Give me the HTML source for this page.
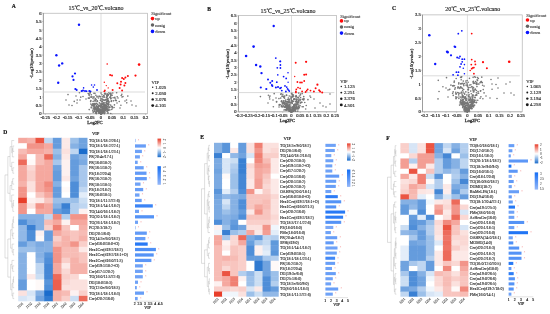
<!DOCTYPE html>
<html><head><meta charset="utf-8"><title>Volcano plots and VIP heatmaps</title>
<style>
html,body{margin:0;padding:0;background:#fff;}
body{width:550px;height:314px;overflow:hidden;}
svg{display:block;font-family:'Liberation Serif','WenQuanYi Zen Hei','Noto Serif CJK SC',serif;}
</style></head><body>
<svg width="550" height="314" viewBox="0 0 550 314">
<rect x="0" y="0" width="550" height="314" fill="#ffffff"/>
<rect x="43.30" y="13.20" width="104.00" height="100.60" fill="none" stroke="#a6a6a6" stroke-width="0.6"/>
<line x1="43.30" y1="13.20" x2="43.30" y2="113.80" stroke="#8a8a8a" stroke-width="0.7"/>
<line x1="43.30" y1="113.80" x2="147.30" y2="113.80" stroke="#b0b0b0" stroke-width="0.6"/>
<line x1="101.00" y1="13.20" x2="101.00" y2="113.80" stroke="#c8c8c8" stroke-width="0.6"/>
<line x1="43.30" y1="92.00" x2="145.00" y2="92.00" stroke="#d2d2d2" stroke-width="0.8"/>
<line x1="42.00" y1="113.80" x2="43.30" y2="113.80" stroke="#8a8a8a" stroke-width="0.4"/>
<text x="41.50" y="115.35" font-size="4.6" text-anchor="end" fill="#2b2b2b" stroke="#2b2b2b" stroke-width="0.18">0</text>
<line x1="42.00" y1="105.41" x2="43.30" y2="105.41" stroke="#8a8a8a" stroke-width="0.4"/>
<text x="41.50" y="106.96" font-size="4.6" text-anchor="end" fill="#2b2b2b" stroke="#2b2b2b" stroke-width="0.18">0.5</text>
<line x1="42.00" y1="97.03" x2="43.30" y2="97.03" stroke="#8a8a8a" stroke-width="0.4"/>
<text x="41.50" y="98.58" font-size="4.6" text-anchor="end" fill="#2b2b2b" stroke="#2b2b2b" stroke-width="0.18">1</text>
<line x1="42.00" y1="88.64" x2="43.30" y2="88.64" stroke="#8a8a8a" stroke-width="0.4"/>
<text x="41.50" y="90.19" font-size="4.6" text-anchor="end" fill="#2b2b2b" stroke="#2b2b2b" stroke-width="0.18">1.5</text>
<line x1="42.00" y1="80.26" x2="43.30" y2="80.26" stroke="#8a8a8a" stroke-width="0.4"/>
<text x="41.50" y="81.81" font-size="4.6" text-anchor="end" fill="#2b2b2b" stroke="#2b2b2b" stroke-width="0.18">2</text>
<line x1="42.00" y1="71.88" x2="43.30" y2="71.88" stroke="#8a8a8a" stroke-width="0.4"/>
<text x="41.50" y="73.42" font-size="4.6" text-anchor="end" fill="#2b2b2b" stroke="#2b2b2b" stroke-width="0.18">2.5</text>
<line x1="42.00" y1="63.49" x2="43.30" y2="63.49" stroke="#8a8a8a" stroke-width="0.4"/>
<text x="41.50" y="65.04" font-size="4.6" text-anchor="end" fill="#2b2b2b" stroke="#2b2b2b" stroke-width="0.18">3</text>
<line x1="42.00" y1="55.10" x2="43.30" y2="55.10" stroke="#8a8a8a" stroke-width="0.4"/>
<text x="41.50" y="56.65" font-size="4.6" text-anchor="end" fill="#2b2b2b" stroke="#2b2b2b" stroke-width="0.18">3.5</text>
<line x1="42.00" y1="46.72" x2="43.30" y2="46.72" stroke="#8a8a8a" stroke-width="0.4"/>
<text x="41.50" y="48.27" font-size="4.6" text-anchor="end" fill="#2b2b2b" stroke="#2b2b2b" stroke-width="0.18">4</text>
<line x1="42.00" y1="38.33" x2="43.30" y2="38.33" stroke="#8a8a8a" stroke-width="0.4"/>
<text x="41.50" y="39.88" font-size="4.6" text-anchor="end" fill="#2b2b2b" stroke="#2b2b2b" stroke-width="0.18">4.5</text>
<line x1="42.00" y1="29.95" x2="43.30" y2="29.95" stroke="#8a8a8a" stroke-width="0.4"/>
<text x="41.50" y="31.50" font-size="4.6" text-anchor="end" fill="#2b2b2b" stroke="#2b2b2b" stroke-width="0.18">5</text>
<line x1="42.00" y1="21.56" x2="43.30" y2="21.56" stroke="#8a8a8a" stroke-width="0.4"/>
<text x="41.50" y="23.11" font-size="4.6" text-anchor="end" fill="#2b2b2b" stroke="#2b2b2b" stroke-width="0.18">5.5</text>
<line x1="42.00" y1="13.18" x2="43.30" y2="13.18" stroke="#8a8a8a" stroke-width="0.4"/>
<text x="41.50" y="14.73" font-size="4.6" text-anchor="end" fill="#2b2b2b" stroke="#2b2b2b" stroke-width="0.18">6</text>
<line x1="45.33" y1="113.80" x2="45.33" y2="115.00" stroke="#8a8a8a" stroke-width="0.4"/>
<text x="45.33" y="119.20" font-size="4.6" text-anchor="middle" fill="#2b2b2b" stroke="#2b2b2b" stroke-width="0.18">-0.25</text>
<line x1="56.46" y1="113.80" x2="56.46" y2="115.00" stroke="#8a8a8a" stroke-width="0.4"/>
<text x="56.46" y="119.20" font-size="4.6" text-anchor="middle" fill="#2b2b2b" stroke="#2b2b2b" stroke-width="0.18">-0.2</text>
<line x1="67.59" y1="113.80" x2="67.59" y2="115.00" stroke="#8a8a8a" stroke-width="0.4"/>
<text x="67.59" y="119.20" font-size="4.6" text-anchor="middle" fill="#2b2b2b" stroke="#2b2b2b" stroke-width="0.18">-0.15</text>
<line x1="78.73" y1="113.80" x2="78.73" y2="115.00" stroke="#8a8a8a" stroke-width="0.4"/>
<text x="78.73" y="119.20" font-size="4.6" text-anchor="middle" fill="#2b2b2b" stroke="#2b2b2b" stroke-width="0.18">-0.1</text>
<line x1="89.86" y1="113.80" x2="89.86" y2="115.00" stroke="#8a8a8a" stroke-width="0.4"/>
<text x="89.86" y="119.20" font-size="4.6" text-anchor="middle" fill="#2b2b2b" stroke="#2b2b2b" stroke-width="0.18">-0.05</text>
<line x1="101.00" y1="113.80" x2="101.00" y2="115.00" stroke="#8a8a8a" stroke-width="0.4"/>
<text x="101.00" y="119.20" font-size="4.6" text-anchor="middle" fill="#2b2b2b" stroke="#2b2b2b" stroke-width="0.18">0</text>
<line x1="112.14" y1="113.80" x2="112.14" y2="115.00" stroke="#8a8a8a" stroke-width="0.4"/>
<text x="112.14" y="119.20" font-size="4.6" text-anchor="middle" fill="#2b2b2b" stroke="#2b2b2b" stroke-width="0.18">0.05</text>
<line x1="123.27" y1="113.80" x2="123.27" y2="115.00" stroke="#8a8a8a" stroke-width="0.4"/>
<text x="123.27" y="119.20" font-size="4.6" text-anchor="middle" fill="#2b2b2b" stroke="#2b2b2b" stroke-width="0.18">0.1</text>
<line x1="134.41" y1="113.80" x2="134.41" y2="115.00" stroke="#8a8a8a" stroke-width="0.4"/>
<text x="134.41" y="119.20" font-size="4.6" text-anchor="middle" fill="#2b2b2b" stroke="#2b2b2b" stroke-width="0.18">0.15</text>
<line x1="145.54" y1="113.80" x2="145.54" y2="115.00" stroke="#8a8a8a" stroke-width="0.4"/>
<text x="145.54" y="119.20" font-size="4.6" text-anchor="middle" fill="#2b2b2b" stroke="#2b2b2b" stroke-width="0.18">0.2</text>
<text x="95.00" y="123.90" font-size="4.6" text-anchor="middle" fill="#2b2b2b" stroke="#2b2b2b" stroke-width="0.28">Log2FC</text>
<text x="32.80" y="63.20" font-size="4.8" text-anchor="middle" fill="#2b2b2b" stroke="#2b2b2b" stroke-width="0.2" transform="rotate(-90 32.80 63.20)">-Log10(pvalue)</text>
<text x="96.00" y="9.60" font-size="6.2" text-anchor="middle" fill="#222" stroke="#222" stroke-width="0.15" textLength="55" lengthAdjust="spacingAndGlyphs">15℃_vs_20℃.volcano</text>
<text x="13.80" y="7.60" font-size="5.6" text-anchor="middle" fill="#111" stroke="#111" stroke-width="0.18" font-weight="bold">A</text>
<circle cx="109.49" cy="107.08" r="0.82" fill="#767676"/>
<circle cx="96.35" cy="106.20" r="0.82" fill="#767676"/>
<circle cx="99.47" cy="112.01" r="0.82" fill="#767676"/>
<circle cx="103.41" cy="111.13" r="0.82" fill="#767676"/>
<circle cx="102.06" cy="112.28" r="0.82" fill="#767676"/>
<circle cx="97.06" cy="96.32" r="0.82" fill="#767676"/>
<circle cx="102.79" cy="106.78" r="0.82" fill="#767676"/>
<circle cx="100.75" cy="108.99" r="0.82" fill="#767676"/>
<circle cx="105.72" cy="109.12" r="0.82" fill="#767676"/>
<circle cx="94.78" cy="111.07" r="0.82" fill="#767676"/>
<circle cx="97.72" cy="108.51" r="0.82" fill="#767676"/>
<circle cx="100.27" cy="113.16" r="0.82" fill="#767676"/>
<circle cx="107.24" cy="99.80" r="0.82" fill="#767676"/>
<circle cx="106.17" cy="102.84" r="0.82" fill="#767676"/>
<circle cx="109.86" cy="109.88" r="0.82" fill="#767676"/>
<circle cx="108.34" cy="103.97" r="0.82" fill="#767676"/>
<circle cx="92.84" cy="103.80" r="0.82" fill="#767676"/>
<circle cx="100.65" cy="113.43" r="0.82" fill="#767676"/>
<circle cx="94.44" cy="109.66" r="0.82" fill="#767676"/>
<circle cx="103.40" cy="102.88" r="0.82" fill="#767676"/>
<circle cx="98.51" cy="108.50" r="0.82" fill="#767676"/>
<circle cx="93.27" cy="105.50" r="0.82" fill="#767676"/>
<circle cx="88.73" cy="93.91" r="0.82" fill="#767676"/>
<circle cx="102.07" cy="112.27" r="0.82" fill="#767676"/>
<circle cx="90.25" cy="96.97" r="0.82" fill="#767676"/>
<circle cx="90.84" cy="104.07" r="0.82" fill="#767676"/>
<circle cx="97.47" cy="109.52" r="0.82" fill="#767676"/>
<circle cx="113.09" cy="97.79" r="0.82" fill="#767676"/>
<circle cx="101.14" cy="113.71" r="0.82" fill="#767676"/>
<circle cx="95.41" cy="112.76" r="0.82" fill="#767676"/>
<circle cx="104.09" cy="97.03" r="0.82" fill="#767676"/>
<circle cx="96.64" cy="109.21" r="0.82" fill="#767676"/>
<circle cx="105.06" cy="93.58" r="0.82" fill="#767676"/>
<circle cx="103.50" cy="111.66" r="0.82" fill="#767676"/>
<circle cx="93.13" cy="101.48" r="0.82" fill="#767676"/>
<circle cx="106.88" cy="104.97" r="0.82" fill="#767676"/>
<circle cx="94.62" cy="104.18" r="0.82" fill="#767676"/>
<circle cx="115.37" cy="100.48" r="0.82" fill="#767676"/>
<circle cx="106.75" cy="95.67" r="0.82" fill="#767676"/>
<circle cx="98.80" cy="106.87" r="0.82" fill="#767676"/>
<circle cx="102.28" cy="113.04" r="0.82" fill="#767676"/>
<circle cx="102.13" cy="112.86" r="0.82" fill="#767676"/>
<circle cx="101.11" cy="113.68" r="0.82" fill="#767676"/>
<circle cx="106.64" cy="107.90" r="0.82" fill="#767676"/>
<circle cx="104.31" cy="105.75" r="0.82" fill="#767676"/>
<circle cx="100.88" cy="113.72" r="0.82" fill="#767676"/>
<circle cx="116.28" cy="100.61" r="0.82" fill="#767676"/>
<circle cx="98.41" cy="105.28" r="0.82" fill="#767676"/>
<circle cx="101.19" cy="113.55" r="0.82" fill="#767676"/>
<circle cx="104.23" cy="111.41" r="0.82" fill="#767676"/>
<circle cx="106.40" cy="103.49" r="0.82" fill="#767676"/>
<circle cx="99.78" cy="112.37" r="0.82" fill="#767676"/>
<circle cx="99.58" cy="109.55" r="0.82" fill="#767676"/>
<circle cx="111.05" cy="106.98" r="0.82" fill="#767676"/>
<circle cx="101.58" cy="112.79" r="0.82" fill="#767676"/>
<circle cx="102.59" cy="104.40" r="0.82" fill="#767676"/>
<circle cx="106.28" cy="97.36" r="0.82" fill="#767676"/>
<circle cx="95.79" cy="99.25" r="0.82" fill="#767676"/>
<circle cx="100.14" cy="113.17" r="0.82" fill="#767676"/>
<circle cx="101.51" cy="112.93" r="0.82" fill="#767676"/>
<circle cx="108.90" cy="92.81" r="0.82" fill="#767676"/>
<circle cx="99.45" cy="112.09" r="0.82" fill="#767676"/>
<circle cx="102.70" cy="108.93" r="0.82" fill="#767676"/>
<circle cx="91.63" cy="104.98" r="0.82" fill="#767676"/>
<circle cx="110.75" cy="97.51" r="0.82" fill="#767676"/>
<circle cx="106.68" cy="97.94" r="0.82" fill="#767676"/>
<circle cx="105.75" cy="105.02" r="0.82" fill="#767676"/>
<circle cx="114.46" cy="97.85" r="0.82" fill="#767676"/>
<circle cx="107.49" cy="98.89" r="0.82" fill="#767676"/>
<circle cx="103.73" cy="111.09" r="0.82" fill="#767676"/>
<circle cx="109.78" cy="97.35" r="0.82" fill="#767676"/>
<circle cx="111.44" cy="100.93" r="0.82" fill="#767676"/>
<circle cx="98.40" cy="110.24" r="0.82" fill="#767676"/>
<circle cx="107.95" cy="100.19" r="0.82" fill="#767676"/>
<circle cx="105.37" cy="105.71" r="0.82" fill="#767676"/>
<circle cx="102.44" cy="96.86" r="0.82" fill="#767676"/>
<circle cx="105.28" cy="108.14" r="0.82" fill="#767676"/>
<circle cx="106.86" cy="101.50" r="0.82" fill="#767676"/>
<circle cx="102.47" cy="107.68" r="0.82" fill="#767676"/>
<circle cx="94.92" cy="93.39" r="0.82" fill="#767676"/>
<circle cx="105.27" cy="105.15" r="0.82" fill="#767676"/>
<circle cx="99.95" cy="112.60" r="0.82" fill="#767676"/>
<circle cx="101.21" cy="113.59" r="0.82" fill="#767676"/>
<circle cx="93.12" cy="111.22" r="0.82" fill="#767676"/>
<circle cx="102.48" cy="108.25" r="0.82" fill="#767676"/>
<circle cx="94.20" cy="97.01" r="0.82" fill="#767676"/>
<circle cx="97.60" cy="108.49" r="0.82" fill="#767676"/>
<circle cx="101.51" cy="112.77" r="0.82" fill="#767676"/>
<circle cx="107.93" cy="98.48" r="0.82" fill="#767676"/>
<circle cx="97.42" cy="104.41" r="0.82" fill="#767676"/>
<circle cx="99.71" cy="111.19" r="0.82" fill="#767676"/>
<circle cx="103.65" cy="95.62" r="0.82" fill="#767676"/>
<circle cx="89.19" cy="109.58" r="0.82" fill="#767676"/>
<circle cx="96.76" cy="111.84" r="0.82" fill="#767676"/>
<circle cx="98.84" cy="111.38" r="0.82" fill="#767676"/>
<circle cx="111.33" cy="101.40" r="0.82" fill="#767676"/>
<circle cx="108.33" cy="95.11" r="0.82" fill="#767676"/>
<circle cx="107.37" cy="111.74" r="0.82" fill="#767676"/>
<circle cx="105.00" cy="93.33" r="0.82" fill="#767676"/>
<circle cx="110.89" cy="93.22" r="0.82" fill="#767676"/>
<circle cx="93.17" cy="104.37" r="0.82" fill="#767676"/>
<circle cx="103.46" cy="111.89" r="0.82" fill="#767676"/>
<circle cx="96.44" cy="113.61" r="0.82" fill="#767676"/>
<circle cx="99.58" cy="111.40" r="0.82" fill="#767676"/>
<circle cx="126.75" cy="102.86" r="0.82" fill="#767676"/>
<circle cx="110.75" cy="93.22" r="0.82" fill="#767676"/>
<circle cx="100.82" cy="113.64" r="0.82" fill="#767676"/>
<circle cx="104.84" cy="109.37" r="0.82" fill="#767676"/>
<circle cx="106.93" cy="97.04" r="0.82" fill="#767676"/>
<circle cx="119.24" cy="101.51" r="0.82" fill="#767676"/>
<circle cx="103.10" cy="99.91" r="0.82" fill="#767676"/>
<circle cx="102.10" cy="106.17" r="0.82" fill="#767676"/>
<circle cx="106.59" cy="101.67" r="0.82" fill="#767676"/>
<circle cx="102.07" cy="112.71" r="0.82" fill="#767676"/>
<circle cx="99.22" cy="105.55" r="0.82" fill="#767676"/>
<circle cx="94.65" cy="108.06" r="0.82" fill="#767676"/>
<circle cx="107.22" cy="106.65" r="0.82" fill="#767676"/>
<circle cx="103.39" cy="111.27" r="0.82" fill="#767676"/>
<circle cx="105.71" cy="107.29" r="0.82" fill="#767676"/>
<circle cx="95.37" cy="107.28" r="0.82" fill="#767676"/>
<circle cx="105.62" cy="107.24" r="0.82" fill="#767676"/>
<circle cx="102.15" cy="103.38" r="0.82" fill="#767676"/>
<circle cx="103.57" cy="111.33" r="0.82" fill="#767676"/>
<circle cx="94.07" cy="105.82" r="0.82" fill="#767676"/>
<circle cx="98.21" cy="106.92" r="0.82" fill="#767676"/>
<circle cx="96.15" cy="99.76" r="0.82" fill="#767676"/>
<circle cx="95.52" cy="107.86" r="0.82" fill="#767676"/>
<circle cx="101.96" cy="112.70" r="0.82" fill="#767676"/>
<circle cx="91.23" cy="107.87" r="0.82" fill="#767676"/>
<circle cx="107.88" cy="100.62" r="0.82" fill="#767676"/>
<circle cx="101.34" cy="113.56" r="0.82" fill="#767676"/>
<circle cx="106.23" cy="109.46" r="0.82" fill="#767676"/>
<circle cx="97.28" cy="109.09" r="0.82" fill="#767676"/>
<circle cx="106.48" cy="105.66" r="0.82" fill="#767676"/>
<circle cx="97.29" cy="108.80" r="0.82" fill="#767676"/>
<circle cx="105.41" cy="107.72" r="0.82" fill="#767676"/>
<circle cx="99.57" cy="112.30" r="0.82" fill="#767676"/>
<circle cx="99.09" cy="112.24" r="0.82" fill="#767676"/>
<circle cx="101.03" cy="103.88" r="0.82" fill="#767676"/>
<circle cx="89.16" cy="95.55" r="0.82" fill="#767676"/>
<circle cx="74.24" cy="101.44" r="0.82" fill="#767676"/>
<circle cx="100.36" cy="112.32" r="0.82" fill="#767676"/>
<circle cx="103.42" cy="104.57" r="0.82" fill="#767676"/>
<circle cx="102.54" cy="99.11" r="0.82" fill="#767676"/>
<circle cx="99.91" cy="110.23" r="0.82" fill="#767676"/>
<circle cx="100.59" cy="96.86" r="0.82" fill="#767676"/>
<circle cx="95.87" cy="95.21" r="0.82" fill="#767676"/>
<circle cx="90.85" cy="100.48" r="0.82" fill="#767676"/>
<circle cx="102.23" cy="113.17" r="0.82" fill="#767676"/>
<circle cx="109.01" cy="101.62" r="0.82" fill="#767676"/>
<circle cx="100.42" cy="100.38" r="0.82" fill="#767676"/>
<circle cx="101.04" cy="98.76" r="0.82" fill="#767676"/>
<circle cx="94.21" cy="100.09" r="0.82" fill="#767676"/>
<circle cx="100.76" cy="113.42" r="0.82" fill="#767676"/>
<circle cx="99.04" cy="112.82" r="0.82" fill="#767676"/>
<circle cx="100.75" cy="112.72" r="0.82" fill="#767676"/>
<circle cx="94.09" cy="107.09" r="0.82" fill="#767676"/>
<circle cx="92.97" cy="98.31" r="0.82" fill="#767676"/>
<circle cx="94.26" cy="105.86" r="0.82" fill="#767676"/>
<circle cx="104.35" cy="108.69" r="0.82" fill="#767676"/>
<circle cx="104.29" cy="113.69" r="0.82" fill="#767676"/>
<circle cx="103.11" cy="100.10" r="0.82" fill="#767676"/>
<circle cx="94.98" cy="108.96" r="0.82" fill="#767676"/>
<circle cx="99.59" cy="113.09" r="0.82" fill="#767676"/>
<circle cx="126.54" cy="100.05" r="0.82" fill="#767676"/>
<circle cx="100.27" cy="111.68" r="0.82" fill="#767676"/>
<circle cx="103.87" cy="105.64" r="0.82" fill="#767676"/>
<circle cx="111.79" cy="109.40" r="0.82" fill="#767676"/>
<circle cx="98.66" cy="110.43" r="0.82" fill="#767676"/>
<circle cx="103.63" cy="110.20" r="0.82" fill="#767676"/>
<circle cx="108.49" cy="104.33" r="0.82" fill="#767676"/>
<circle cx="92.01" cy="105.25" r="0.82" fill="#767676"/>
<circle cx="94.11" cy="108.59" r="0.82" fill="#767676"/>
<circle cx="101.13" cy="113.65" r="0.82" fill="#767676"/>
<circle cx="102.97" cy="110.10" r="0.82" fill="#767676"/>
<circle cx="110.80" cy="95.38" r="0.82" fill="#767676"/>
<circle cx="79.42" cy="92.80" r="0.82" fill="#767676"/>
<circle cx="97.18" cy="108.98" r="0.82" fill="#767676"/>
<circle cx="114.03" cy="107.53" r="0.82" fill="#767676"/>
<circle cx="100.68" cy="113.51" r="0.82" fill="#767676"/>
<circle cx="102.63" cy="110.96" r="0.82" fill="#767676"/>
<circle cx="100.38" cy="109.78" r="0.82" fill="#767676"/>
<circle cx="103.76" cy="103.22" r="0.82" fill="#767676"/>
<circle cx="114.86" cy="97.21" r="0.82" fill="#767676"/>
<circle cx="110.71" cy="94.70" r="0.82" fill="#767676"/>
<circle cx="98.90" cy="113.22" r="0.82" fill="#767676"/>
<circle cx="101.15" cy="105.61" r="0.82" fill="#767676"/>
<circle cx="77.20" cy="100.00" r="0.82" fill="#767676"/>
<circle cx="103.45" cy="108.58" r="0.82" fill="#767676"/>
<circle cx="101.81" cy="112.81" r="0.82" fill="#767676"/>
<circle cx="95.88" cy="108.76" r="0.82" fill="#767676"/>
<circle cx="98.65" cy="111.45" r="0.82" fill="#767676"/>
<circle cx="104.65" cy="104.59" r="0.82" fill="#767676"/>
<circle cx="88.19" cy="93.54" r="0.82" fill="#767676"/>
<circle cx="103.48" cy="110.26" r="0.82" fill="#767676"/>
<circle cx="102.97" cy="111.35" r="0.82" fill="#767676"/>
<circle cx="110.67" cy="98.73" r="0.82" fill="#767676"/>
<circle cx="93.04" cy="104.94" r="0.82" fill="#767676"/>
<circle cx="99.78" cy="112.62" r="0.82" fill="#767676"/>
<circle cx="103.68" cy="110.22" r="0.82" fill="#767676"/>
<circle cx="97.31" cy="100.95" r="0.82" fill="#767676"/>
<circle cx="100.19" cy="113.20" r="0.82" fill="#767676"/>
<circle cx="107.67" cy="95.71" r="0.82" fill="#767676"/>
<circle cx="111.04" cy="98.57" r="0.82" fill="#767676"/>
<circle cx="100.90" cy="105.12" r="0.82" fill="#767676"/>
<circle cx="100.87" cy="113.74" r="0.82" fill="#767676"/>
<circle cx="93.91" cy="93.21" r="0.82" fill="#767676"/>
<circle cx="104.00" cy="110.71" r="0.82" fill="#767676"/>
<circle cx="99.14" cy="105.59" r="0.82" fill="#767676"/>
<circle cx="101.72" cy="101.16" r="0.82" fill="#767676"/>
<circle cx="96.00" cy="113.36" r="0.82" fill="#767676"/>
<circle cx="107.55" cy="110.10" r="0.82" fill="#767676"/>
<circle cx="95.96" cy="108.57" r="0.82" fill="#767676"/>
<circle cx="104.96" cy="99.95" r="0.82" fill="#767676"/>
<circle cx="108.96" cy="104.28" r="0.82" fill="#767676"/>
<circle cx="102.30" cy="106.96" r="0.82" fill="#767676"/>
<circle cx="107.24" cy="101.36" r="0.82" fill="#767676"/>
<circle cx="108.33" cy="101.23" r="0.82" fill="#767676"/>
<circle cx="101.45" cy="105.08" r="0.82" fill="#767676"/>
<circle cx="106.43" cy="99.81" r="0.82" fill="#767676"/>
<circle cx="108.02" cy="103.54" r="0.82" fill="#767676"/>
<circle cx="100.60" cy="106.28" r="0.82" fill="#767676"/>
<circle cx="108.66" cy="110.21" r="0.82" fill="#767676"/>
<circle cx="96.23" cy="109.87" r="0.82" fill="#767676"/>
<circle cx="103.42" cy="110.75" r="0.82" fill="#767676"/>
<circle cx="88.39" cy="98.16" r="0.82" fill="#767676"/>
<circle cx="102.56" cy="110.13" r="0.82" fill="#767676"/>
<circle cx="117.19" cy="96.75" r="0.82" fill="#767676"/>
<circle cx="98.89" cy="111.49" r="0.82" fill="#767676"/>
<circle cx="109.64" cy="93.80" r="0.82" fill="#767676"/>
<circle cx="97.25" cy="109.92" r="0.82" fill="#767676"/>
<circle cx="102.62" cy="111.75" r="0.82" fill="#767676"/>
<circle cx="102.44" cy="113.12" r="0.82" fill="#767676"/>
<circle cx="90.25" cy="92.57" r="0.82" fill="#767676"/>
<circle cx="106.15" cy="108.18" r="0.82" fill="#767676"/>
<circle cx="110.74" cy="113.46" r="0.82" fill="#767676"/>
<circle cx="97.36" cy="107.16" r="0.82" fill="#767676"/>
<circle cx="106.34" cy="109.07" r="0.82" fill="#767676"/>
<circle cx="101.10" cy="113.71" r="0.82" fill="#767676"/>
<circle cx="100.28" cy="110.58" r="0.82" fill="#767676"/>
<circle cx="102.95" cy="107.47" r="0.82" fill="#767676"/>
<circle cx="108.14" cy="104.55" r="0.82" fill="#767676"/>
<circle cx="103.72" cy="109.66" r="0.82" fill="#767676"/>
<circle cx="102.02" cy="112.56" r="0.82" fill="#767676"/>
<circle cx="102.63" cy="109.01" r="0.82" fill="#767676"/>
<circle cx="103.03" cy="111.46" r="0.82" fill="#767676"/>
<circle cx="100.81" cy="109.63" r="0.82" fill="#767676"/>
<circle cx="107.20" cy="101.36" r="0.82" fill="#767676"/>
<circle cx="100.34" cy="112.67" r="0.82" fill="#767676"/>
<circle cx="110.53" cy="96.52" r="0.82" fill="#767676"/>
<circle cx="102.43" cy="101.47" r="0.82" fill="#767676"/>
<circle cx="100.88" cy="113.34" r="0.82" fill="#767676"/>
<circle cx="103.26" cy="106.99" r="0.82" fill="#767676"/>
<circle cx="93.47" cy="104.82" r="0.82" fill="#767676"/>
<circle cx="103.66" cy="111.03" r="0.82" fill="#767676"/>
<circle cx="89.27" cy="98.17" r="0.82" fill="#767676"/>
<circle cx="98.77" cy="108.21" r="0.82" fill="#767676"/>
<circle cx="105.00" cy="112.79" r="0.82" fill="#767676"/>
<circle cx="101.05" cy="113.72" r="0.82" fill="#767676"/>
<circle cx="108.89" cy="102.61" r="0.82" fill="#767676"/>
<circle cx="99.64" cy="109.47" r="0.82" fill="#767676"/>
<circle cx="108.51" cy="105.82" r="0.82" fill="#767676"/>
<circle cx="101.62" cy="105.70" r="0.82" fill="#767676"/>
<circle cx="108.33" cy="100.53" r="0.82" fill="#767676"/>
<circle cx="98.94" cy="96.35" r="0.82" fill="#767676"/>
<circle cx="98.63" cy="108.90" r="0.82" fill="#767676"/>
<circle cx="100.71" cy="107.28" r="0.82" fill="#767676"/>
<circle cx="97.27" cy="108.84" r="0.82" fill="#767676"/>
<circle cx="104.84" cy="102.76" r="0.82" fill="#767676"/>
<circle cx="112.76" cy="93.00" r="0.82" fill="#767676"/>
<circle cx="116.62" cy="92.73" r="0.82" fill="#767676"/>
<circle cx="89.24" cy="94.20" r="0.82" fill="#767676"/>
<circle cx="107.67" cy="94.67" r="0.82" fill="#767676"/>
<circle cx="102.92" cy="112.48" r="0.82" fill="#767676"/>
<circle cx="121.82" cy="94.27" r="0.82" fill="#767676"/>
<circle cx="103.70" cy="108.25" r="0.82" fill="#767676"/>
<circle cx="101.71" cy="110.94" r="0.82" fill="#767676"/>
<circle cx="96.71" cy="103.77" r="0.82" fill="#767676"/>
<circle cx="98.45" cy="111.28" r="0.82" fill="#767676"/>
<circle cx="100.54" cy="113.55" r="0.82" fill="#767676"/>
<circle cx="105.51" cy="110.65" r="0.82" fill="#767676"/>
<circle cx="101.32" cy="110.99" r="0.82" fill="#767676"/>
<circle cx="107.71" cy="110.17" r="0.82" fill="#767676"/>
<circle cx="103.60" cy="110.88" r="0.82" fill="#767676"/>
<circle cx="94.94" cy="101.09" r="0.82" fill="#767676"/>
<circle cx="109.58" cy="107.59" r="0.82" fill="#767676"/>
<circle cx="99.49" cy="112.69" r="0.82" fill="#767676"/>
<circle cx="96.27" cy="108.53" r="0.82" fill="#767676"/>
<circle cx="94.56" cy="111.23" r="0.82" fill="#767676"/>
<circle cx="100.63" cy="113.24" r="0.82" fill="#767676"/>
<circle cx="104.51" cy="106.98" r="0.82" fill="#767676"/>
<circle cx="105.85" cy="106.57" r="0.82" fill="#767676"/>
<circle cx="93.19" cy="108.07" r="0.82" fill="#767676"/>
<circle cx="101.97" cy="94.79" r="0.82" fill="#767676"/>
<circle cx="98.24" cy="108.58" r="0.82" fill="#767676"/>
<circle cx="104.82" cy="110.31" r="0.82" fill="#767676"/>
<circle cx="103.14" cy="110.87" r="0.82" fill="#767676"/>
<circle cx="102.44" cy="106.72" r="0.82" fill="#767676"/>
<circle cx="122.94" cy="96.57" r="0.82" fill="#767676"/>
<circle cx="114.42" cy="104.91" r="0.82" fill="#767676"/>
<circle cx="108.42" cy="108.02" r="0.82" fill="#767676"/>
<circle cx="97.12" cy="111.43" r="0.82" fill="#767676"/>
<circle cx="92.77" cy="110.30" r="0.82" fill="#767676"/>
<circle cx="106.47" cy="111.03" r="0.82" fill="#767676"/>
<circle cx="93.24" cy="105.70" r="0.82" fill="#767676"/>
<circle cx="104.91" cy="109.95" r="0.82" fill="#767676"/>
<circle cx="111.17" cy="95.10" r="0.82" fill="#767676"/>
<circle cx="102.49" cy="113.38" r="0.82" fill="#767676"/>
<circle cx="96.10" cy="112.17" r="0.82" fill="#767676"/>
<circle cx="96.95" cy="108.65" r="0.82" fill="#767676"/>
<circle cx="97.08" cy="106.37" r="0.82" fill="#767676"/>
<circle cx="99.78" cy="105.70" r="0.82" fill="#767676"/>
<circle cx="101.51" cy="104.76" r="0.82" fill="#767676"/>
<circle cx="101.35" cy="112.89" r="0.82" fill="#767676"/>
<circle cx="105.50" cy="110.41" r="0.82" fill="#767676"/>
<circle cx="107.00" cy="108.19" r="0.82" fill="#767676"/>
<circle cx="93.31" cy="104.11" r="0.82" fill="#767676"/>
<circle cx="99.71" cy="112.05" r="0.82" fill="#767676"/>
<circle cx="98.47" cy="98.05" r="0.82" fill="#767676"/>
<circle cx="100.94" cy="113.66" r="0.82" fill="#767676"/>
<circle cx="127.80" cy="96.12" r="0.82" fill="#767676"/>
<circle cx="80.74" cy="97.14" r="0.82" fill="#767676"/>
<circle cx="107.02" cy="103.64" r="0.82" fill="#767676"/>
<circle cx="108.41" cy="94.63" r="0.82" fill="#767676"/>
<circle cx="108.00" cy="112.99" r="0.82" fill="#767676"/>
<circle cx="101.09" cy="113.67" r="0.82" fill="#767676"/>
<circle cx="102.19" cy="109.28" r="0.82" fill="#767676"/>
<circle cx="97.17" cy="110.20" r="0.82" fill="#767676"/>
<circle cx="99.82" cy="111.62" r="0.82" fill="#767676"/>
<circle cx="100.79" cy="113.61" r="0.82" fill="#767676"/>
<circle cx="104.85" cy="100.40" r="0.82" fill="#767676"/>
<circle cx="101.53" cy="111.28" r="0.82" fill="#767676"/>
<circle cx="99.03" cy="110.43" r="0.82" fill="#767676"/>
<circle cx="96.33" cy="103.29" r="0.82" fill="#767676"/>
<circle cx="121.20" cy="95.47" r="0.82" fill="#767676"/>
<circle cx="112.24" cy="106.83" r="0.82" fill="#767676"/>
<circle cx="107.96" cy="109.48" r="0.82" fill="#767676"/>
<circle cx="100.54" cy="113.33" r="0.82" fill="#767676"/>
<circle cx="95.05" cy="104.58" r="0.82" fill="#767676"/>
<circle cx="99.34" cy="109.69" r="0.82" fill="#767676"/>
<circle cx="90.09" cy="92.91" r="0.82" fill="#767676"/>
<circle cx="96.19" cy="107.95" r="0.82" fill="#767676"/>
<circle cx="101.01" cy="113.78" r="0.82" fill="#767676"/>
<circle cx="96.13" cy="108.43" r="0.82" fill="#767676"/>
<circle cx="99.30" cy="111.66" r="0.82" fill="#767676"/>
<circle cx="100.16" cy="112.72" r="0.82" fill="#767676"/>
<circle cx="103.32" cy="111.28" r="0.82" fill="#767676"/>
<circle cx="107.64" cy="110.64" r="0.82" fill="#767676"/>
<circle cx="110.63" cy="105.09" r="0.82" fill="#767676"/>
<circle cx="112.18" cy="95.27" r="0.82" fill="#767676"/>
<circle cx="103.91" cy="95.75" r="0.82" fill="#767676"/>
<circle cx="100.92" cy="106.67" r="0.82" fill="#767676"/>
<circle cx="102.00" cy="103.13" r="0.82" fill="#767676"/>
<circle cx="98.61" cy="108.88" r="0.82" fill="#767676"/>
<circle cx="101.15" cy="99.12" r="0.82" fill="#767676"/>
<circle cx="96.82" cy="109.32" r="0.82" fill="#767676"/>
<circle cx="101.15" cy="113.63" r="0.82" fill="#767676"/>
<circle cx="104.51" cy="94.00" r="0.82" fill="#767676"/>
<circle cx="104.29" cy="104.37" r="0.82" fill="#767676"/>
<circle cx="104.05" cy="97.18" r="0.82" fill="#767676"/>
<circle cx="112.60" cy="107.88" r="0.82" fill="#767676"/>
<circle cx="105.59" cy="99.55" r="0.82" fill="#767676"/>
<circle cx="103.59" cy="106.26" r="0.82" fill="#767676"/>
<circle cx="100.82" cy="113.46" r="0.82" fill="#767676"/>
<circle cx="104.99" cy="109.66" r="0.82" fill="#767676"/>
<circle cx="91.31" cy="107.02" r="0.82" fill="#767676"/>
<circle cx="99.51" cy="96.39" r="0.82" fill="#767676"/>
<circle cx="96.40" cy="105.93" r="0.82" fill="#767676"/>
<circle cx="100.12" cy="104.01" r="0.82" fill="#767676"/>
<circle cx="108.32" cy="110.40" r="0.82" fill="#767676"/>
<circle cx="100.79" cy="113.66" r="0.82" fill="#767676"/>
<circle cx="107.16" cy="93.91" r="0.82" fill="#767676"/>
<circle cx="104.62" cy="108.23" r="0.82" fill="#767676"/>
<circle cx="94.87" cy="109.33" r="0.82" fill="#767676"/>
<circle cx="95.54" cy="100.74" r="0.82" fill="#767676"/>
<circle cx="106.10" cy="105.20" r="0.82" fill="#767676"/>
<circle cx="93.12" cy="105.91" r="0.82" fill="#767676"/>
<circle cx="99.38" cy="102.94" r="0.82" fill="#767676"/>
<circle cx="104.00" cy="112.81" r="0.82" fill="#767676"/>
<circle cx="103.28" cy="111.71" r="0.82" fill="#767676"/>
<circle cx="101.45" cy="107.86" r="0.82" fill="#767676"/>
<circle cx="102.64" cy="111.94" r="0.82" fill="#767676"/>
<circle cx="97.31" cy="101.48" r="0.82" fill="#767676"/>
<circle cx="95.24" cy="98.51" r="0.82" fill="#767676"/>
<circle cx="97.01" cy="97.03" r="0.82" fill="#767676"/>
<circle cx="107.90" cy="112.98" r="0.82" fill="#767676"/>
<circle cx="93.23" cy="112.34" r="0.82" fill="#767676"/>
<circle cx="102.22" cy="112.53" r="0.82" fill="#767676"/>
<circle cx="91.36" cy="97.21" r="0.82" fill="#767676"/>
<circle cx="93.47" cy="109.03" r="0.82" fill="#767676"/>
<circle cx="113.44" cy="100.86" r="0.82" fill="#767676"/>
<circle cx="97.04" cy="110.76" r="0.82" fill="#767676"/>
<circle cx="100.71" cy="113.60" r="0.82" fill="#767676"/>
<circle cx="94.64" cy="107.38" r="0.82" fill="#767676"/>
<circle cx="107.92" cy="101.84" r="0.82" fill="#767676"/>
<circle cx="102.19" cy="112.55" r="0.82" fill="#767676"/>
<circle cx="95.09" cy="103.68" r="0.82" fill="#767676"/>
<circle cx="102.33" cy="111.96" r="0.82" fill="#767676"/>
<circle cx="104.33" cy="111.25" r="0.82" fill="#767676"/>
<circle cx="101.05" cy="93.07" r="0.82" fill="#767676"/>
<circle cx="94.32" cy="103.57" r="0.82" fill="#767676"/>
<circle cx="96.37" cy="111.00" r="0.82" fill="#767676"/>
<circle cx="101.17" cy="109.56" r="0.82" fill="#767676"/>
<circle cx="102.84" cy="109.10" r="0.82" fill="#767676"/>
<circle cx="115.57" cy="98.96" r="0.82" fill="#767676"/>
<circle cx="107.06" cy="106.45" r="0.82" fill="#767676"/>
<circle cx="90.66" cy="101.61" r="0.82" fill="#767676"/>
<circle cx="94.93" cy="107.39" r="0.82" fill="#767676"/>
<circle cx="101.81" cy="112.68" r="0.82" fill="#767676"/>
<circle cx="100.26" cy="112.90" r="0.82" fill="#767676"/>
<circle cx="103.38" cy="109.91" r="0.82" fill="#767676"/>
<circle cx="93.24" cy="97.06" r="0.82" fill="#767676"/>
<circle cx="97.41" cy="101.19" r="0.82" fill="#767676"/>
<circle cx="107.06" cy="108.28" r="0.82" fill="#767676"/>
<circle cx="94.91" cy="111.27" r="0.82" fill="#767676"/>
<circle cx="101.56" cy="112.59" r="0.82" fill="#767676"/>
<circle cx="104.19" cy="110.35" r="0.82" fill="#767676"/>
<circle cx="107.26" cy="96.43" r="0.82" fill="#767676"/>
<circle cx="104.20" cy="110.93" r="0.82" fill="#767676"/>
<circle cx="97.87" cy="109.54" r="0.82" fill="#767676"/>
<circle cx="120.90" cy="105.30" r="0.82" fill="#767676"/>
<circle cx="103.13" cy="112.43" r="0.82" fill="#767676"/>
<circle cx="99.54" cy="113.14" r="0.82" fill="#767676"/>
<circle cx="99.91" cy="105.96" r="0.82" fill="#767676"/>
<circle cx="99.57" cy="111.79" r="0.82" fill="#767676"/>
<circle cx="99.78" cy="112.54" r="0.82" fill="#767676"/>
<circle cx="102.04" cy="111.15" r="0.82" fill="#767676"/>
<circle cx="98.23" cy="108.02" r="0.82" fill="#767676"/>
<circle cx="97.69" cy="107.45" r="0.82" fill="#767676"/>
<circle cx="91.27" cy="94.83" r="0.82" fill="#767676"/>
<circle cx="104.31" cy="106.25" r="0.82" fill="#767676"/>
<circle cx="100.28" cy="111.41" r="0.82" fill="#767676"/>
<circle cx="107.54" cy="99.92" r="0.82" fill="#767676"/>
<circle cx="93.64" cy="105.55" r="0.82" fill="#767676"/>
<circle cx="99.51" cy="111.74" r="0.82" fill="#767676"/>
<circle cx="101.82" cy="111.70" r="0.82" fill="#767676"/>
<circle cx="95.86" cy="109.76" r="0.82" fill="#767676"/>
<circle cx="104.01" cy="106.51" r="0.82" fill="#767676"/>
<circle cx="105.97" cy="94.27" r="0.82" fill="#767676"/>
<circle cx="108.74" cy="106.95" r="0.82" fill="#767676"/>
<circle cx="102.50" cy="112.02" r="0.82" fill="#767676"/>
<circle cx="111.81" cy="106.23" r="0.82" fill="#767676"/>
<circle cx="107.72" cy="104.10" r="0.82" fill="#767676"/>
<circle cx="104.82" cy="107.79" r="0.82" fill="#767676"/>
<circle cx="91.80" cy="96.79" r="0.82" fill="#767676"/>
<circle cx="106.92" cy="101.86" r="0.82" fill="#767676"/>
<circle cx="96.61" cy="112.09" r="0.82" fill="#767676"/>
<circle cx="105.26" cy="107.64" r="0.82" fill="#767676"/>
<circle cx="103.61" cy="111.99" r="0.82" fill="#767676"/>
<circle cx="101.42" cy="113.28" r="0.82" fill="#767676"/>
<circle cx="68.00" cy="94.60" r="0.82" fill="#767676"/>
<circle cx="76.00" cy="96.00" r="0.82" fill="#767676"/>
<circle cx="66.00" cy="100.00" r="0.82" fill="#767676"/>
<circle cx="69.00" cy="105.00" r="0.82" fill="#767676"/>
<circle cx="72.00" cy="105.50" r="0.82" fill="#767676"/>
<circle cx="77.00" cy="103.00" r="0.82" fill="#767676"/>
<circle cx="83.00" cy="96.50" r="0.82" fill="#767676"/>
<circle cx="118.00" cy="98.00" r="0.82" fill="#767676"/>
<circle cx="122.00" cy="97.00" r="0.82" fill="#767676"/>
<circle cx="125.00" cy="101.00" r="0.82" fill="#767676"/>
<circle cx="131.00" cy="101.00" r="0.82" fill="#767676"/>
<circle cx="132.00" cy="105.00" r="0.82" fill="#767676"/>
<circle cx="136.00" cy="106.00" r="0.82" fill="#767676"/>
<circle cx="117.00" cy="103.00" r="0.82" fill="#767676"/>
<circle cx="120.00" cy="108.00" r="0.82" fill="#767676"/>
<circle cx="80.00" cy="100.00" r="0.82" fill="#767676"/>
<circle cx="86.00" cy="99.00" r="0.82" fill="#767676"/>
<circle cx="79.00" cy="24.80" r="1.20" fill="#0a14ff"/>
<circle cx="56.40" cy="55.20" r="1.20" fill="#0a14ff"/>
<circle cx="59.10" cy="65.50" r="1.20" fill="#0a14ff"/>
<circle cx="62.20" cy="63.40" r="1.20" fill="#0a14ff"/>
<circle cx="58.20" cy="82.70" r="1.20" fill="#0a14ff"/>
<circle cx="72.50" cy="76.40" r="1.10" fill="#0a14ff"/>
<circle cx="75.00" cy="73.50" r="1.10" fill="#0a14ff"/>
<circle cx="73.50" cy="79.90" r="1.10" fill="#0a14ff"/>
<circle cx="75.40" cy="89.00" r="1.10" fill="#0a14ff"/>
<circle cx="76.70" cy="90.00" r="1.00" fill="#0a14ff"/>
<circle cx="81.70" cy="91.00" r="1.10" fill="#0a14ff"/>
<circle cx="83.60" cy="87.90" r="0.80" fill="#0a14ff"/>
<circle cx="83.00" cy="90.40" r="1.00" fill="#0a14ff"/>
<circle cx="85.00" cy="91.00" r="1.00" fill="#0a14ff"/>
<circle cx="89.30" cy="91.00" r="1.00" fill="#0a14ff"/>
<circle cx="91.60" cy="85.00" r="0.80" fill="#0a14ff"/>
<circle cx="94.50" cy="85.00" r="0.80" fill="#0a14ff"/>
<circle cx="97.00" cy="90.00" r="0.90" fill="#0a14ff"/>
<circle cx="93.30" cy="87.10" r="0.80" fill="#0a14ff"/>
<circle cx="90.60" cy="91.30" r="0.90" fill="#0a14ff"/>
<circle cx="86.50" cy="91.20" r="0.90" fill="#0a14ff"/>
<circle cx="107.20" cy="64.00" r="0.80" fill="#ff0a0a"/>
<circle cx="139.10" cy="64.60" r="1.30" fill="#ff0a0a"/>
<circle cx="110.10" cy="75.10" r="1.00" fill="#ff0a0a"/>
<circle cx="112.00" cy="75.60" r="1.00" fill="#ff0a0a"/>
<circle cx="135.50" cy="75.60" r="1.10" fill="#ff0a0a"/>
<circle cx="127.90" cy="76.00" r="1.00" fill="#ff0a0a"/>
<circle cx="125.40" cy="77.40" r="1.00" fill="#ff0a0a"/>
<circle cx="122.10" cy="78.00" r="1.00" fill="#ff0a0a"/>
<circle cx="123.80" cy="78.90" r="1.00" fill="#ff0a0a"/>
<circle cx="117.30" cy="83.30" r="1.00" fill="#ff0a0a"/>
<circle cx="121.00" cy="81.80" r="1.00" fill="#ff0a0a"/>
<circle cx="125.40" cy="83.10" r="1.00" fill="#ff0a0a"/>
<circle cx="120.60" cy="84.60" r="1.00" fill="#ff0a0a"/>
<circle cx="124.40" cy="85.60" r="1.00" fill="#ff0a0a"/>
<circle cx="119.60" cy="87.90" r="1.00" fill="#ff0a0a"/>
<circle cx="122.10" cy="90.40" r="1.00" fill="#ff0a0a"/>
<circle cx="112.60" cy="90.00" r="1.00" fill="#ff0a0a"/>
<circle cx="104.30" cy="82.30" r="0.70" fill="#ff0a0a"/>
<circle cx="106.30" cy="85.60" r="0.70" fill="#ff0a0a"/>
<circle cx="108.20" cy="87.90" r="0.70" fill="#ff0a0a"/>
<circle cx="104.90" cy="90.40" r="0.90" fill="#ff0a0a"/>
<circle cx="104.30" cy="91.30" r="0.90" fill="#ff0a0a"/>
<text x="151.20" y="15.00" font-size="4.6" text-anchor="start" fill="#444" stroke="#444" stroke-width="0.1">Significant</text>
<circle cx="152.50" cy="18.60" r="1.80" fill="#ff0a0a"/>
<text x="155.20" y="20.10" font-size="4.5" text-anchor="start" fill="#333" stroke="#333" stroke-width="0.1">up</text>
<circle cx="152.50" cy="25.00" r="1.75" fill="#626262"/>
<text x="155.20" y="26.50" font-size="4.5" text-anchor="start" fill="#333" stroke="#333" stroke-width="0.1">nosig</text>
<circle cx="152.50" cy="31.40" r="1.80" fill="#0a14ff"/>
<text x="155.20" y="32.90" font-size="4.5" text-anchor="start" fill="#333" stroke="#333" stroke-width="0.1">down</text>
<text x="151.60" y="84.00" font-size="4.6" text-anchor="start" fill="#333" stroke="#333" stroke-width="0.12">VIP</text>
<circle cx="152.70" cy="87.20" r="0.70" fill="#1a1a1a"/>
<text x="155.30" y="88.85" font-size="4.9" text-anchor="start" fill="#333" stroke="#333" stroke-width="0.15">1.025</text>
<circle cx="152.70" cy="93.30" r="0.95" fill="#1a1a1a"/>
<text x="155.30" y="94.95" font-size="4.9" text-anchor="start" fill="#333" stroke="#333" stroke-width="0.15">2.050</text>
<circle cx="152.70" cy="99.40" r="1.20" fill="#1a1a1a"/>
<text x="155.30" y="101.05" font-size="4.9" text-anchor="start" fill="#333" stroke="#333" stroke-width="0.15">3.076</text>
<circle cx="152.70" cy="105.60" r="1.45" fill="#1a1a1a"/>
<text x="155.30" y="107.25" font-size="4.9" text-anchor="start" fill="#333" stroke="#333" stroke-width="0.15">4.101</text>
<rect x="238.40" y="15.70" width="98.30" height="96.10" fill="none" stroke="#a6a6a6" stroke-width="0.6"/>
<line x1="238.40" y1="15.70" x2="238.40" y2="111.80" stroke="#8a8a8a" stroke-width="0.7"/>
<line x1="238.40" y1="111.80" x2="336.70" y2="111.80" stroke="#b0b0b0" stroke-width="0.6"/>
<line x1="291.50" y1="15.70" x2="291.50" y2="111.80" stroke="#c8c8c8" stroke-width="0.6"/>
<line x1="238.40" y1="92.59" x2="334.40" y2="92.59" stroke="#d2d2d2" stroke-width="0.8"/>
<line x1="237.10" y1="111.80" x2="238.40" y2="111.80" stroke="#8a8a8a" stroke-width="0.4"/>
<text x="236.60" y="113.35" font-size="4.6" text-anchor="end" fill="#2b2b2b" stroke="#2b2b2b" stroke-width="0.18">0</text>
<line x1="237.10" y1="104.41" x2="238.40" y2="104.41" stroke="#8a8a8a" stroke-width="0.4"/>
<text x="236.60" y="105.96" font-size="4.6" text-anchor="end" fill="#2b2b2b" stroke="#2b2b2b" stroke-width="0.18">0.5</text>
<line x1="237.10" y1="97.02" x2="238.40" y2="97.02" stroke="#8a8a8a" stroke-width="0.4"/>
<text x="236.60" y="98.57" font-size="4.6" text-anchor="end" fill="#2b2b2b" stroke="#2b2b2b" stroke-width="0.18">1</text>
<line x1="237.10" y1="89.63" x2="238.40" y2="89.63" stroke="#8a8a8a" stroke-width="0.4"/>
<text x="236.60" y="91.18" font-size="4.6" text-anchor="end" fill="#2b2b2b" stroke="#2b2b2b" stroke-width="0.18">1.5</text>
<line x1="237.10" y1="82.24" x2="238.40" y2="82.24" stroke="#8a8a8a" stroke-width="0.4"/>
<text x="236.60" y="83.79" font-size="4.6" text-anchor="end" fill="#2b2b2b" stroke="#2b2b2b" stroke-width="0.18">2</text>
<line x1="237.10" y1="74.85" x2="238.40" y2="74.85" stroke="#8a8a8a" stroke-width="0.4"/>
<text x="236.60" y="76.40" font-size="4.6" text-anchor="end" fill="#2b2b2b" stroke="#2b2b2b" stroke-width="0.18">2.5</text>
<line x1="237.10" y1="67.46" x2="238.40" y2="67.46" stroke="#8a8a8a" stroke-width="0.4"/>
<text x="236.60" y="69.01" font-size="4.6" text-anchor="end" fill="#2b2b2b" stroke="#2b2b2b" stroke-width="0.18">3</text>
<line x1="237.10" y1="60.07" x2="238.40" y2="60.07" stroke="#8a8a8a" stroke-width="0.4"/>
<text x="236.60" y="61.62" font-size="4.6" text-anchor="end" fill="#2b2b2b" stroke="#2b2b2b" stroke-width="0.18">3.5</text>
<line x1="237.10" y1="52.68" x2="238.40" y2="52.68" stroke="#8a8a8a" stroke-width="0.4"/>
<text x="236.60" y="54.23" font-size="4.6" text-anchor="end" fill="#2b2b2b" stroke="#2b2b2b" stroke-width="0.18">4</text>
<line x1="237.10" y1="45.29" x2="238.40" y2="45.29" stroke="#8a8a8a" stroke-width="0.4"/>
<text x="236.60" y="46.84" font-size="4.6" text-anchor="end" fill="#2b2b2b" stroke="#2b2b2b" stroke-width="0.18">4.5</text>
<line x1="237.10" y1="37.90" x2="238.40" y2="37.90" stroke="#8a8a8a" stroke-width="0.4"/>
<text x="236.60" y="39.45" font-size="4.6" text-anchor="end" fill="#2b2b2b" stroke="#2b2b2b" stroke-width="0.18">5</text>
<line x1="237.10" y1="30.51" x2="238.40" y2="30.51" stroke="#8a8a8a" stroke-width="0.4"/>
<text x="236.60" y="32.06" font-size="4.6" text-anchor="end" fill="#2b2b2b" stroke="#2b2b2b" stroke-width="0.18">5.5</text>
<line x1="237.10" y1="23.12" x2="238.40" y2="23.12" stroke="#8a8a8a" stroke-width="0.4"/>
<text x="236.60" y="24.67" font-size="4.6" text-anchor="end" fill="#2b2b2b" stroke="#2b2b2b" stroke-width="0.18">6</text>
<line x1="237.10" y1="15.73" x2="238.40" y2="15.73" stroke="#8a8a8a" stroke-width="0.4"/>
<text x="236.60" y="17.28" font-size="4.6" text-anchor="end" fill="#2b2b2b" stroke="#2b2b2b" stroke-width="0.18">6.5</text>
<line x1="239.21" y1="111.80" x2="239.21" y2="113.00" stroke="#8a8a8a" stroke-width="0.4"/>
<text x="239.21" y="117.20" font-size="4.6" text-anchor="middle" fill="#2b2b2b" stroke="#2b2b2b" stroke-width="0.18">-0.3</text>
<line x1="247.93" y1="111.80" x2="247.93" y2="113.00" stroke="#8a8a8a" stroke-width="0.4"/>
<text x="247.93" y="117.20" font-size="4.6" text-anchor="middle" fill="#2b2b2b" stroke="#2b2b2b" stroke-width="0.18">-0.25</text>
<line x1="256.64" y1="111.80" x2="256.64" y2="113.00" stroke="#8a8a8a" stroke-width="0.4"/>
<text x="256.64" y="117.20" font-size="4.6" text-anchor="middle" fill="#2b2b2b" stroke="#2b2b2b" stroke-width="0.18">-0.2</text>
<line x1="265.36" y1="111.80" x2="265.36" y2="113.00" stroke="#8a8a8a" stroke-width="0.4"/>
<text x="265.36" y="117.20" font-size="4.6" text-anchor="middle" fill="#2b2b2b" stroke="#2b2b2b" stroke-width="0.18">-0.15</text>
<line x1="274.07" y1="111.80" x2="274.07" y2="113.00" stroke="#8a8a8a" stroke-width="0.4"/>
<text x="274.07" y="117.20" font-size="4.6" text-anchor="middle" fill="#2b2b2b" stroke="#2b2b2b" stroke-width="0.18">-0.1</text>
<line x1="282.79" y1="111.80" x2="282.79" y2="113.00" stroke="#8a8a8a" stroke-width="0.4"/>
<text x="282.79" y="117.20" font-size="4.6" text-anchor="middle" fill="#2b2b2b" stroke="#2b2b2b" stroke-width="0.18">-0.05</text>
<line x1="291.50" y1="111.80" x2="291.50" y2="113.00" stroke="#8a8a8a" stroke-width="0.4"/>
<text x="291.50" y="117.20" font-size="4.6" text-anchor="middle" fill="#2b2b2b" stroke="#2b2b2b" stroke-width="0.18">0</text>
<line x1="300.21" y1="111.80" x2="300.21" y2="113.00" stroke="#8a8a8a" stroke-width="0.4"/>
<text x="300.21" y="117.20" font-size="4.6" text-anchor="middle" fill="#2b2b2b" stroke="#2b2b2b" stroke-width="0.18">0.05</text>
<line x1="308.93" y1="111.80" x2="308.93" y2="113.00" stroke="#8a8a8a" stroke-width="0.4"/>
<text x="308.93" y="117.20" font-size="4.6" text-anchor="middle" fill="#2b2b2b" stroke="#2b2b2b" stroke-width="0.18">0.1</text>
<line x1="317.64" y1="111.80" x2="317.64" y2="113.00" stroke="#8a8a8a" stroke-width="0.4"/>
<text x="317.64" y="117.20" font-size="4.6" text-anchor="middle" fill="#2b2b2b" stroke="#2b2b2b" stroke-width="0.18">0.15</text>
<line x1="326.36" y1="111.80" x2="326.36" y2="113.00" stroke="#8a8a8a" stroke-width="0.4"/>
<text x="326.36" y="117.20" font-size="4.6" text-anchor="middle" fill="#2b2b2b" stroke="#2b2b2b" stroke-width="0.18">0.2</text>
<line x1="335.07" y1="111.80" x2="335.07" y2="113.00" stroke="#8a8a8a" stroke-width="0.4"/>
<text x="335.07" y="117.20" font-size="4.6" text-anchor="middle" fill="#2b2b2b" stroke="#2b2b2b" stroke-width="0.18">0.25</text>
<text x="287.30" y="121.50" font-size="4.6" text-anchor="middle" fill="#2b2b2b" stroke="#2b2b2b" stroke-width="0.28">Log2FC</text>
<text x="228.60" y="64.00" font-size="4.8" text-anchor="middle" fill="#2b2b2b" stroke="#2b2b2b" stroke-width="0.2" transform="rotate(-90 228.60 64.00)">-Log10(pvalue)</text>
<text x="288.00" y="12.80" font-size="6.2" text-anchor="middle" fill="#222" stroke="#222" stroke-width="0.15" textLength="55" lengthAdjust="spacingAndGlyphs">15℃_vs_25℃.volcano</text>
<text x="209.20" y="11.30" font-size="5.6" text-anchor="middle" fill="#111" stroke="#111" stroke-width="0.18" font-weight="bold">B</text>
<circle cx="285.81" cy="105.54" r="0.82" fill="#767676"/>
<circle cx="300.49" cy="103.10" r="0.82" fill="#767676"/>
<circle cx="292.55" cy="109.96" r="0.82" fill="#767676"/>
<circle cx="304.76" cy="102.47" r="0.82" fill="#767676"/>
<circle cx="283.87" cy="100.93" r="0.82" fill="#767676"/>
<circle cx="293.78" cy="110.40" r="0.82" fill="#767676"/>
<circle cx="289.71" cy="110.63" r="0.82" fill="#767676"/>
<circle cx="283.80" cy="96.66" r="0.82" fill="#767676"/>
<circle cx="300.26" cy="102.24" r="0.82" fill="#767676"/>
<circle cx="287.94" cy="107.94" r="0.82" fill="#767676"/>
<circle cx="291.27" cy="111.68" r="0.82" fill="#767676"/>
<circle cx="300.55" cy="97.62" r="0.82" fill="#767676"/>
<circle cx="291.74" cy="111.66" r="0.82" fill="#767676"/>
<circle cx="281.45" cy="101.45" r="0.82" fill="#767676"/>
<circle cx="269.73" cy="98.98" r="0.82" fill="#767676"/>
<circle cx="295.21" cy="111.20" r="0.82" fill="#767676"/>
<circle cx="284.01" cy="110.02" r="0.82" fill="#767676"/>
<circle cx="292.41" cy="100.95" r="0.82" fill="#767676"/>
<circle cx="291.59" cy="100.48" r="0.82" fill="#767676"/>
<circle cx="294.48" cy="109.09" r="0.82" fill="#767676"/>
<circle cx="292.01" cy="110.97" r="0.82" fill="#767676"/>
<circle cx="296.19" cy="99.38" r="0.82" fill="#767676"/>
<circle cx="295.18" cy="103.82" r="0.82" fill="#767676"/>
<circle cx="300.11" cy="100.22" r="0.82" fill="#767676"/>
<circle cx="287.02" cy="109.12" r="0.82" fill="#767676"/>
<circle cx="283.93" cy="97.41" r="0.82" fill="#767676"/>
<circle cx="294.78" cy="104.99" r="0.82" fill="#767676"/>
<circle cx="291.91" cy="111.52" r="0.82" fill="#767676"/>
<circle cx="298.79" cy="103.96" r="0.82" fill="#767676"/>
<circle cx="284.73" cy="102.67" r="0.82" fill="#767676"/>
<circle cx="291.90" cy="111.40" r="0.82" fill="#767676"/>
<circle cx="284.30" cy="104.25" r="0.82" fill="#767676"/>
<circle cx="288.75" cy="106.02" r="0.82" fill="#767676"/>
<circle cx="293.53" cy="109.52" r="0.82" fill="#767676"/>
<circle cx="290.70" cy="110.94" r="0.82" fill="#767676"/>
<circle cx="289.84" cy="104.90" r="0.82" fill="#767676"/>
<circle cx="297.64" cy="102.50" r="0.82" fill="#767676"/>
<circle cx="292.57" cy="110.63" r="0.82" fill="#767676"/>
<circle cx="288.99" cy="107.61" r="0.82" fill="#767676"/>
<circle cx="285.70" cy="106.18" r="0.82" fill="#767676"/>
<circle cx="292.31" cy="108.90" r="0.82" fill="#767676"/>
<circle cx="282.81" cy="103.19" r="0.82" fill="#767676"/>
<circle cx="293.65" cy="107.50" r="0.82" fill="#767676"/>
<circle cx="286.92" cy="105.40" r="0.82" fill="#767676"/>
<circle cx="298.74" cy="100.51" r="0.82" fill="#767676"/>
<circle cx="289.89" cy="106.82" r="0.82" fill="#767676"/>
<circle cx="293.77" cy="106.55" r="0.82" fill="#767676"/>
<circle cx="285.48" cy="101.12" r="0.82" fill="#767676"/>
<circle cx="291.29" cy="111.62" r="0.82" fill="#767676"/>
<circle cx="296.21" cy="102.30" r="0.82" fill="#767676"/>
<circle cx="292.42" cy="108.46" r="0.82" fill="#767676"/>
<circle cx="288.03" cy="104.00" r="0.82" fill="#767676"/>
<circle cx="287.18" cy="101.90" r="0.82" fill="#767676"/>
<circle cx="289.69" cy="108.32" r="0.82" fill="#767676"/>
<circle cx="291.93" cy="110.60" r="0.82" fill="#767676"/>
<circle cx="293.36" cy="94.95" r="0.82" fill="#767676"/>
<circle cx="276.57" cy="101.67" r="0.82" fill="#767676"/>
<circle cx="291.26" cy="102.40" r="0.82" fill="#767676"/>
<circle cx="295.20" cy="105.87" r="0.82" fill="#767676"/>
<circle cx="297.87" cy="104.77" r="0.82" fill="#767676"/>
<circle cx="290.51" cy="111.07" r="0.82" fill="#767676"/>
<circle cx="292.21" cy="102.13" r="0.82" fill="#767676"/>
<circle cx="296.59" cy="104.67" r="0.82" fill="#767676"/>
<circle cx="293.54" cy="111.33" r="0.82" fill="#767676"/>
<circle cx="286.69" cy="103.71" r="0.82" fill="#767676"/>
<circle cx="292.96" cy="110.43" r="0.82" fill="#767676"/>
<circle cx="298.66" cy="108.27" r="0.82" fill="#767676"/>
<circle cx="291.82" cy="111.56" r="0.82" fill="#767676"/>
<circle cx="291.15" cy="110.19" r="0.82" fill="#767676"/>
<circle cx="290.97" cy="111.03" r="0.82" fill="#767676"/>
<circle cx="292.31" cy="111.14" r="0.82" fill="#767676"/>
<circle cx="297.91" cy="99.28" r="0.82" fill="#767676"/>
<circle cx="287.59" cy="101.54" r="0.82" fill="#767676"/>
<circle cx="282.20" cy="103.05" r="0.82" fill="#767676"/>
<circle cx="289.46" cy="99.20" r="0.82" fill="#767676"/>
<circle cx="300.17" cy="99.57" r="0.82" fill="#767676"/>
<circle cx="289.26" cy="110.90" r="0.82" fill="#767676"/>
<circle cx="304.07" cy="98.89" r="0.82" fill="#767676"/>
<circle cx="288.46" cy="105.52" r="0.82" fill="#767676"/>
<circle cx="296.21" cy="104.75" r="0.82" fill="#767676"/>
<circle cx="289.09" cy="106.23" r="0.82" fill="#767676"/>
<circle cx="288.88" cy="107.03" r="0.82" fill="#767676"/>
<circle cx="292.33" cy="108.38" r="0.82" fill="#767676"/>
<circle cx="290.97" cy="102.30" r="0.82" fill="#767676"/>
<circle cx="293.68" cy="99.50" r="0.82" fill="#767676"/>
<circle cx="281.39" cy="106.80" r="0.82" fill="#767676"/>
<circle cx="281.49" cy="101.61" r="0.82" fill="#767676"/>
<circle cx="274.17" cy="93.67" r="0.82" fill="#767676"/>
<circle cx="289.98" cy="108.40" r="0.82" fill="#767676"/>
<circle cx="291.42" cy="97.28" r="0.82" fill="#767676"/>
<circle cx="291.67" cy="111.50" r="0.82" fill="#767676"/>
<circle cx="296.05" cy="95.54" r="0.82" fill="#767676"/>
<circle cx="293.63" cy="105.27" r="0.82" fill="#767676"/>
<circle cx="289.82" cy="102.20" r="0.82" fill="#767676"/>
<circle cx="303.65" cy="99.89" r="0.82" fill="#767676"/>
<circle cx="296.67" cy="106.53" r="0.82" fill="#767676"/>
<circle cx="294.17" cy="109.07" r="0.82" fill="#767676"/>
<circle cx="292.53" cy="94.56" r="0.82" fill="#767676"/>
<circle cx="296.76" cy="100.57" r="0.82" fill="#767676"/>
<circle cx="292.33" cy="111.00" r="0.82" fill="#767676"/>
<circle cx="268.40" cy="95.30" r="0.82" fill="#767676"/>
<circle cx="295.54" cy="108.53" r="0.82" fill="#767676"/>
<circle cx="296.14" cy="96.83" r="0.82" fill="#767676"/>
<circle cx="283.30" cy="101.04" r="0.82" fill="#767676"/>
<circle cx="293.23" cy="110.55" r="0.82" fill="#767676"/>
<circle cx="283.48" cy="105.94" r="0.82" fill="#767676"/>
<circle cx="288.45" cy="108.22" r="0.82" fill="#767676"/>
<circle cx="296.85" cy="104.74" r="0.82" fill="#767676"/>
<circle cx="288.28" cy="102.56" r="0.82" fill="#767676"/>
<circle cx="288.36" cy="106.69" r="0.82" fill="#767676"/>
<circle cx="292.97" cy="110.33" r="0.82" fill="#767676"/>
<circle cx="282.20" cy="96.00" r="0.82" fill="#767676"/>
<circle cx="292.19" cy="111.21" r="0.82" fill="#767676"/>
<circle cx="284.55" cy="98.14" r="0.82" fill="#767676"/>
<circle cx="291.45" cy="93.85" r="0.82" fill="#767676"/>
<circle cx="293.21" cy="110.21" r="0.82" fill="#767676"/>
<circle cx="292.25" cy="109.55" r="0.82" fill="#767676"/>
<circle cx="279.04" cy="107.03" r="0.82" fill="#767676"/>
<circle cx="288.96" cy="107.02" r="0.82" fill="#767676"/>
<circle cx="286.61" cy="108.09" r="0.82" fill="#767676"/>
<circle cx="291.05" cy="110.72" r="0.82" fill="#767676"/>
<circle cx="288.04" cy="108.26" r="0.82" fill="#767676"/>
<circle cx="291.89" cy="93.22" r="0.82" fill="#767676"/>
<circle cx="292.26" cy="110.22" r="0.82" fill="#767676"/>
<circle cx="303.72" cy="96.63" r="0.82" fill="#767676"/>
<circle cx="292.36" cy="109.71" r="0.82" fill="#767676"/>
<circle cx="293.35" cy="109.83" r="0.82" fill="#767676"/>
<circle cx="291.61" cy="111.41" r="0.82" fill="#767676"/>
<circle cx="286.96" cy="109.38" r="0.82" fill="#767676"/>
<circle cx="290.19" cy="110.54" r="0.82" fill="#767676"/>
<circle cx="294.26" cy="107.23" r="0.82" fill="#767676"/>
<circle cx="292.16" cy="111.43" r="0.82" fill="#767676"/>
<circle cx="297.60" cy="102.61" r="0.82" fill="#767676"/>
<circle cx="286.40" cy="107.59" r="0.82" fill="#767676"/>
<circle cx="289.26" cy="95.99" r="0.82" fill="#767676"/>
<circle cx="289.83" cy="110.03" r="0.82" fill="#767676"/>
<circle cx="292.54" cy="96.52" r="0.82" fill="#767676"/>
<circle cx="285.87" cy="105.66" r="0.82" fill="#767676"/>
<circle cx="289.46" cy="104.07" r="0.82" fill="#767676"/>
<circle cx="286.46" cy="109.41" r="0.82" fill="#767676"/>
<circle cx="297.60" cy="108.31" r="0.82" fill="#767676"/>
<circle cx="298.28" cy="97.66" r="0.82" fill="#767676"/>
<circle cx="293.73" cy="110.03" r="0.82" fill="#767676"/>
<circle cx="288.87" cy="106.61" r="0.82" fill="#767676"/>
<circle cx="291.69" cy="110.41" r="0.82" fill="#767676"/>
<circle cx="295.76" cy="111.20" r="0.82" fill="#767676"/>
<circle cx="288.25" cy="105.29" r="0.82" fill="#767676"/>
<circle cx="292.26" cy="111.18" r="0.82" fill="#767676"/>
<circle cx="298.68" cy="93.07" r="0.82" fill="#767676"/>
<circle cx="289.54" cy="110.65" r="0.82" fill="#767676"/>
<circle cx="273.35" cy="106.73" r="0.82" fill="#767676"/>
<circle cx="292.62" cy="109.94" r="0.82" fill="#767676"/>
<circle cx="302.17" cy="93.62" r="0.82" fill="#767676"/>
<circle cx="295.52" cy="109.28" r="0.82" fill="#767676"/>
<circle cx="289.44" cy="108.78" r="0.82" fill="#767676"/>
<circle cx="290.03" cy="110.47" r="0.82" fill="#767676"/>
<circle cx="280.77" cy="98.07" r="0.82" fill="#767676"/>
<circle cx="292.23" cy="110.67" r="0.82" fill="#767676"/>
<circle cx="291.57" cy="111.68" r="0.82" fill="#767676"/>
<circle cx="285.59" cy="101.98" r="0.82" fill="#767676"/>
<circle cx="303.38" cy="99.03" r="0.82" fill="#767676"/>
<circle cx="291.22" cy="111.49" r="0.82" fill="#767676"/>
<circle cx="296.61" cy="106.74" r="0.82" fill="#767676"/>
<circle cx="260.42" cy="96.62" r="0.82" fill="#767676"/>
<circle cx="293.10" cy="110.62" r="0.82" fill="#767676"/>
<circle cx="287.41" cy="108.20" r="0.82" fill="#767676"/>
<circle cx="288.71" cy="105.99" r="0.82" fill="#767676"/>
<circle cx="294.50" cy="104.69" r="0.82" fill="#767676"/>
<circle cx="290.08" cy="111.07" r="0.82" fill="#767676"/>
<circle cx="299.35" cy="96.02" r="0.82" fill="#767676"/>
<circle cx="290.72" cy="110.47" r="0.82" fill="#767676"/>
<circle cx="297.80" cy="111.14" r="0.82" fill="#767676"/>
<circle cx="286.44" cy="95.19" r="0.82" fill="#767676"/>
<circle cx="289.11" cy="111.25" r="0.82" fill="#767676"/>
<circle cx="293.60" cy="109.82" r="0.82" fill="#767676"/>
<circle cx="294.00" cy="109.24" r="0.82" fill="#767676"/>
<circle cx="290.38" cy="110.54" r="0.82" fill="#767676"/>
<circle cx="289.56" cy="107.75" r="0.82" fill="#767676"/>
<circle cx="287.53" cy="106.58" r="0.82" fill="#767676"/>
<circle cx="288.62" cy="99.21" r="0.82" fill="#767676"/>
<circle cx="298.79" cy="105.98" r="0.82" fill="#767676"/>
<circle cx="290.81" cy="111.30" r="0.82" fill="#767676"/>
<circle cx="300.01" cy="105.64" r="0.82" fill="#767676"/>
<circle cx="285.66" cy="109.92" r="0.82" fill="#767676"/>
<circle cx="284.09" cy="106.87" r="0.82" fill="#767676"/>
<circle cx="293.56" cy="107.53" r="0.82" fill="#767676"/>
<circle cx="297.89" cy="97.40" r="0.82" fill="#767676"/>
<circle cx="292.00" cy="111.51" r="0.82" fill="#767676"/>
<circle cx="300.40" cy="94.99" r="0.82" fill="#767676"/>
<circle cx="292.83" cy="97.11" r="0.82" fill="#767676"/>
<circle cx="286.28" cy="110.26" r="0.82" fill="#767676"/>
<circle cx="289.79" cy="107.86" r="0.82" fill="#767676"/>
<circle cx="294.52" cy="107.43" r="0.82" fill="#767676"/>
<circle cx="291.14" cy="111.42" r="0.82" fill="#767676"/>
<circle cx="291.41" cy="111.77" r="0.82" fill="#767676"/>
<circle cx="289.52" cy="100.95" r="0.82" fill="#767676"/>
<circle cx="292.95" cy="95.60" r="0.82" fill="#767676"/>
<circle cx="290.60" cy="110.84" r="0.82" fill="#767676"/>
<circle cx="294.00" cy="98.89" r="0.82" fill="#767676"/>
<circle cx="288.18" cy="107.97" r="0.82" fill="#767676"/>
<circle cx="301.91" cy="102.24" r="0.82" fill="#767676"/>
<circle cx="290.32" cy="110.39" r="0.82" fill="#767676"/>
<circle cx="287.23" cy="109.38" r="0.82" fill="#767676"/>
<circle cx="290.56" cy="109.90" r="0.82" fill="#767676"/>
<circle cx="293.28" cy="110.33" r="0.82" fill="#767676"/>
<circle cx="292.93" cy="109.60" r="0.82" fill="#767676"/>
<circle cx="296.09" cy="109.01" r="0.82" fill="#767676"/>
<circle cx="295.41" cy="101.43" r="0.82" fill="#767676"/>
<circle cx="289.88" cy="109.46" r="0.82" fill="#767676"/>
<circle cx="283.43" cy="102.13" r="0.82" fill="#767676"/>
<circle cx="286.33" cy="105.88" r="0.82" fill="#767676"/>
<circle cx="293.77" cy="110.61" r="0.82" fill="#767676"/>
<circle cx="290.79" cy="111.08" r="0.82" fill="#767676"/>
<circle cx="293.45" cy="108.87" r="0.82" fill="#767676"/>
<circle cx="286.83" cy="106.13" r="0.82" fill="#767676"/>
<circle cx="291.87" cy="107.45" r="0.82" fill="#767676"/>
<circle cx="286.61" cy="108.09" r="0.82" fill="#767676"/>
<circle cx="288.73" cy="106.47" r="0.82" fill="#767676"/>
<circle cx="296.77" cy="107.16" r="0.82" fill="#767676"/>
<circle cx="294.47" cy="98.75" r="0.82" fill="#767676"/>
<circle cx="287.31" cy="108.81" r="0.82" fill="#767676"/>
<circle cx="287.54" cy="99.49" r="0.82" fill="#767676"/>
<circle cx="290.86" cy="103.28" r="0.82" fill="#767676"/>
<circle cx="282.78" cy="104.11" r="0.82" fill="#767676"/>
<circle cx="294.38" cy="99.39" r="0.82" fill="#767676"/>
<circle cx="290.57" cy="111.77" r="0.82" fill="#767676"/>
<circle cx="276.58" cy="101.92" r="0.82" fill="#767676"/>
<circle cx="291.58" cy="111.62" r="0.82" fill="#767676"/>
<circle cx="296.61" cy="101.48" r="0.82" fill="#767676"/>
<circle cx="284.44" cy="103.86" r="0.82" fill="#767676"/>
<circle cx="288.99" cy="110.29" r="0.82" fill="#767676"/>
<circle cx="286.43" cy="107.47" r="0.82" fill="#767676"/>
<circle cx="283.78" cy="96.36" r="0.82" fill="#767676"/>
<circle cx="291.52" cy="111.78" r="0.82" fill="#767676"/>
<circle cx="293.90" cy="108.50" r="0.82" fill="#767676"/>
<circle cx="290.53" cy="106.95" r="0.82" fill="#767676"/>
<circle cx="296.12" cy="96.61" r="0.82" fill="#767676"/>
<circle cx="290.47" cy="110.85" r="0.82" fill="#767676"/>
<circle cx="291.26" cy="111.39" r="0.82" fill="#767676"/>
<circle cx="288.36" cy="98.01" r="0.82" fill="#767676"/>
<circle cx="298.19" cy="102.29" r="0.82" fill="#767676"/>
<circle cx="290.17" cy="109.46" r="0.82" fill="#767676"/>
<circle cx="288.28" cy="106.55" r="0.82" fill="#767676"/>
<circle cx="288.68" cy="100.06" r="0.82" fill="#767676"/>
<circle cx="291.27" cy="111.42" r="0.82" fill="#767676"/>
<circle cx="303.25" cy="106.73" r="0.82" fill="#767676"/>
<circle cx="286.67" cy="95.31" r="0.82" fill="#767676"/>
<circle cx="293.92" cy="106.60" r="0.82" fill="#767676"/>
<circle cx="292.51" cy="110.41" r="0.82" fill="#767676"/>
<circle cx="300.49" cy="94.14" r="0.82" fill="#767676"/>
<circle cx="310.68" cy="97.22" r="0.82" fill="#767676"/>
<circle cx="293.11" cy="101.20" r="0.82" fill="#767676"/>
<circle cx="293.82" cy="105.16" r="0.82" fill="#767676"/>
<circle cx="294.19" cy="107.24" r="0.82" fill="#767676"/>
<circle cx="291.43" cy="111.70" r="0.82" fill="#767676"/>
<circle cx="279.41" cy="104.51" r="0.82" fill="#767676"/>
<circle cx="291.36" cy="111.51" r="0.82" fill="#767676"/>
<circle cx="296.60" cy="105.10" r="0.82" fill="#767676"/>
<circle cx="290.81" cy="111.36" r="0.82" fill="#767676"/>
<circle cx="283.83" cy="103.30" r="0.82" fill="#767676"/>
<circle cx="297.21" cy="103.34" r="0.82" fill="#767676"/>
<circle cx="307.93" cy="99.67" r="0.82" fill="#767676"/>
<circle cx="291.33" cy="111.68" r="0.82" fill="#767676"/>
<circle cx="293.03" cy="110.52" r="0.82" fill="#767676"/>
<circle cx="297.34" cy="108.08" r="0.82" fill="#767676"/>
<circle cx="292.24" cy="101.37" r="0.82" fill="#767676"/>
<circle cx="289.51" cy="109.84" r="0.82" fill="#767676"/>
<circle cx="287.52" cy="105.61" r="0.82" fill="#767676"/>
<circle cx="298.59" cy="108.82" r="0.82" fill="#767676"/>
<circle cx="296.48" cy="101.64" r="0.82" fill="#767676"/>
<circle cx="306.24" cy="105.49" r="0.82" fill="#767676"/>
<circle cx="298.51" cy="107.07" r="0.82" fill="#767676"/>
<circle cx="289.99" cy="110.26" r="0.82" fill="#767676"/>
<circle cx="293.65" cy="96.25" r="0.82" fill="#767676"/>
<circle cx="296.03" cy="99.12" r="0.82" fill="#767676"/>
<circle cx="278.94" cy="98.58" r="0.82" fill="#767676"/>
<circle cx="290.30" cy="110.50" r="0.82" fill="#767676"/>
<circle cx="285.44" cy="107.19" r="0.82" fill="#767676"/>
<circle cx="288.01" cy="108.36" r="0.82" fill="#767676"/>
<circle cx="288.53" cy="109.38" r="0.82" fill="#767676"/>
<circle cx="289.44" cy="107.54" r="0.82" fill="#767676"/>
<circle cx="290.82" cy="110.77" r="0.82" fill="#767676"/>
<circle cx="299.28" cy="107.40" r="0.82" fill="#767676"/>
<circle cx="298.88" cy="101.17" r="0.82" fill="#767676"/>
<circle cx="295.17" cy="107.54" r="0.82" fill="#767676"/>
<circle cx="292.75" cy="110.29" r="0.82" fill="#767676"/>
<circle cx="295.42" cy="108.78" r="0.82" fill="#767676"/>
<circle cx="293.18" cy="110.21" r="0.82" fill="#767676"/>
<circle cx="293.72" cy="105.07" r="0.82" fill="#767676"/>
<circle cx="280.63" cy="104.77" r="0.82" fill="#767676"/>
<circle cx="294.84" cy="107.47" r="0.82" fill="#767676"/>
<circle cx="292.35" cy="103.53" r="0.82" fill="#767676"/>
<circle cx="296.90" cy="103.56" r="0.82" fill="#767676"/>
<circle cx="287.14" cy="101.88" r="0.82" fill="#767676"/>
<circle cx="291.88" cy="111.63" r="0.82" fill="#767676"/>
<circle cx="293.12" cy="109.71" r="0.82" fill="#767676"/>
<circle cx="287.69" cy="106.59" r="0.82" fill="#767676"/>
<circle cx="288.02" cy="105.83" r="0.82" fill="#767676"/>
<circle cx="286.46" cy="103.61" r="0.82" fill="#767676"/>
<circle cx="293.51" cy="110.26" r="0.82" fill="#767676"/>
<circle cx="284.67" cy="107.07" r="0.82" fill="#767676"/>
<circle cx="294.36" cy="106.18" r="0.82" fill="#767676"/>
<circle cx="291.49" cy="111.79" r="0.82" fill="#767676"/>
<circle cx="294.87" cy="107.44" r="0.82" fill="#767676"/>
<circle cx="281.62" cy="106.32" r="0.82" fill="#767676"/>
<circle cx="284.78" cy="96.11" r="0.82" fill="#767676"/>
<circle cx="291.24" cy="111.59" r="0.82" fill="#767676"/>
<circle cx="289.77" cy="108.84" r="0.82" fill="#767676"/>
<circle cx="289.22" cy="105.95" r="0.82" fill="#767676"/>
<circle cx="293.45" cy="108.46" r="0.82" fill="#767676"/>
<circle cx="292.97" cy="110.66" r="0.82" fill="#767676"/>
<circle cx="291.06" cy="98.85" r="0.82" fill="#767676"/>
<circle cx="289.61" cy="110.20" r="0.82" fill="#767676"/>
<circle cx="294.31" cy="108.21" r="0.82" fill="#767676"/>
<circle cx="292.36" cy="110.74" r="0.82" fill="#767676"/>
<circle cx="288.74" cy="102.24" r="0.82" fill="#767676"/>
<circle cx="291.18" cy="111.64" r="0.82" fill="#767676"/>
<circle cx="291.35" cy="111.67" r="0.82" fill="#767676"/>
<circle cx="291.05" cy="97.94" r="0.82" fill="#767676"/>
<circle cx="293.21" cy="101.48" r="0.82" fill="#767676"/>
<circle cx="291.62" cy="111.71" r="0.82" fill="#767676"/>
<circle cx="297.46" cy="108.91" r="0.82" fill="#767676"/>
<circle cx="287.56" cy="105.83" r="0.82" fill="#767676"/>
<circle cx="285.01" cy="105.01" r="0.82" fill="#767676"/>
<circle cx="284.62" cy="107.02" r="0.82" fill="#767676"/>
<circle cx="289.30" cy="99.74" r="0.82" fill="#767676"/>
<circle cx="293.42" cy="107.33" r="0.82" fill="#767676"/>
<circle cx="302.32" cy="99.39" r="0.82" fill="#767676"/>
<circle cx="290.53" cy="110.86" r="0.82" fill="#767676"/>
<circle cx="289.57" cy="110.09" r="0.82" fill="#767676"/>
<circle cx="282.70" cy="106.88" r="0.82" fill="#767676"/>
<circle cx="289.98" cy="110.25" r="0.82" fill="#767676"/>
<circle cx="292.93" cy="109.75" r="0.82" fill="#767676"/>
<circle cx="294.96" cy="109.72" r="0.82" fill="#767676"/>
<circle cx="298.32" cy="102.53" r="0.82" fill="#767676"/>
<circle cx="292.73" cy="106.79" r="0.82" fill="#767676"/>
<circle cx="294.62" cy="106.35" r="0.82" fill="#767676"/>
<circle cx="279.17" cy="105.18" r="0.82" fill="#767676"/>
<circle cx="291.66" cy="111.59" r="0.82" fill="#767676"/>
<circle cx="287.96" cy="105.34" r="0.82" fill="#767676"/>
<circle cx="295.87" cy="96.76" r="0.82" fill="#767676"/>
<circle cx="294.70" cy="108.37" r="0.82" fill="#767676"/>
<circle cx="294.00" cy="109.82" r="0.82" fill="#767676"/>
<circle cx="303.37" cy="99.25" r="0.82" fill="#767676"/>
<circle cx="294.09" cy="108.12" r="0.82" fill="#767676"/>
<circle cx="305.66" cy="108.99" r="0.82" fill="#767676"/>
<circle cx="292.28" cy="110.84" r="0.82" fill="#767676"/>
<circle cx="298.03" cy="101.51" r="0.82" fill="#767676"/>
<circle cx="285.31" cy="103.79" r="0.82" fill="#767676"/>
<circle cx="290.82" cy="111.13" r="0.82" fill="#767676"/>
<circle cx="281.58" cy="100.72" r="0.82" fill="#767676"/>
<circle cx="282.15" cy="96.51" r="0.82" fill="#767676"/>
<circle cx="302.17" cy="106.71" r="0.82" fill="#767676"/>
<circle cx="292.85" cy="107.44" r="0.82" fill="#767676"/>
<circle cx="288.40" cy="101.82" r="0.82" fill="#767676"/>
<circle cx="293.13" cy="109.59" r="0.82" fill="#767676"/>
<circle cx="282.78" cy="94.34" r="0.82" fill="#767676"/>
<circle cx="294.11" cy="107.01" r="0.82" fill="#767676"/>
<circle cx="287.20" cy="105.28" r="0.82" fill="#767676"/>
<circle cx="296.85" cy="108.42" r="0.82" fill="#767676"/>
<circle cx="294.16" cy="109.87" r="0.82" fill="#767676"/>
<circle cx="280.71" cy="94.26" r="0.82" fill="#767676"/>
<circle cx="288.23" cy="108.06" r="0.82" fill="#767676"/>
<circle cx="289.72" cy="109.70" r="0.82" fill="#767676"/>
<circle cx="296.69" cy="108.26" r="0.82" fill="#767676"/>
<circle cx="295.39" cy="110.76" r="0.82" fill="#767676"/>
<circle cx="292.98" cy="110.28" r="0.82" fill="#767676"/>
<circle cx="290.97" cy="96.24" r="0.82" fill="#767676"/>
<circle cx="289.95" cy="105.07" r="0.82" fill="#767676"/>
<circle cx="296.67" cy="99.62" r="0.82" fill="#767676"/>
<circle cx="292.94" cy="109.19" r="0.82" fill="#767676"/>
<circle cx="285.04" cy="109.65" r="0.82" fill="#767676"/>
<circle cx="282.88" cy="102.30" r="0.82" fill="#767676"/>
<circle cx="292.48" cy="111.03" r="0.82" fill="#767676"/>
<circle cx="296.22" cy="96.02" r="0.82" fill="#767676"/>
<circle cx="281.23" cy="93.89" r="0.82" fill="#767676"/>
<circle cx="286.52" cy="101.84" r="0.82" fill="#767676"/>
<circle cx="289.49" cy="102.08" r="0.82" fill="#767676"/>
<circle cx="286.99" cy="103.75" r="0.82" fill="#767676"/>
<circle cx="287.35" cy="107.35" r="0.82" fill="#767676"/>
<circle cx="290.82" cy="110.94" r="0.82" fill="#767676"/>
<circle cx="287.37" cy="104.61" r="0.82" fill="#767676"/>
<circle cx="288.96" cy="106.15" r="0.82" fill="#767676"/>
<circle cx="294.27" cy="107.82" r="0.82" fill="#767676"/>
<circle cx="294.34" cy="110.08" r="0.82" fill="#767676"/>
<circle cx="285.62" cy="106.26" r="0.82" fill="#767676"/>
<circle cx="289.35" cy="108.08" r="0.82" fill="#767676"/>
<circle cx="290.94" cy="111.01" r="0.82" fill="#767676"/>
<circle cx="289.30" cy="110.46" r="0.82" fill="#767676"/>
<circle cx="298.64" cy="106.44" r="0.82" fill="#767676"/>
<circle cx="292.50" cy="108.74" r="0.82" fill="#767676"/>
<circle cx="294.87" cy="106.80" r="0.82" fill="#767676"/>
<circle cx="269.48" cy="97.08" r="0.82" fill="#767676"/>
<circle cx="290.82" cy="111.30" r="0.82" fill="#767676"/>
<circle cx="281.83" cy="105.63" r="0.82" fill="#767676"/>
<circle cx="290.26" cy="110.07" r="0.82" fill="#767676"/>
<circle cx="291.79" cy="111.19" r="0.82" fill="#767676"/>
<circle cx="295.41" cy="104.80" r="0.82" fill="#767676"/>
<circle cx="289.65" cy="109.50" r="0.82" fill="#767676"/>
<circle cx="285.42" cy="101.20" r="0.82" fill="#767676"/>
<circle cx="301.53" cy="102.38" r="0.82" fill="#767676"/>
<circle cx="285.99" cy="104.41" r="0.82" fill="#767676"/>
<circle cx="285.77" cy="99.97" r="0.82" fill="#767676"/>
<circle cx="287.11" cy="110.29" r="0.82" fill="#767676"/>
<circle cx="299.08" cy="99.11" r="0.82" fill="#767676"/>
<circle cx="289.76" cy="109.65" r="0.82" fill="#767676"/>
<circle cx="292.19" cy="110.93" r="0.82" fill="#767676"/>
<circle cx="291.38" cy="100.08" r="0.82" fill="#767676"/>
<circle cx="296.85" cy="107.51" r="0.82" fill="#767676"/>
<circle cx="283.35" cy="103.20" r="0.82" fill="#767676"/>
<circle cx="270.00" cy="96.00" r="0.82" fill="#767676"/>
<circle cx="273.00" cy="100.00" r="0.82" fill="#767676"/>
<circle cx="310.00" cy="96.00" r="0.82" fill="#767676"/>
<circle cx="314.00" cy="99.00" r="0.82" fill="#767676"/>
<circle cx="320.00" cy="103.00" r="0.82" fill="#767676"/>
<circle cx="326.00" cy="107.00" r="0.82" fill="#767676"/>
<circle cx="330.00" cy="104.00" r="0.82" fill="#767676"/>
<circle cx="315.00" cy="108.00" r="0.82" fill="#767676"/>
<circle cx="330.00" cy="94.00" r="0.82" fill="#767676"/>
<circle cx="276.00" cy="98.00" r="0.82" fill="#767676"/>
<circle cx="268.00" cy="103.00" r="0.82" fill="#767676"/>
<circle cx="323.00" cy="106.00" r="0.82" fill="#767676"/>
<circle cx="273.70" cy="26.00" r="1.20" fill="#0a14ff"/>
<circle cx="253.60" cy="46.60" r="1.30" fill="#0a14ff"/>
<circle cx="246.10" cy="56.00" r="1.30" fill="#0a14ff"/>
<circle cx="275.80" cy="58.10" r="0.90" fill="#0a14ff"/>
<circle cx="280.40" cy="61.30" r="0.90" fill="#0a14ff"/>
<circle cx="280.40" cy="65.00" r="0.90" fill="#0a14ff"/>
<circle cx="256.10" cy="65.00" r="1.20" fill="#0a14ff"/>
<circle cx="260.30" cy="66.50" r="1.20" fill="#0a14ff"/>
<circle cx="277.30" cy="67.80" r="0.90" fill="#0a14ff"/>
<circle cx="280.40" cy="68.00" r="0.90" fill="#0a14ff"/>
<circle cx="261.50" cy="73.10" r="1.20" fill="#0a14ff"/>
<circle cx="288.00" cy="72.80" r="0.80" fill="#0a14ff"/>
<circle cx="277.80" cy="74.90" r="0.80" fill="#0a14ff"/>
<circle cx="283.60" cy="76.60" r="0.90" fill="#0a14ff"/>
<circle cx="286.20" cy="78.40" r="0.90" fill="#0a14ff"/>
<circle cx="268.00" cy="79.60" r="1.00" fill="#0a14ff"/>
<circle cx="272.20" cy="81.00" r="1.00" fill="#0a14ff"/>
<circle cx="270.30" cy="82.70" r="1.00" fill="#0a14ff"/>
<circle cx="276.80" cy="82.20" r="0.90" fill="#0a14ff"/>
<circle cx="271.90" cy="85.00" r="1.00" fill="#0a14ff"/>
<circle cx="272.40" cy="85.90" r="1.00" fill="#0a14ff"/>
<circle cx="260.80" cy="87.50" r="1.10" fill="#0a14ff"/>
<circle cx="266.30" cy="89.00" r="1.10" fill="#0a14ff"/>
<circle cx="275.90" cy="87.50" r="1.00" fill="#0a14ff"/>
<circle cx="278.00" cy="87.10" r="1.00" fill="#0a14ff"/>
<circle cx="280.10" cy="88.30" r="1.00" fill="#0a14ff"/>
<circle cx="281.10" cy="87.60" r="0.90" fill="#0a14ff"/>
<circle cx="281.80" cy="90.60" r="0.90" fill="#0a14ff"/>
<circle cx="285.00" cy="85.90" r="0.90" fill="#0a14ff"/>
<circle cx="286.70" cy="87.10" r="0.90" fill="#0a14ff"/>
<circle cx="287.60" cy="88.90" r="0.90" fill="#0a14ff"/>
<circle cx="288.50" cy="90.10" r="0.90" fill="#0a14ff"/>
<circle cx="285.90" cy="91.50" r="0.90" fill="#0a14ff"/>
<circle cx="289.30" cy="91.10" r="0.90" fill="#0a14ff"/>
<circle cx="288.10" cy="82.20" r="0.70" fill="#0a14ff"/>
<circle cx="280.10" cy="61.40" r="0.90" fill="#0a14ff"/>
<circle cx="295.70" cy="62.80" r="1.00" fill="#ff0a0a"/>
<circle cx="306.10" cy="61.80" r="1.10" fill="#ff0a0a"/>
<circle cx="304.20" cy="74.80" r="1.00" fill="#ff0a0a"/>
<circle cx="306.10" cy="74.40" r="1.00" fill="#ff0a0a"/>
<circle cx="294.70" cy="76.50" r="0.70" fill="#ff0a0a"/>
<circle cx="297.40" cy="82.00" r="0.90" fill="#ff0a0a"/>
<circle cx="300.10" cy="82.50" r="0.90" fill="#ff0a0a"/>
<circle cx="301.90" cy="82.50" r="0.90" fill="#ff0a0a"/>
<circle cx="304.20" cy="81.00" r="0.90" fill="#ff0a0a"/>
<circle cx="317.40" cy="84.70" r="1.10" fill="#ff0a0a"/>
<circle cx="315.60" cy="88.30" r="1.00" fill="#ff0a0a"/>
<circle cx="298.00" cy="87.60" r="0.90" fill="#ff0a0a"/>
<circle cx="300.10" cy="88.30" r="0.90" fill="#ff0a0a"/>
<circle cx="296.30" cy="89.30" r="0.90" fill="#ff0a0a"/>
<circle cx="307.70" cy="89.30" r="0.90" fill="#ff0a0a"/>
<circle cx="306.70" cy="90.70" r="0.90" fill="#ff0a0a"/>
<circle cx="295.90" cy="91.40" r="0.90" fill="#ff0a0a"/>
<circle cx="302.10" cy="91.40" r="0.90" fill="#ff0a0a"/>
<circle cx="305.60" cy="92.00" r="0.90" fill="#ff0a0a"/>
<circle cx="313.90" cy="91.40" r="1.00" fill="#ff0a0a"/>
<circle cx="319.10" cy="90.30" r="1.00" fill="#ff0a0a"/>
<circle cx="320.10" cy="91.40" r="1.00" fill="#ff0a0a"/>
<circle cx="322.20" cy="92.40" r="1.00" fill="#ff0a0a"/>
<circle cx="295.90" cy="92.40" r="0.90" fill="#ff0a0a"/>
<circle cx="310.50" cy="90.60" r="0.90" fill="#ff0a0a"/>
<text x="340.20" y="17.70" font-size="4.6" text-anchor="start" fill="#444" stroke="#444" stroke-width="0.1">Significant</text>
<circle cx="341.50" cy="20.90" r="1.80" fill="#ff0a0a"/>
<text x="344.20" y="22.40" font-size="4.5" text-anchor="start" fill="#333" stroke="#333" stroke-width="0.1">up</text>
<circle cx="341.50" cy="26.90" r="1.75" fill="#626262"/>
<text x="344.20" y="28.40" font-size="4.5" text-anchor="start" fill="#333" stroke="#333" stroke-width="0.1">nosig</text>
<circle cx="341.50" cy="33.10" r="1.80" fill="#0a14ff"/>
<text x="344.20" y="34.60" font-size="4.5" text-anchor="start" fill="#333" stroke="#333" stroke-width="0.1">down</text>
<text x="340.20" y="83.10" font-size="4.6" text-anchor="start" fill="#333" stroke="#333" stroke-width="0.12">VIP</text>
<circle cx="341.30" cy="86.50" r="0.70" fill="#1a1a1a"/>
<text x="343.90" y="88.15" font-size="4.9" text-anchor="start" fill="#333" stroke="#333" stroke-width="0.15">1.125</text>
<circle cx="341.30" cy="92.60" r="0.95" fill="#1a1a1a"/>
<text x="343.90" y="94.25" font-size="4.9" text-anchor="start" fill="#333" stroke="#333" stroke-width="0.15">2.251</text>
<circle cx="341.30" cy="98.70" r="1.20" fill="#1a1a1a"/>
<text x="343.90" y="100.35" font-size="4.9" text-anchor="start" fill="#333" stroke="#333" stroke-width="0.15">3.376</text>
<circle cx="341.30" cy="104.90" r="1.45" fill="#1a1a1a"/>
<text x="343.90" y="106.55" font-size="4.9" text-anchor="start" fill="#333" stroke="#333" stroke-width="0.15">4.501</text>
<rect x="422.50" y="14.90" width="99.70" height="96.90" fill="none" stroke="#a6a6a6" stroke-width="0.6"/>
<line x1="422.50" y1="14.90" x2="422.50" y2="111.80" stroke="#8a8a8a" stroke-width="0.7"/>
<line x1="422.50" y1="111.80" x2="522.20" y2="111.80" stroke="#b0b0b0" stroke-width="0.6"/>
<line x1="467.40" y1="14.90" x2="467.40" y2="111.80" stroke="#c8c8c8" stroke-width="0.6"/>
<line x1="422.50" y1="75.80" x2="519.90" y2="75.80" stroke="#d2d2d2" stroke-width="0.8"/>
<line x1="421.20" y1="111.80" x2="422.50" y2="111.80" stroke="#8a8a8a" stroke-width="0.4"/>
<text x="420.70" y="113.35" font-size="4.6" text-anchor="end" fill="#2b2b2b" stroke="#2b2b2b" stroke-width="0.18">0</text>
<line x1="421.20" y1="97.95" x2="422.50" y2="97.95" stroke="#8a8a8a" stroke-width="0.4"/>
<text x="420.70" y="99.50" font-size="4.6" text-anchor="end" fill="#2b2b2b" stroke="#2b2b2b" stroke-width="0.18">0.5</text>
<line x1="421.20" y1="84.11" x2="422.50" y2="84.11" stroke="#8a8a8a" stroke-width="0.4"/>
<text x="420.70" y="85.66" font-size="4.6" text-anchor="end" fill="#2b2b2b" stroke="#2b2b2b" stroke-width="0.18">1</text>
<line x1="421.20" y1="70.26" x2="422.50" y2="70.26" stroke="#8a8a8a" stroke-width="0.4"/>
<text x="420.70" y="71.81" font-size="4.6" text-anchor="end" fill="#2b2b2b" stroke="#2b2b2b" stroke-width="0.18">1.5</text>
<line x1="421.20" y1="56.42" x2="422.50" y2="56.42" stroke="#8a8a8a" stroke-width="0.4"/>
<text x="420.70" y="57.97" font-size="4.6" text-anchor="end" fill="#2b2b2b" stroke="#2b2b2b" stroke-width="0.18">2</text>
<line x1="421.20" y1="42.57" x2="422.50" y2="42.57" stroke="#8a8a8a" stroke-width="0.4"/>
<text x="420.70" y="44.12" font-size="4.6" text-anchor="end" fill="#2b2b2b" stroke="#2b2b2b" stroke-width="0.18">2.5</text>
<line x1="421.20" y1="28.73" x2="422.50" y2="28.73" stroke="#8a8a8a" stroke-width="0.4"/>
<text x="420.70" y="30.28" font-size="4.6" text-anchor="end" fill="#2b2b2b" stroke="#2b2b2b" stroke-width="0.18">3</text>
<line x1="421.20" y1="14.88" x2="422.50" y2="14.88" stroke="#8a8a8a" stroke-width="0.4"/>
<text x="420.70" y="16.43" font-size="4.6" text-anchor="end" fill="#2b2b2b" stroke="#2b2b2b" stroke-width="0.18">3.5</text>
<line x1="424.60" y1="111.80" x2="424.60" y2="113.00" stroke="#8a8a8a" stroke-width="0.4"/>
<text x="424.60" y="117.20" font-size="4.6" text-anchor="middle" fill="#2b2b2b" stroke="#2b2b2b" stroke-width="0.18">-0.2</text>
<line x1="435.30" y1="111.80" x2="435.30" y2="113.00" stroke="#8a8a8a" stroke-width="0.4"/>
<text x="435.30" y="117.20" font-size="4.6" text-anchor="middle" fill="#2b2b2b" stroke="#2b2b2b" stroke-width="0.18">-0.15</text>
<line x1="446.00" y1="111.80" x2="446.00" y2="113.00" stroke="#8a8a8a" stroke-width="0.4"/>
<text x="446.00" y="117.20" font-size="4.6" text-anchor="middle" fill="#2b2b2b" stroke="#2b2b2b" stroke-width="0.18">-0.1</text>
<line x1="456.70" y1="111.80" x2="456.70" y2="113.00" stroke="#8a8a8a" stroke-width="0.4"/>
<text x="456.70" y="117.20" font-size="4.6" text-anchor="middle" fill="#2b2b2b" stroke="#2b2b2b" stroke-width="0.18">-0.05</text>
<line x1="467.40" y1="111.80" x2="467.40" y2="113.00" stroke="#8a8a8a" stroke-width="0.4"/>
<text x="467.40" y="117.20" font-size="4.6" text-anchor="middle" fill="#2b2b2b" stroke="#2b2b2b" stroke-width="0.18">0</text>
<line x1="478.10" y1="111.80" x2="478.10" y2="113.00" stroke="#8a8a8a" stroke-width="0.4"/>
<text x="478.10" y="117.20" font-size="4.6" text-anchor="middle" fill="#2b2b2b" stroke="#2b2b2b" stroke-width="0.18">0.05</text>
<line x1="488.80" y1="111.80" x2="488.80" y2="113.00" stroke="#8a8a8a" stroke-width="0.4"/>
<text x="488.80" y="117.20" font-size="4.6" text-anchor="middle" fill="#2b2b2b" stroke="#2b2b2b" stroke-width="0.18">0.1</text>
<line x1="499.50" y1="111.80" x2="499.50" y2="113.00" stroke="#8a8a8a" stroke-width="0.4"/>
<text x="499.50" y="117.20" font-size="4.6" text-anchor="middle" fill="#2b2b2b" stroke="#2b2b2b" stroke-width="0.18">0.15</text>
<line x1="510.20" y1="111.80" x2="510.20" y2="113.00" stroke="#8a8a8a" stroke-width="0.4"/>
<text x="510.20" y="117.20" font-size="4.6" text-anchor="middle" fill="#2b2b2b" stroke="#2b2b2b" stroke-width="0.18">0.2</text>
<line x1="520.90" y1="111.80" x2="520.90" y2="113.00" stroke="#8a8a8a" stroke-width="0.4"/>
<text x="520.90" y="117.20" font-size="4.6" text-anchor="middle" fill="#2b2b2b" stroke="#2b2b2b" stroke-width="0.18">0.25</text>
<text x="472.30" y="121.50" font-size="4.6" text-anchor="middle" fill="#2b2b2b" stroke="#2b2b2b" stroke-width="0.28">Log2FC</text>
<text x="413.00" y="63.70" font-size="4.8" text-anchor="middle" fill="#2b2b2b" stroke="#2b2b2b" stroke-width="0.2" transform="rotate(-90 413.00 63.70)">-Log10(pvalue)</text>
<text x="472.80" y="11.40" font-size="6.2" text-anchor="middle" fill="#222" stroke="#222" stroke-width="0.15" textLength="55" lengthAdjust="spacingAndGlyphs">20℃_vs_25℃.volcano</text>
<text x="394.00" y="10.20" font-size="5.6" text-anchor="middle" fill="#111" stroke="#111" stroke-width="0.18" font-weight="bold">C</text>
<circle cx="467.61" cy="105.28" r="0.82" fill="#767676"/>
<circle cx="462.67" cy="107.59" r="0.82" fill="#767676"/>
<circle cx="484.05" cy="92.93" r="0.82" fill="#767676"/>
<circle cx="465.37" cy="103.47" r="0.82" fill="#767676"/>
<circle cx="466.70" cy="111.31" r="0.82" fill="#767676"/>
<circle cx="472.80" cy="106.29" r="0.82" fill="#767676"/>
<circle cx="455.78" cy="92.37" r="0.82" fill="#767676"/>
<circle cx="474.64" cy="83.18" r="0.82" fill="#767676"/>
<circle cx="473.27" cy="102.91" r="0.82" fill="#767676"/>
<circle cx="462.61" cy="90.32" r="0.82" fill="#767676"/>
<circle cx="464.58" cy="108.16" r="0.82" fill="#767676"/>
<circle cx="470.72" cy="91.08" r="0.82" fill="#767676"/>
<circle cx="467.99" cy="110.11" r="0.82" fill="#767676"/>
<circle cx="469.04" cy="108.99" r="0.82" fill="#767676"/>
<circle cx="467.93" cy="110.93" r="0.82" fill="#767676"/>
<circle cx="468.70" cy="109.99" r="0.82" fill="#767676"/>
<circle cx="467.26" cy="111.55" r="0.82" fill="#767676"/>
<circle cx="464.23" cy="103.05" r="0.82" fill="#767676"/>
<circle cx="467.40" cy="111.80" r="0.82" fill="#767676"/>
<circle cx="466.37" cy="110.60" r="0.82" fill="#767676"/>
<circle cx="468.09" cy="108.97" r="0.82" fill="#767676"/>
<circle cx="463.67" cy="89.54" r="0.82" fill="#767676"/>
<circle cx="461.50" cy="102.90" r="0.82" fill="#767676"/>
<circle cx="455.29" cy="87.84" r="0.82" fill="#767676"/>
<circle cx="467.82" cy="110.41" r="0.82" fill="#767676"/>
<circle cx="464.52" cy="104.38" r="0.82" fill="#767676"/>
<circle cx="465.34" cy="108.65" r="0.82" fill="#767676"/>
<circle cx="439.03" cy="91.51" r="0.82" fill="#767676"/>
<circle cx="463.27" cy="105.97" r="0.82" fill="#767676"/>
<circle cx="464.93" cy="108.38" r="0.82" fill="#767676"/>
<circle cx="470.80" cy="102.17" r="0.82" fill="#767676"/>
<circle cx="463.18" cy="101.95" r="0.82" fill="#767676"/>
<circle cx="473.20" cy="101.89" r="0.82" fill="#767676"/>
<circle cx="466.72" cy="109.89" r="0.82" fill="#767676"/>
<circle cx="472.26" cy="99.83" r="0.82" fill="#767676"/>
<circle cx="462.18" cy="104.16" r="0.82" fill="#767676"/>
<circle cx="472.48" cy="99.25" r="0.82" fill="#767676"/>
<circle cx="468.59" cy="96.74" r="0.82" fill="#767676"/>
<circle cx="465.03" cy="108.85" r="0.82" fill="#767676"/>
<circle cx="463.41" cy="106.32" r="0.82" fill="#767676"/>
<circle cx="467.91" cy="110.94" r="0.82" fill="#767676"/>
<circle cx="462.19" cy="103.48" r="0.82" fill="#767676"/>
<circle cx="475.18" cy="89.01" r="0.82" fill="#767676"/>
<circle cx="466.87" cy="109.04" r="0.82" fill="#767676"/>
<circle cx="482.59" cy="85.22" r="0.82" fill="#767676"/>
<circle cx="469.16" cy="99.80" r="0.82" fill="#767676"/>
<circle cx="472.35" cy="106.15" r="0.82" fill="#767676"/>
<circle cx="463.96" cy="104.34" r="0.82" fill="#767676"/>
<circle cx="467.38" cy="111.74" r="0.82" fill="#767676"/>
<circle cx="465.66" cy="107.43" r="0.82" fill="#767676"/>
<circle cx="465.60" cy="109.02" r="0.82" fill="#767676"/>
<circle cx="461.43" cy="104.70" r="0.82" fill="#767676"/>
<circle cx="466.88" cy="111.32" r="0.82" fill="#767676"/>
<circle cx="473.08" cy="95.15" r="0.82" fill="#767676"/>
<circle cx="464.40" cy="109.83" r="0.82" fill="#767676"/>
<circle cx="458.99" cy="97.00" r="0.82" fill="#767676"/>
<circle cx="469.52" cy="108.29" r="0.82" fill="#767676"/>
<circle cx="465.38" cy="96.92" r="0.82" fill="#767676"/>
<circle cx="462.27" cy="96.48" r="0.82" fill="#767676"/>
<circle cx="463.77" cy="102.76" r="0.82" fill="#767676"/>
<circle cx="465.90" cy="102.73" r="0.82" fill="#767676"/>
<circle cx="460.83" cy="100.92" r="0.82" fill="#767676"/>
<circle cx="461.23" cy="77.43" r="0.82" fill="#767676"/>
<circle cx="469.28" cy="109.34" r="0.82" fill="#767676"/>
<circle cx="466.75" cy="109.80" r="0.82" fill="#767676"/>
<circle cx="468.35" cy="99.05" r="0.82" fill="#767676"/>
<circle cx="467.46" cy="103.78" r="0.82" fill="#767676"/>
<circle cx="464.31" cy="106.88" r="0.82" fill="#767676"/>
<circle cx="468.69" cy="109.00" r="0.82" fill="#767676"/>
<circle cx="466.47" cy="98.94" r="0.82" fill="#767676"/>
<circle cx="476.36" cy="102.75" r="0.82" fill="#767676"/>
<circle cx="472.71" cy="106.10" r="0.82" fill="#767676"/>
<circle cx="470.82" cy="108.39" r="0.82" fill="#767676"/>
<circle cx="466.87" cy="110.48" r="0.82" fill="#767676"/>
<circle cx="473.59" cy="87.83" r="0.82" fill="#767676"/>
<circle cx="465.83" cy="109.50" r="0.82" fill="#767676"/>
<circle cx="465.39" cy="109.69" r="0.82" fill="#767676"/>
<circle cx="446.52" cy="77.63" r="0.82" fill="#767676"/>
<circle cx="468.13" cy="89.75" r="0.82" fill="#767676"/>
<circle cx="470.98" cy="102.25" r="0.82" fill="#767676"/>
<circle cx="469.35" cy="108.65" r="0.82" fill="#767676"/>
<circle cx="454.81" cy="89.15" r="0.82" fill="#767676"/>
<circle cx="467.14" cy="111.56" r="0.82" fill="#767676"/>
<circle cx="473.61" cy="102.40" r="0.82" fill="#767676"/>
<circle cx="466.11" cy="82.86" r="0.82" fill="#767676"/>
<circle cx="474.34" cy="100.15" r="0.82" fill="#767676"/>
<circle cx="465.79" cy="107.63" r="0.82" fill="#767676"/>
<circle cx="462.30" cy="104.10" r="0.82" fill="#767676"/>
<circle cx="465.42" cy="99.13" r="0.82" fill="#767676"/>
<circle cx="473.42" cy="81.44" r="0.82" fill="#767676"/>
<circle cx="474.53" cy="101.33" r="0.82" fill="#767676"/>
<circle cx="481.34" cy="81.56" r="0.82" fill="#767676"/>
<circle cx="466.58" cy="108.37" r="0.82" fill="#767676"/>
<circle cx="466.44" cy="109.97" r="0.82" fill="#767676"/>
<circle cx="473.66" cy="90.23" r="0.82" fill="#767676"/>
<circle cx="473.12" cy="77.35" r="0.82" fill="#767676"/>
<circle cx="468.34" cy="87.55" r="0.82" fill="#767676"/>
<circle cx="462.79" cy="102.67" r="0.82" fill="#767676"/>
<circle cx="468.48" cy="110.18" r="0.82" fill="#767676"/>
<circle cx="468.88" cy="100.67" r="0.82" fill="#767676"/>
<circle cx="464.33" cy="107.95" r="0.82" fill="#767676"/>
<circle cx="472.03" cy="101.52" r="0.82" fill="#767676"/>
<circle cx="464.73" cy="94.19" r="0.82" fill="#767676"/>
<circle cx="460.47" cy="102.92" r="0.82" fill="#767676"/>
<circle cx="469.81" cy="99.51" r="0.82" fill="#767676"/>
<circle cx="484.04" cy="86.08" r="0.82" fill="#767676"/>
<circle cx="470.45" cy="108.00" r="0.82" fill="#767676"/>
<circle cx="475.92" cy="95.16" r="0.82" fill="#767676"/>
<circle cx="462.48" cy="99.96" r="0.82" fill="#767676"/>
<circle cx="465.47" cy="105.28" r="0.82" fill="#767676"/>
<circle cx="459.79" cy="88.53" r="0.82" fill="#767676"/>
<circle cx="465.90" cy="81.06" r="0.82" fill="#767676"/>
<circle cx="465.19" cy="98.20" r="0.82" fill="#767676"/>
<circle cx="473.33" cy="91.91" r="0.82" fill="#767676"/>
<circle cx="471.95" cy="103.42" r="0.82" fill="#767676"/>
<circle cx="467.39" cy="111.79" r="0.82" fill="#767676"/>
<circle cx="465.67" cy="108.05" r="0.82" fill="#767676"/>
<circle cx="473.74" cy="105.74" r="0.82" fill="#767676"/>
<circle cx="477.12" cy="79.85" r="0.82" fill="#767676"/>
<circle cx="466.06" cy="108.51" r="0.82" fill="#767676"/>
<circle cx="462.67" cy="100.98" r="0.82" fill="#767676"/>
<circle cx="467.30" cy="111.77" r="0.82" fill="#767676"/>
<circle cx="472.04" cy="102.59" r="0.82" fill="#767676"/>
<circle cx="467.23" cy="111.40" r="0.82" fill="#767676"/>
<circle cx="461.29" cy="97.96" r="0.82" fill="#767676"/>
<circle cx="466.30" cy="109.43" r="0.82" fill="#767676"/>
<circle cx="476.41" cy="92.78" r="0.82" fill="#767676"/>
<circle cx="480.77" cy="90.81" r="0.82" fill="#767676"/>
<circle cx="464.17" cy="93.44" r="0.82" fill="#767676"/>
<circle cx="468.22" cy="110.81" r="0.82" fill="#767676"/>
<circle cx="460.98" cy="93.21" r="0.82" fill="#767676"/>
<circle cx="466.75" cy="103.41" r="0.82" fill="#767676"/>
<circle cx="469.39" cy="106.20" r="0.82" fill="#767676"/>
<circle cx="470.14" cy="98.17" r="0.82" fill="#767676"/>
<circle cx="464.07" cy="110.28" r="0.82" fill="#767676"/>
<circle cx="471.09" cy="107.47" r="0.82" fill="#767676"/>
<circle cx="467.37" cy="111.76" r="0.82" fill="#767676"/>
<circle cx="468.93" cy="107.34" r="0.82" fill="#767676"/>
<circle cx="474.35" cy="100.57" r="0.82" fill="#767676"/>
<circle cx="460.58" cy="87.36" r="0.82" fill="#767676"/>
<circle cx="469.79" cy="85.12" r="0.82" fill="#767676"/>
<circle cx="465.63" cy="107.24" r="0.82" fill="#767676"/>
<circle cx="468.14" cy="111.06" r="0.82" fill="#767676"/>
<circle cx="466.45" cy="110.39" r="0.82" fill="#767676"/>
<circle cx="465.53" cy="108.43" r="0.82" fill="#767676"/>
<circle cx="466.68" cy="110.17" r="0.82" fill="#767676"/>
<circle cx="468.86" cy="110.83" r="0.82" fill="#767676"/>
<circle cx="463.15" cy="92.10" r="0.82" fill="#767676"/>
<circle cx="452.80" cy="85.93" r="0.82" fill="#767676"/>
<circle cx="465.93" cy="109.64" r="0.82" fill="#767676"/>
<circle cx="455.88" cy="96.87" r="0.82" fill="#767676"/>
<circle cx="456.31" cy="93.93" r="0.82" fill="#767676"/>
<circle cx="463.20" cy="99.41" r="0.82" fill="#767676"/>
<circle cx="470.25" cy="105.06" r="0.82" fill="#767676"/>
<circle cx="460.82" cy="86.77" r="0.82" fill="#767676"/>
<circle cx="480.91" cy="96.81" r="0.82" fill="#767676"/>
<circle cx="470.16" cy="102.72" r="0.82" fill="#767676"/>
<circle cx="466.14" cy="85.18" r="0.82" fill="#767676"/>
<circle cx="462.87" cy="99.25" r="0.82" fill="#767676"/>
<circle cx="469.79" cy="105.26" r="0.82" fill="#767676"/>
<circle cx="471.32" cy="100.96" r="0.82" fill="#767676"/>
<circle cx="456.17" cy="78.51" r="0.82" fill="#767676"/>
<circle cx="467.15" cy="111.20" r="0.82" fill="#767676"/>
<circle cx="465.32" cy="105.41" r="0.82" fill="#767676"/>
<circle cx="470.91" cy="84.73" r="0.82" fill="#767676"/>
<circle cx="470.74" cy="106.30" r="0.82" fill="#767676"/>
<circle cx="464.66" cy="107.04" r="0.82" fill="#767676"/>
<circle cx="461.26" cy="92.29" r="0.82" fill="#767676"/>
<circle cx="449.83" cy="89.20" r="0.82" fill="#767676"/>
<circle cx="468.24" cy="105.76" r="0.82" fill="#767676"/>
<circle cx="454.30" cy="81.14" r="0.82" fill="#767676"/>
<circle cx="461.13" cy="104.42" r="0.82" fill="#767676"/>
<circle cx="472.40" cy="101.48" r="0.82" fill="#767676"/>
<circle cx="464.79" cy="108.61" r="0.82" fill="#767676"/>
<circle cx="461.71" cy="92.26" r="0.82" fill="#767676"/>
<circle cx="467.06" cy="111.09" r="0.82" fill="#767676"/>
<circle cx="481.13" cy="81.68" r="0.82" fill="#767676"/>
<circle cx="468.12" cy="110.83" r="0.82" fill="#767676"/>
<circle cx="460.20" cy="101.74" r="0.82" fill="#767676"/>
<circle cx="463.13" cy="101.06" r="0.82" fill="#767676"/>
<circle cx="471.12" cy="104.76" r="0.82" fill="#767676"/>
<circle cx="464.21" cy="104.31" r="0.82" fill="#767676"/>
<circle cx="472.46" cy="95.43" r="0.82" fill="#767676"/>
<circle cx="464.89" cy="107.94" r="0.82" fill="#767676"/>
<circle cx="461.88" cy="83.58" r="0.82" fill="#767676"/>
<circle cx="472.12" cy="103.72" r="0.82" fill="#767676"/>
<circle cx="466.00" cy="109.28" r="0.82" fill="#767676"/>
<circle cx="466.77" cy="109.27" r="0.82" fill="#767676"/>
<circle cx="482.89" cy="98.71" r="0.82" fill="#767676"/>
<circle cx="468.83" cy="107.73" r="0.82" fill="#767676"/>
<circle cx="465.66" cy="107.58" r="0.82" fill="#767676"/>
<circle cx="468.93" cy="108.62" r="0.82" fill="#767676"/>
<circle cx="468.62" cy="104.52" r="0.82" fill="#767676"/>
<circle cx="469.47" cy="78.36" r="0.82" fill="#767676"/>
<circle cx="465.40" cy="107.09" r="0.82" fill="#767676"/>
<circle cx="468.60" cy="87.68" r="0.82" fill="#767676"/>
<circle cx="471.54" cy="108.78" r="0.82" fill="#767676"/>
<circle cx="470.78" cy="106.09" r="0.82" fill="#767676"/>
<circle cx="474.02" cy="91.77" r="0.82" fill="#767676"/>
<circle cx="466.52" cy="100.39" r="0.82" fill="#767676"/>
<circle cx="470.00" cy="106.46" r="0.82" fill="#767676"/>
<circle cx="456.99" cy="97.20" r="0.82" fill="#767676"/>
<circle cx="464.82" cy="107.00" r="0.82" fill="#767676"/>
<circle cx="466.82" cy="110.33" r="0.82" fill="#767676"/>
<circle cx="483.23" cy="89.57" r="0.82" fill="#767676"/>
<circle cx="459.23" cy="93.29" r="0.82" fill="#767676"/>
<circle cx="456.01" cy="98.69" r="0.82" fill="#767676"/>
<circle cx="469.76" cy="107.33" r="0.82" fill="#767676"/>
<circle cx="471.00" cy="100.02" r="0.82" fill="#767676"/>
<circle cx="470.81" cy="106.45" r="0.82" fill="#767676"/>
<circle cx="473.05" cy="87.31" r="0.82" fill="#767676"/>
<circle cx="468.79" cy="109.40" r="0.82" fill="#767676"/>
<circle cx="472.71" cy="99.79" r="0.82" fill="#767676"/>
<circle cx="472.59" cy="88.71" r="0.82" fill="#767676"/>
<circle cx="469.21" cy="108.82" r="0.82" fill="#767676"/>
<circle cx="478.96" cy="84.06" r="0.82" fill="#767676"/>
<circle cx="463.05" cy="101.17" r="0.82" fill="#767676"/>
<circle cx="466.19" cy="110.13" r="0.82" fill="#767676"/>
<circle cx="453.17" cy="91.90" r="0.82" fill="#767676"/>
<circle cx="468.80" cy="109.13" r="0.82" fill="#767676"/>
<circle cx="465.31" cy="107.01" r="0.82" fill="#767676"/>
<circle cx="473.12" cy="101.90" r="0.82" fill="#767676"/>
<circle cx="469.56" cy="100.14" r="0.82" fill="#767676"/>
<circle cx="463.25" cy="81.08" r="0.82" fill="#767676"/>
<circle cx="467.93" cy="111.11" r="0.82" fill="#767676"/>
<circle cx="465.63" cy="108.03" r="0.82" fill="#767676"/>
<circle cx="466.44" cy="110.68" r="0.82" fill="#767676"/>
<circle cx="472.98" cy="96.84" r="0.82" fill="#767676"/>
<circle cx="470.78" cy="106.10" r="0.82" fill="#767676"/>
<circle cx="472.03" cy="106.00" r="0.82" fill="#767676"/>
<circle cx="465.50" cy="111.27" r="0.82" fill="#767676"/>
<circle cx="469.08" cy="94.62" r="0.82" fill="#767676"/>
<circle cx="458.51" cy="92.96" r="0.82" fill="#767676"/>
<circle cx="477.89" cy="83.96" r="0.82" fill="#767676"/>
<circle cx="468.51" cy="109.16" r="0.82" fill="#767676"/>
<circle cx="467.15" cy="108.83" r="0.82" fill="#767676"/>
<circle cx="468.99" cy="110.43" r="0.82" fill="#767676"/>
<circle cx="471.84" cy="86.80" r="0.82" fill="#767676"/>
<circle cx="469.49" cy="108.73" r="0.82" fill="#767676"/>
<circle cx="467.25" cy="111.50" r="0.82" fill="#767676"/>
<circle cx="454.14" cy="82.35" r="0.82" fill="#767676"/>
<circle cx="465.12" cy="111.42" r="0.82" fill="#767676"/>
<circle cx="465.75" cy="97.31" r="0.82" fill="#767676"/>
<circle cx="468.82" cy="109.31" r="0.82" fill="#767676"/>
<circle cx="459.02" cy="87.61" r="0.82" fill="#767676"/>
<circle cx="470.56" cy="106.59" r="0.82" fill="#767676"/>
<circle cx="474.53" cy="76.73" r="0.82" fill="#767676"/>
<circle cx="458.70" cy="94.93" r="0.82" fill="#767676"/>
<circle cx="467.59" cy="85.37" r="0.82" fill="#767676"/>
<circle cx="472.55" cy="106.79" r="0.82" fill="#767676"/>
<circle cx="476.50" cy="84.14" r="0.82" fill="#767676"/>
<circle cx="477.73" cy="100.27" r="0.82" fill="#767676"/>
<circle cx="470.68" cy="107.05" r="0.82" fill="#767676"/>
<circle cx="453.73" cy="85.60" r="0.82" fill="#767676"/>
<circle cx="461.15" cy="83.59" r="0.82" fill="#767676"/>
<circle cx="463.47" cy="84.21" r="0.82" fill="#767676"/>
<circle cx="472.09" cy="101.29" r="0.82" fill="#767676"/>
<circle cx="466.55" cy="107.73" r="0.82" fill="#767676"/>
<circle cx="467.24" cy="84.11" r="0.82" fill="#767676"/>
<circle cx="481.78" cy="77.19" r="0.82" fill="#767676"/>
<circle cx="469.92" cy="97.10" r="0.82" fill="#767676"/>
<circle cx="467.98" cy="110.79" r="0.82" fill="#767676"/>
<circle cx="460.74" cy="83.89" r="0.82" fill="#767676"/>
<circle cx="475.69" cy="81.56" r="0.82" fill="#767676"/>
<circle cx="478.60" cy="93.28" r="0.82" fill="#767676"/>
<circle cx="460.83" cy="99.86" r="0.82" fill="#767676"/>
<circle cx="465.09" cy="111.64" r="0.82" fill="#767676"/>
<circle cx="470.56" cy="106.25" r="0.82" fill="#767676"/>
<circle cx="463.34" cy="97.08" r="0.82" fill="#767676"/>
<circle cx="462.62" cy="103.43" r="0.82" fill="#767676"/>
<circle cx="472.72" cy="90.02" r="0.82" fill="#767676"/>
<circle cx="472.64" cy="103.43" r="0.82" fill="#767676"/>
<circle cx="462.80" cy="96.26" r="0.82" fill="#767676"/>
<circle cx="458.04" cy="86.70" r="0.82" fill="#767676"/>
<circle cx="466.54" cy="105.33" r="0.82" fill="#767676"/>
<circle cx="472.65" cy="99.51" r="0.82" fill="#767676"/>
<circle cx="471.97" cy="96.94" r="0.82" fill="#767676"/>
<circle cx="456.17" cy="97.93" r="0.82" fill="#767676"/>
<circle cx="467.44" cy="111.75" r="0.82" fill="#767676"/>
<circle cx="467.26" cy="106.10" r="0.82" fill="#767676"/>
<circle cx="471.39" cy="104.27" r="0.82" fill="#767676"/>
<circle cx="468.75" cy="95.81" r="0.82" fill="#767676"/>
<circle cx="460.20" cy="102.95" r="0.82" fill="#767676"/>
<circle cx="471.32" cy="93.73" r="0.82" fill="#767676"/>
<circle cx="475.50" cy="77.21" r="0.82" fill="#767676"/>
<circle cx="478.05" cy="93.26" r="0.82" fill="#767676"/>
<circle cx="472.65" cy="99.53" r="0.82" fill="#767676"/>
<circle cx="464.35" cy="103.74" r="0.82" fill="#767676"/>
<circle cx="464.81" cy="98.53" r="0.82" fill="#767676"/>
<circle cx="438.26" cy="80.36" r="0.82" fill="#767676"/>
<circle cx="470.15" cy="101.95" r="0.82" fill="#767676"/>
<circle cx="454.49" cy="85.73" r="0.82" fill="#767676"/>
<circle cx="467.40" cy="86.17" r="0.82" fill="#767676"/>
<circle cx="463.85" cy="108.95" r="0.82" fill="#767676"/>
<circle cx="473.03" cy="106.72" r="0.82" fill="#767676"/>
<circle cx="465.75" cy="108.88" r="0.82" fill="#767676"/>
<circle cx="467.32" cy="111.57" r="0.82" fill="#767676"/>
<circle cx="467.69" cy="111.16" r="0.82" fill="#767676"/>
<circle cx="478.06" cy="91.59" r="0.82" fill="#767676"/>
<circle cx="449.33" cy="89.57" r="0.82" fill="#767676"/>
<circle cx="465.18" cy="107.80" r="0.82" fill="#767676"/>
<circle cx="472.82" cy="104.79" r="0.82" fill="#767676"/>
<circle cx="453.08" cy="85.73" r="0.82" fill="#767676"/>
<circle cx="470.28" cy="106.10" r="0.82" fill="#767676"/>
<circle cx="467.00" cy="105.80" r="0.82" fill="#767676"/>
<circle cx="468.22" cy="108.48" r="0.82" fill="#767676"/>
<circle cx="473.11" cy="105.22" r="0.82" fill="#767676"/>
<circle cx="471.00" cy="104.25" r="0.82" fill="#767676"/>
<circle cx="464.31" cy="106.76" r="0.82" fill="#767676"/>
<circle cx="460.85" cy="101.87" r="0.82" fill="#767676"/>
<circle cx="469.73" cy="102.42" r="0.82" fill="#767676"/>
<circle cx="468.33" cy="89.40" r="0.82" fill="#767676"/>
<circle cx="461.78" cy="100.55" r="0.82" fill="#767676"/>
<circle cx="462.36" cy="95.61" r="0.82" fill="#767676"/>
<circle cx="462.50" cy="88.34" r="0.82" fill="#767676"/>
<circle cx="476.76" cy="82.82" r="0.82" fill="#767676"/>
<circle cx="476.35" cy="90.55" r="0.82" fill="#767676"/>
<circle cx="465.81" cy="91.88" r="0.82" fill="#767676"/>
<circle cx="471.52" cy="102.60" r="0.82" fill="#767676"/>
<circle cx="476.73" cy="95.30" r="0.82" fill="#767676"/>
<circle cx="457.80" cy="87.95" r="0.82" fill="#767676"/>
<circle cx="472.24" cy="98.96" r="0.82" fill="#767676"/>
<circle cx="475.39" cy="89.51" r="0.82" fill="#767676"/>
<circle cx="468.03" cy="110.23" r="0.82" fill="#767676"/>
<circle cx="463.82" cy="85.69" r="0.82" fill="#767676"/>
<circle cx="470.94" cy="99.50" r="0.82" fill="#767676"/>
<circle cx="471.07" cy="100.60" r="0.82" fill="#767676"/>
<circle cx="464.53" cy="97.18" r="0.82" fill="#767676"/>
<circle cx="465.96" cy="109.78" r="0.82" fill="#767676"/>
<circle cx="467.29" cy="111.55" r="0.82" fill="#767676"/>
<circle cx="464.71" cy="106.30" r="0.82" fill="#767676"/>
<circle cx="481.05" cy="82.32" r="0.82" fill="#767676"/>
<circle cx="464.78" cy="101.59" r="0.82" fill="#767676"/>
<circle cx="473.61" cy="82.26" r="0.82" fill="#767676"/>
<circle cx="458.81" cy="82.93" r="0.82" fill="#767676"/>
<circle cx="458.71" cy="83.91" r="0.82" fill="#767676"/>
<circle cx="458.05" cy="87.70" r="0.82" fill="#767676"/>
<circle cx="470.18" cy="107.72" r="0.82" fill="#767676"/>
<circle cx="462.67" cy="102.87" r="0.82" fill="#767676"/>
<circle cx="473.66" cy="106.83" r="0.82" fill="#767676"/>
<circle cx="465.68" cy="108.76" r="0.82" fill="#767676"/>
<circle cx="465.90" cy="100.37" r="0.82" fill="#767676"/>
<circle cx="465.38" cy="107.63" r="0.82" fill="#767676"/>
<circle cx="475.16" cy="97.77" r="0.82" fill="#767676"/>
<circle cx="467.97" cy="110.80" r="0.82" fill="#767676"/>
<circle cx="468.03" cy="107.91" r="0.82" fill="#767676"/>
<circle cx="474.12" cy="90.08" r="0.82" fill="#767676"/>
<circle cx="475.30" cy="95.49" r="0.82" fill="#767676"/>
<circle cx="462.80" cy="83.36" r="0.82" fill="#767676"/>
<circle cx="480.09" cy="82.64" r="0.82" fill="#767676"/>
<circle cx="460.75" cy="97.07" r="0.82" fill="#767676"/>
<circle cx="463.23" cy="96.13" r="0.82" fill="#767676"/>
<circle cx="458.86" cy="98.55" r="0.82" fill="#767676"/>
<circle cx="472.09" cy="108.58" r="0.82" fill="#767676"/>
<circle cx="473.43" cy="83.52" r="0.82" fill="#767676"/>
<circle cx="466.85" cy="109.29" r="0.82" fill="#767676"/>
<circle cx="474.21" cy="102.54" r="0.82" fill="#767676"/>
<circle cx="466.27" cy="108.75" r="0.82" fill="#767676"/>
<circle cx="471.08" cy="107.65" r="0.82" fill="#767676"/>
<circle cx="474.57" cy="105.15" r="0.82" fill="#767676"/>
<circle cx="462.98" cy="104.36" r="0.82" fill="#767676"/>
<circle cx="466.98" cy="104.88" r="0.82" fill="#767676"/>
<circle cx="477.55" cy="77.58" r="0.82" fill="#767676"/>
<circle cx="478.36" cy="78.45" r="0.82" fill="#767676"/>
<circle cx="465.46" cy="109.59" r="0.82" fill="#767676"/>
<circle cx="468.36" cy="89.64" r="0.82" fill="#767676"/>
<circle cx="464.48" cy="107.74" r="0.82" fill="#767676"/>
<circle cx="472.77" cy="100.59" r="0.82" fill="#767676"/>
<circle cx="471.37" cy="107.01" r="0.82" fill="#767676"/>
<circle cx="464.30" cy="83.51" r="0.82" fill="#767676"/>
<circle cx="468.69" cy="110.49" r="0.82" fill="#767676"/>
<circle cx="492.05" cy="89.27" r="0.82" fill="#767676"/>
<circle cx="466.75" cy="95.05" r="0.82" fill="#767676"/>
<circle cx="470.30" cy="107.29" r="0.82" fill="#767676"/>
<circle cx="473.10" cy="101.25" r="0.82" fill="#767676"/>
<circle cx="475.98" cy="102.49" r="0.82" fill="#767676"/>
<circle cx="460.58" cy="77.32" r="0.82" fill="#767676"/>
<circle cx="466.95" cy="110.71" r="0.82" fill="#767676"/>
<circle cx="468.17" cy="82.21" r="0.82" fill="#767676"/>
<circle cx="467.93" cy="110.59" r="0.82" fill="#767676"/>
<circle cx="462.71" cy="106.01" r="0.82" fill="#767676"/>
<circle cx="442.91" cy="86.72" r="0.82" fill="#767676"/>
<circle cx="472.57" cy="105.11" r="0.82" fill="#767676"/>
<circle cx="471.01" cy="107.56" r="0.82" fill="#767676"/>
<circle cx="462.05" cy="102.13" r="0.82" fill="#767676"/>
<circle cx="470.58" cy="98.34" r="0.82" fill="#767676"/>
<circle cx="464.93" cy="106.85" r="0.82" fill="#767676"/>
<circle cx="457.76" cy="92.53" r="0.82" fill="#767676"/>
<circle cx="466.24" cy="108.72" r="0.82" fill="#767676"/>
<circle cx="467.11" cy="111.28" r="0.82" fill="#767676"/>
<circle cx="455.87" cy="93.92" r="0.82" fill="#767676"/>
<circle cx="464.16" cy="103.37" r="0.82" fill="#767676"/>
<circle cx="452.62" cy="93.33" r="0.82" fill="#767676"/>
<circle cx="482.26" cy="82.66" r="0.82" fill="#767676"/>
<circle cx="468.39" cy="103.76" r="0.82" fill="#767676"/>
<circle cx="468.65" cy="106.78" r="0.82" fill="#767676"/>
<circle cx="467.32" cy="111.66" r="0.82" fill="#767676"/>
<circle cx="477.53" cy="80.62" r="0.82" fill="#767676"/>
<circle cx="472.42" cy="102.96" r="0.82" fill="#767676"/>
<circle cx="463.64" cy="104.08" r="0.82" fill="#767676"/>
<circle cx="467.81" cy="102.55" r="0.82" fill="#767676"/>
<circle cx="467.83" cy="108.15" r="0.82" fill="#767676"/>
<circle cx="471.87" cy="86.83" r="0.82" fill="#767676"/>
<circle cx="476.09" cy="83.40" r="0.82" fill="#767676"/>
<circle cx="467.13" cy="80.51" r="0.82" fill="#767676"/>
<circle cx="469.03" cy="111.72" r="0.82" fill="#767676"/>
<circle cx="462.13" cy="94.13" r="0.82" fill="#767676"/>
<circle cx="461.33" cy="87.93" r="0.82" fill="#767676"/>
<circle cx="476.58" cy="94.47" r="0.82" fill="#767676"/>
<circle cx="466.74" cy="110.81" r="0.82" fill="#767676"/>
<circle cx="469.40" cy="110.95" r="0.82" fill="#767676"/>
<circle cx="450.95" cy="85.14" r="0.82" fill="#767676"/>
<circle cx="472.71" cy="97.88" r="0.82" fill="#767676"/>
<circle cx="468.53" cy="92.60" r="0.82" fill="#767676"/>
<circle cx="480.35" cy="91.10" r="0.82" fill="#767676"/>
<circle cx="472.95" cy="81.97" r="0.82" fill="#767676"/>
<circle cx="471.13" cy="105.02" r="0.82" fill="#767676"/>
<circle cx="459.63" cy="105.10" r="0.82" fill="#767676"/>
<circle cx="465.60" cy="109.39" r="0.82" fill="#767676"/>
<circle cx="468.32" cy="109.47" r="0.82" fill="#767676"/>
<circle cx="464.70" cy="103.00" r="0.82" fill="#767676"/>
<circle cx="476.53" cy="102.20" r="0.82" fill="#767676"/>
<circle cx="461.21" cy="79.70" r="0.82" fill="#767676"/>
<circle cx="476.93" cy="86.60" r="0.82" fill="#767676"/>
<circle cx="468.76" cy="96.65" r="0.82" fill="#767676"/>
<circle cx="470.65" cy="105.48" r="0.82" fill="#767676"/>
<circle cx="466.01" cy="102.92" r="0.82" fill="#767676"/>
<circle cx="462.84" cy="105.81" r="0.82" fill="#767676"/>
<circle cx="480.11" cy="98.21" r="0.82" fill="#767676"/>
<circle cx="461.74" cy="76.84" r="0.82" fill="#767676"/>
<circle cx="467.41" cy="102.16" r="0.82" fill="#767676"/>
<circle cx="474.81" cy="97.42" r="0.82" fill="#767676"/>
<circle cx="475.90" cy="100.24" r="0.82" fill="#767676"/>
<circle cx="476.68" cy="84.55" r="0.82" fill="#767676"/>
<circle cx="453.23" cy="95.42" r="0.82" fill="#767676"/>
<circle cx="472.84" cy="95.26" r="0.82" fill="#767676"/>
<circle cx="461.70" cy="103.31" r="0.82" fill="#767676"/>
<circle cx="466.81" cy="110.52" r="0.82" fill="#767676"/>
<circle cx="462.80" cy="97.47" r="0.82" fill="#767676"/>
<circle cx="470.06" cy="87.54" r="0.82" fill="#767676"/>
<circle cx="446.00" cy="88.00" r="0.82" fill="#767676"/>
<circle cx="448.00" cy="90.00" r="0.82" fill="#767676"/>
<circle cx="448.00" cy="97.00" r="0.82" fill="#767676"/>
<circle cx="491.00" cy="79.50" r="0.82" fill="#767676"/>
<circle cx="498.00" cy="78.00" r="0.82" fill="#767676"/>
<circle cx="492.00" cy="84.00" r="0.82" fill="#767676"/>
<circle cx="496.00" cy="84.50" r="0.82" fill="#767676"/>
<circle cx="506.00" cy="84.00" r="0.82" fill="#767676"/>
<circle cx="504.00" cy="93.00" r="0.82" fill="#767676"/>
<circle cx="511.00" cy="93.00" r="0.82" fill="#767676"/>
<circle cx="498.00" cy="88.00" r="0.82" fill="#767676"/>
<circle cx="497.00" cy="98.50" r="0.82" fill="#767676"/>
<circle cx="486.00" cy="96.00" r="0.82" fill="#767676"/>
<circle cx="490.00" cy="98.00" r="0.82" fill="#767676"/>
<circle cx="438.00" cy="98.90" r="0.82" fill="#767676"/>
<circle cx="510.00" cy="82.00" r="0.82" fill="#767676"/>
<circle cx="514.00" cy="95.00" r="0.82" fill="#767676"/>
<circle cx="429.30" cy="35.20" r="1.30" fill="#0a14ff"/>
<circle cx="435.20" cy="64.00" r="1.20" fill="#0a14ff"/>
<circle cx="447.10" cy="51.60" r="1.20" fill="#0a14ff"/>
<circle cx="447.70" cy="52.30" r="1.20" fill="#0a14ff"/>
<circle cx="451.00" cy="55.30" r="1.10" fill="#0a14ff"/>
<circle cx="454.60" cy="46.60" r="1.10" fill="#0a14ff"/>
<circle cx="455.30" cy="47.10" r="1.00" fill="#0a14ff"/>
<circle cx="458.30" cy="33.70" r="0.90" fill="#0a14ff"/>
<circle cx="461.80" cy="30.80" r="0.90" fill="#0a14ff"/>
<circle cx="457.20" cy="57.50" r="1.00" fill="#0a14ff"/>
<circle cx="459.00" cy="58.10" r="0.90" fill="#0a14ff"/>
<circle cx="460.00" cy="56.40" r="0.90" fill="#0a14ff"/>
<circle cx="462.20" cy="59.20" r="0.90" fill="#0a14ff"/>
<circle cx="464.40" cy="59.20" r="0.90" fill="#0a14ff"/>
<circle cx="462.20" cy="61.80" r="0.90" fill="#0a14ff"/>
<circle cx="461.10" cy="64.00" r="0.90" fill="#0a14ff"/>
<circle cx="464.40" cy="64.60" r="0.80" fill="#0a14ff"/>
<circle cx="460.00" cy="66.80" r="0.90" fill="#0a14ff"/>
<circle cx="463.30" cy="68.30" r="0.80" fill="#0a14ff"/>
<circle cx="464.40" cy="73.70" r="0.80" fill="#0a14ff"/>
<circle cx="456.40" cy="72.20" r="0.90" fill="#0a14ff"/>
<circle cx="458.50" cy="72.20" r="0.90" fill="#0a14ff"/>
<circle cx="453.10" cy="74.80" r="0.90" fill="#0a14ff"/>
<circle cx="457.90" cy="75.20" r="0.90" fill="#0a14ff"/>
<circle cx="471.70" cy="33.60" r="0.90" fill="#ff0a0a"/>
<circle cx="471.70" cy="59.60" r="0.90" fill="#ff0a0a"/>
<circle cx="475.00" cy="61.40" r="0.90" fill="#ff0a0a"/>
<circle cx="483.00" cy="62.20" r="1.10" fill="#ff0a0a"/>
<circle cx="509.20" cy="61.80" r="1.30" fill="#ff0a0a"/>
<circle cx="471.30" cy="64.60" r="0.90" fill="#ff0a0a"/>
<circle cx="475.40" cy="64.40" r="0.90" fill="#ff0a0a"/>
<circle cx="472.80" cy="67.90" r="0.90" fill="#ff0a0a"/>
<circle cx="473.90" cy="67.60" r="0.90" fill="#ff0a0a"/>
<circle cx="471.70" cy="68.70" r="0.90" fill="#ff0a0a"/>
<circle cx="486.90" cy="68.30" r="1.00" fill="#ff0a0a"/>
<circle cx="470.20" cy="70.50" r="0.80" fill="#ff0a0a"/>
<circle cx="473.90" cy="73.70" r="0.90" fill="#ff0a0a"/>
<text x="526.20" y="16.50" font-size="4.6" text-anchor="start" fill="#444" stroke="#444" stroke-width="0.1">Significant</text>
<circle cx="527.50" cy="20.00" r="1.80" fill="#ff0a0a"/>
<text x="530.20" y="21.50" font-size="4.5" text-anchor="start" fill="#333" stroke="#333" stroke-width="0.1">up</text>
<circle cx="527.50" cy="26.30" r="1.75" fill="#626262"/>
<text x="530.20" y="27.80" font-size="4.5" text-anchor="start" fill="#333" stroke="#333" stroke-width="0.1">nosig</text>
<circle cx="527.50" cy="32.50" r="1.80" fill="#0a14ff"/>
<text x="530.20" y="34.00" font-size="4.5" text-anchor="start" fill="#333" stroke="#333" stroke-width="0.1">down</text>
<text x="526.20" y="82.60" font-size="4.6" text-anchor="start" fill="#333" stroke="#333" stroke-width="0.12">VIP</text>
<circle cx="527.30" cy="86.50" r="0.70" fill="#1a1a1a"/>
<text x="529.90" y="88.15" font-size="4.9" text-anchor="start" fill="#333" stroke="#333" stroke-width="0.15">1.065</text>
<circle cx="527.30" cy="92.50" r="0.95" fill="#1a1a1a"/>
<text x="529.90" y="94.15" font-size="4.9" text-anchor="start" fill="#333" stroke="#333" stroke-width="0.15">2.129</text>
<circle cx="527.30" cy="98.60" r="1.20" fill="#1a1a1a"/>
<text x="529.90" y="100.25" font-size="4.9" text-anchor="start" fill="#333" stroke="#333" stroke-width="0.15">3.194</text>
<circle cx="527.30" cy="104.80" r="1.45" fill="#1a1a1a"/>
<text x="529.90" y="106.45" font-size="4.9" text-anchor="start" fill="#333" stroke="#333" stroke-width="0.15">4.258</text>
<rect x="18.20" y="137.80" width="9.11" height="5.90" fill="#f5a89f"/>
<rect x="26.86" y="137.80" width="9.11" height="5.90" fill="#f6b2aa"/>
<rect x="35.52" y="137.80" width="9.11" height="5.90" fill="#eb5442"/>
<rect x="44.18" y="137.80" width="9.11" height="5.90" fill="#bfd6f1"/>
<rect x="52.84" y="137.80" width="9.11" height="5.90" fill="#659cdd"/>
<rect x="61.50" y="137.80" width="9.11" height="5.90" fill="#fce9e7"/>
<rect x="70.16" y="137.80" width="9.11" height="5.90" fill="#9cc0e9"/>
<rect x="78.82" y="137.80" width="8.66" height="5.90" fill="#70a3df"/>
<rect x="18.20" y="143.25" width="9.11" height="5.90" fill="#ffffff"/>
<rect x="26.86" y="143.25" width="9.11" height="5.90" fill="#f29489"/>
<rect x="35.52" y="143.25" width="9.11" height="5.90" fill="#f29489"/>
<rect x="44.18" y="143.25" width="9.11" height="5.90" fill="#f5a89f"/>
<rect x="52.84" y="143.25" width="9.11" height="5.90" fill="#659cdd"/>
<rect x="61.50" y="143.25" width="9.11" height="5.90" fill="#fce9e7"/>
<rect x="70.16" y="143.25" width="9.11" height="5.90" fill="#86b1e4"/>
<rect x="78.82" y="143.25" width="8.66" height="5.90" fill="#70a3df"/>
<rect x="18.20" y="148.70" width="9.11" height="5.90" fill="#f7bcb5"/>
<rect x="26.86" y="148.70" width="9.11" height="5.90" fill="#f5a89f"/>
<rect x="35.52" y="148.70" width="9.11" height="5.90" fill="#f5a89f"/>
<rect x="44.18" y="148.70" width="9.11" height="5.90" fill="#f6b2aa"/>
<rect x="52.84" y="148.70" width="9.11" height="5.90" fill="#9cc0e9"/>
<rect x="61.50" y="148.70" width="9.11" height="5.90" fill="#fbe1de"/>
<rect x="70.16" y="148.70" width="9.11" height="5.90" fill="#bfd6f1"/>
<rect x="78.82" y="148.70" width="8.66" height="5.90" fill="#1a6ccc"/>
<rect x="18.20" y="154.15" width="9.11" height="5.90" fill="#f5a89f"/>
<rect x="26.86" y="154.15" width="9.11" height="5.90" fill="#ffffff"/>
<rect x="35.52" y="154.15" width="9.11" height="5.90" fill="#f7bcb5"/>
<rect x="44.18" y="154.15" width="9.11" height="5.90" fill="#ed6a5a"/>
<rect x="52.84" y="154.15" width="9.11" height="5.90" fill="#86b1e4"/>
<rect x="61.50" y="154.15" width="9.11" height="5.90" fill="#fce9e7"/>
<rect x="70.16" y="154.15" width="9.11" height="5.90" fill="#70a3df"/>
<rect x="78.82" y="154.15" width="8.66" height="5.90" fill="#86b1e4"/>
<rect x="18.20" y="159.60" width="9.11" height="5.90" fill="#ed6a5a"/>
<rect x="26.86" y="159.60" width="9.11" height="5.90" fill="#fef9f8"/>
<rect x="35.52" y="159.60" width="9.11" height="5.90" fill="#f7bcb5"/>
<rect x="44.18" y="159.60" width="9.11" height="5.90" fill="#f5a89f"/>
<rect x="52.84" y="159.60" width="9.11" height="5.90" fill="#a8c7ec"/>
<rect x="61.50" y="159.60" width="9.11" height="5.90" fill="#fdf1f0"/>
<rect x="70.16" y="159.60" width="9.11" height="5.90" fill="#659cdd"/>
<rect x="78.82" y="159.60" width="8.66" height="5.90" fill="#7baae2"/>
<rect x="18.20" y="165.05" width="9.11" height="5.90" fill="#f5a89f"/>
<rect x="26.86" y="165.05" width="9.11" height="5.90" fill="#fad8d4"/>
<rect x="35.52" y="165.05" width="9.11" height="5.90" fill="#f5a89f"/>
<rect x="44.18" y="165.05" width="9.11" height="5.90" fill="#f5a89f"/>
<rect x="52.84" y="165.05" width="9.11" height="5.90" fill="#70a3df"/>
<rect x="61.50" y="165.05" width="9.11" height="5.90" fill="#fdf1f0"/>
<rect x="70.16" y="165.05" width="9.11" height="5.90" fill="#659cdd"/>
<rect x="78.82" y="165.05" width="8.66" height="5.90" fill="#a8c7ec"/>
<rect x="18.20" y="170.50" width="9.11" height="5.90" fill="#f5a89f"/>
<rect x="26.86" y="170.50" width="9.11" height="5.90" fill="#f9cfca"/>
<rect x="35.52" y="170.50" width="9.11" height="5.90" fill="#f5a89f"/>
<rect x="44.18" y="170.50" width="9.11" height="5.90" fill="#f5a89f"/>
<rect x="52.84" y="170.50" width="9.11" height="5.90" fill="#659cdd"/>
<rect x="61.50" y="170.50" width="9.11" height="5.90" fill="#fdf1f0"/>
<rect x="70.16" y="170.50" width="9.11" height="5.90" fill="#659cdd"/>
<rect x="78.82" y="170.50" width="8.66" height="5.90" fill="#a8c7ec"/>
<rect x="18.20" y="175.95" width="9.11" height="5.90" fill="#f5a89f"/>
<rect x="26.86" y="175.95" width="9.11" height="5.90" fill="#f9cfca"/>
<rect x="35.52" y="175.95" width="9.11" height="5.90" fill="#f5a89f"/>
<rect x="44.18" y="175.95" width="9.11" height="5.90" fill="#f5a89f"/>
<rect x="52.84" y="175.95" width="9.11" height="5.90" fill="#659cdd"/>
<rect x="61.50" y="175.95" width="9.11" height="5.90" fill="#fce9e7"/>
<rect x="70.16" y="175.95" width="9.11" height="5.90" fill="#70a3df"/>
<rect x="78.82" y="175.95" width="8.66" height="5.90" fill="#a8c7ec"/>
<rect x="18.20" y="181.40" width="9.11" height="5.90" fill="#f6b2aa"/>
<rect x="26.86" y="181.40" width="9.11" height="5.90" fill="#fbe1de"/>
<rect x="35.52" y="181.40" width="9.11" height="5.90" fill="#f5a89f"/>
<rect x="44.18" y="181.40" width="9.11" height="5.90" fill="#f1897d"/>
<rect x="52.84" y="181.40" width="9.11" height="5.90" fill="#86b1e4"/>
<rect x="61.50" y="181.40" width="9.11" height="5.90" fill="#ffffff"/>
<rect x="70.16" y="181.40" width="9.11" height="5.90" fill="#4f8ed8"/>
<rect x="78.82" y="181.40" width="8.66" height="5.90" fill="#a8c7ec"/>
<rect x="18.20" y="186.85" width="9.11" height="5.90" fill="#f29489"/>
<rect x="26.86" y="186.85" width="9.11" height="5.90" fill="#fbe1de"/>
<rect x="35.52" y="186.85" width="9.11" height="5.90" fill="#f5a89f"/>
<rect x="44.18" y="186.85" width="9.11" height="5.90" fill="#f29489"/>
<rect x="52.84" y="186.85" width="9.11" height="5.90" fill="#659cdd"/>
<rect x="61.50" y="186.85" width="9.11" height="5.90" fill="#fef9f8"/>
<rect x="70.16" y="186.85" width="9.11" height="5.90" fill="#4f8ed8"/>
<rect x="78.82" y="186.85" width="8.66" height="5.90" fill="#bfd6f1"/>
<rect x="18.20" y="192.30" width="9.11" height="5.90" fill="#f29489"/>
<rect x="26.86" y="192.30" width="9.11" height="5.90" fill="#ffffff"/>
<rect x="35.52" y="192.30" width="9.11" height="5.90" fill="#f8c5bf"/>
<rect x="44.18" y="192.30" width="9.11" height="5.90" fill="#f5a89f"/>
<rect x="52.84" y="192.30" width="9.11" height="5.90" fill="#659cdd"/>
<rect x="61.50" y="192.30" width="9.11" height="5.90" fill="#ffffff"/>
<rect x="70.16" y="192.30" width="9.11" height="5.90" fill="#4f8ed8"/>
<rect x="78.82" y="192.30" width="8.66" height="5.90" fill="#e3edf9"/>
<rect x="18.20" y="197.75" width="9.11" height="5.90" fill="#e83e2a"/>
<rect x="26.86" y="197.75" width="9.11" height="5.90" fill="#fdf1f0"/>
<rect x="35.52" y="197.75" width="9.11" height="5.90" fill="#fce9e7"/>
<rect x="44.18" y="197.75" width="9.11" height="5.90" fill="#f8c5bf"/>
<rect x="52.84" y="197.75" width="9.11" height="5.90" fill="#9cc0e9"/>
<rect x="61.50" y="197.75" width="9.11" height="5.90" fill="#9cc0e9"/>
<rect x="70.16" y="197.75" width="9.11" height="5.90" fill="#9cc0e9"/>
<rect x="78.82" y="197.75" width="8.66" height="5.90" fill="#cbdef3"/>
<rect x="18.20" y="203.20" width="9.11" height="5.90" fill="#f29489"/>
<rect x="26.86" y="203.20" width="9.11" height="5.90" fill="#fbe1de"/>
<rect x="35.52" y="203.20" width="9.11" height="5.90" fill="#f29489"/>
<rect x="44.18" y="203.20" width="9.11" height="5.90" fill="#f5a89f"/>
<rect x="52.84" y="203.20" width="9.11" height="5.90" fill="#86b1e4"/>
<rect x="61.50" y="203.20" width="9.11" height="5.90" fill="#3a80d3"/>
<rect x="70.16" y="203.20" width="9.11" height="5.90" fill="#b3ceee"/>
<rect x="78.82" y="203.20" width="8.66" height="5.90" fill="#bfd6f1"/>
<rect x="18.20" y="208.65" width="9.11" height="5.90" fill="#f29489"/>
<rect x="26.86" y="208.65" width="9.11" height="5.90" fill="#ffffff"/>
<rect x="35.52" y="208.65" width="9.11" height="5.90" fill="#f5a89f"/>
<rect x="44.18" y="208.65" width="9.11" height="5.90" fill="#f5a89f"/>
<rect x="52.84" y="208.65" width="9.11" height="5.90" fill="#659cdd"/>
<rect x="61.50" y="208.65" width="9.11" height="5.90" fill="#4f8ed8"/>
<rect x="70.16" y="208.65" width="9.11" height="5.90" fill="#b3ceee"/>
<rect x="78.82" y="208.65" width="8.66" height="5.90" fill="#fdf1f0"/>
<rect x="18.20" y="214.10" width="9.11" height="5.90" fill="#86b1e4"/>
<rect x="26.86" y="214.10" width="9.11" height="5.90" fill="#86b1e4"/>
<rect x="35.52" y="214.10" width="9.11" height="5.90" fill="#86b1e4"/>
<rect x="44.18" y="214.10" width="9.11" height="5.90" fill="#bfd6f1"/>
<rect x="52.84" y="214.10" width="9.11" height="5.90" fill="#f1897d"/>
<rect x="61.50" y="214.10" width="9.11" height="5.90" fill="#b3ceee"/>
<rect x="70.16" y="214.10" width="9.11" height="5.90" fill="#f29489"/>
<rect x="78.82" y="214.10" width="8.66" height="5.90" fill="#f29489"/>
<rect x="18.20" y="219.55" width="9.11" height="5.90" fill="#4f8ed8"/>
<rect x="26.86" y="219.55" width="9.11" height="5.90" fill="#7baae2"/>
<rect x="35.52" y="219.55" width="9.11" height="5.90" fill="#86b1e4"/>
<rect x="44.18" y="219.55" width="9.11" height="5.90" fill="#f7bcb5"/>
<rect x="52.84" y="219.55" width="9.11" height="5.90" fill="#f5a89f"/>
<rect x="61.50" y="219.55" width="9.11" height="5.90" fill="#fdf1f0"/>
<rect x="70.16" y="219.55" width="9.11" height="5.90" fill="#f5a89f"/>
<rect x="78.82" y="219.55" width="8.66" height="5.90" fill="#f5a89f"/>
<rect x="18.20" y="225.00" width="9.11" height="5.90" fill="#91b8e7"/>
<rect x="26.86" y="225.00" width="9.11" height="5.90" fill="#3a80d3"/>
<rect x="35.52" y="225.00" width="9.11" height="5.90" fill="#86b1e4"/>
<rect x="44.18" y="225.00" width="9.11" height="5.90" fill="#f9cfca"/>
<rect x="52.84" y="225.00" width="9.11" height="5.90" fill="#f07f72"/>
<rect x="61.50" y="225.00" width="9.11" height="5.90" fill="#f8c5bf"/>
<rect x="70.16" y="225.00" width="9.11" height="5.90" fill="#ffffff"/>
<rect x="78.82" y="225.00" width="8.66" height="5.90" fill="#f6b2aa"/>
<rect x="18.20" y="230.45" width="9.11" height="5.90" fill="#91b8e7"/>
<rect x="26.86" y="230.45" width="9.11" height="5.90" fill="#4f8ed8"/>
<rect x="35.52" y="230.45" width="9.11" height="5.90" fill="#fdf1f0"/>
<rect x="44.18" y="230.45" width="9.11" height="5.90" fill="#659cdd"/>
<rect x="52.84" y="230.45" width="9.11" height="5.90" fill="#f5a89f"/>
<rect x="61.50" y="230.45" width="9.11" height="5.90" fill="#f7bcb5"/>
<rect x="70.16" y="230.45" width="9.11" height="5.90" fill="#f8c5bf"/>
<rect x="78.82" y="230.45" width="8.66" height="5.90" fill="#f7bcb5"/>
<rect x="18.20" y="235.90" width="9.11" height="5.90" fill="#91b8e7"/>
<rect x="26.86" y="235.90" width="9.11" height="5.90" fill="#4f8ed8"/>
<rect x="35.52" y="235.90" width="9.11" height="5.90" fill="#fef9f8"/>
<rect x="44.18" y="235.90" width="9.11" height="5.90" fill="#659cdd"/>
<rect x="52.84" y="235.90" width="9.11" height="5.90" fill="#f9cfca"/>
<rect x="61.50" y="235.90" width="9.11" height="5.90" fill="#f6b2aa"/>
<rect x="70.16" y="235.90" width="9.11" height="5.90" fill="#f8c5bf"/>
<rect x="78.82" y="235.90" width="8.66" height="5.90" fill="#f6b2aa"/>
<rect x="18.20" y="241.35" width="9.11" height="5.90" fill="#659cdd"/>
<rect x="26.86" y="241.35" width="9.11" height="5.90" fill="#91b8e7"/>
<rect x="35.52" y="241.35" width="9.11" height="5.90" fill="#7baae2"/>
<rect x="44.18" y="241.35" width="9.11" height="5.90" fill="#86b1e4"/>
<rect x="52.84" y="241.35" width="9.11" height="5.90" fill="#f7bcb5"/>
<rect x="61.50" y="241.35" width="9.11" height="5.90" fill="#f6b2aa"/>
<rect x="70.16" y="241.35" width="9.11" height="5.90" fill="#f29489"/>
<rect x="78.82" y="241.35" width="8.66" height="5.90" fill="#f9cfca"/>
<rect x="18.20" y="246.80" width="9.11" height="5.90" fill="#9cc0e9"/>
<rect x="26.86" y="246.80" width="9.11" height="5.90" fill="#9cc0e9"/>
<rect x="35.52" y="246.80" width="9.11" height="5.90" fill="#86b1e4"/>
<rect x="44.18" y="246.80" width="9.11" height="5.90" fill="#86b1e4"/>
<rect x="52.84" y="246.80" width="9.11" height="5.90" fill="#f29489"/>
<rect x="61.50" y="246.80" width="9.11" height="5.90" fill="#f7bcb5"/>
<rect x="70.16" y="246.80" width="9.11" height="5.90" fill="#f7bcb5"/>
<rect x="78.82" y="246.80" width="8.66" height="5.90" fill="#fce9e7"/>
<rect x="18.20" y="252.25" width="9.11" height="5.90" fill="#86b1e4"/>
<rect x="26.86" y="252.25" width="9.11" height="5.90" fill="#ffffff"/>
<rect x="35.52" y="252.25" width="9.11" height="5.90" fill="#86b1e4"/>
<rect x="44.18" y="252.25" width="9.11" height="5.90" fill="#5a95da"/>
<rect x="52.84" y="252.25" width="9.11" height="5.90" fill="#f29489"/>
<rect x="61.50" y="252.25" width="9.11" height="5.90" fill="#f7bcb5"/>
<rect x="70.16" y="252.25" width="9.11" height="5.90" fill="#f7bcb5"/>
<rect x="78.82" y="252.25" width="8.66" height="5.90" fill="#f8c5bf"/>
<rect x="18.20" y="257.70" width="9.11" height="5.90" fill="#86b1e4"/>
<rect x="26.86" y="257.70" width="9.11" height="5.90" fill="#ffffff"/>
<rect x="35.52" y="257.70" width="9.11" height="5.90" fill="#91b8e7"/>
<rect x="44.18" y="257.70" width="9.11" height="5.90" fill="#4f8ed8"/>
<rect x="52.84" y="257.70" width="9.11" height="5.90" fill="#f29489"/>
<rect x="61.50" y="257.70" width="9.11" height="5.90" fill="#f9cfca"/>
<rect x="70.16" y="257.70" width="9.11" height="5.90" fill="#f6b2aa"/>
<rect x="78.82" y="257.70" width="8.66" height="5.90" fill="#f8c5bf"/>
<rect x="18.20" y="263.15" width="9.11" height="5.90" fill="#86b1e4"/>
<rect x="26.86" y="263.15" width="9.11" height="5.90" fill="#ffffff"/>
<rect x="35.52" y="263.15" width="9.11" height="5.90" fill="#bfd6f1"/>
<rect x="44.18" y="263.15" width="9.11" height="5.90" fill="#4587d5"/>
<rect x="52.84" y="263.15" width="9.11" height="5.90" fill="#f5a89f"/>
<rect x="61.50" y="263.15" width="9.11" height="5.90" fill="#fce9e7"/>
<rect x="70.16" y="263.15" width="9.11" height="5.90" fill="#f6b2aa"/>
<rect x="78.82" y="263.15" width="8.66" height="5.90" fill="#f6b2aa"/>
<rect x="18.20" y="268.60" width="9.11" height="5.90" fill="#86b1e4"/>
<rect x="26.86" y="268.60" width="9.11" height="5.90" fill="#ffffff"/>
<rect x="35.52" y="268.60" width="9.11" height="5.90" fill="#bfd6f1"/>
<rect x="44.18" y="268.60" width="9.11" height="5.90" fill="#4587d5"/>
<rect x="52.84" y="268.60" width="9.11" height="5.90" fill="#f5a89f"/>
<rect x="61.50" y="268.60" width="9.11" height="5.90" fill="#fad8d4"/>
<rect x="70.16" y="268.60" width="9.11" height="5.90" fill="#f6b2aa"/>
<rect x="78.82" y="268.60" width="8.66" height="5.90" fill="#f6b2aa"/>
<rect x="18.20" y="274.05" width="9.11" height="5.90" fill="#86b1e4"/>
<rect x="26.86" y="274.05" width="9.11" height="5.90" fill="#fce9e7"/>
<rect x="35.52" y="274.05" width="9.11" height="5.90" fill="#cbdef3"/>
<rect x="44.18" y="274.05" width="9.11" height="5.90" fill="#4587d5"/>
<rect x="52.84" y="274.05" width="9.11" height="5.90" fill="#ed6a5a"/>
<rect x="61.50" y="274.05" width="9.11" height="5.90" fill="#f9cfca"/>
<rect x="70.16" y="274.05" width="9.11" height="5.90" fill="#fad8d4"/>
<rect x="78.82" y="274.05" width="8.66" height="5.90" fill="#ffffff"/>
<rect x="18.20" y="279.50" width="9.11" height="5.90" fill="#659cdd"/>
<rect x="26.86" y="279.50" width="9.11" height="5.90" fill="#ffffff"/>
<rect x="35.52" y="279.50" width="9.11" height="5.90" fill="#fef9f8"/>
<rect x="44.18" y="279.50" width="9.11" height="5.90" fill="#5a95da"/>
<rect x="52.84" y="279.50" width="9.11" height="5.90" fill="#ec5f4e"/>
<rect x="61.50" y="279.50" width="9.11" height="5.90" fill="#fad8d4"/>
<rect x="70.16" y="279.50" width="9.11" height="5.90" fill="#fbe1de"/>
<rect x="78.82" y="279.50" width="8.66" height="5.90" fill="#fbe1de"/>
<rect x="18.20" y="284.95" width="9.11" height="5.90" fill="#659cdd"/>
<rect x="26.86" y="284.95" width="9.11" height="5.90" fill="#ffffff"/>
<rect x="35.52" y="284.95" width="9.11" height="5.90" fill="#fef9f8"/>
<rect x="44.18" y="284.95" width="9.11" height="5.90" fill="#4f8ed8"/>
<rect x="52.84" y="284.95" width="9.11" height="5.90" fill="#ec5f4e"/>
<rect x="61.50" y="284.95" width="9.11" height="5.90" fill="#fbe1de"/>
<rect x="70.16" y="284.95" width="9.11" height="5.90" fill="#fbe1de"/>
<rect x="78.82" y="284.95" width="8.66" height="5.90" fill="#fbe1de"/>
<rect x="18.20" y="290.40" width="9.11" height="5.90" fill="#fbe1de"/>
<rect x="26.86" y="290.40" width="9.11" height="5.90" fill="#d7e5f6"/>
<rect x="35.52" y="290.40" width="9.11" height="5.90" fill="#86b1e4"/>
<rect x="44.18" y="290.40" width="9.11" height="5.90" fill="#1a6ccc"/>
<rect x="52.84" y="290.40" width="9.11" height="5.90" fill="#f6b2aa"/>
<rect x="61.50" y="290.40" width="9.11" height="5.90" fill="#f7bcb5"/>
<rect x="70.16" y="290.40" width="9.11" height="5.90" fill="#fdf1f0"/>
<rect x="78.82" y="290.40" width="8.66" height="5.90" fill="#f9cfca"/>
<rect x="18.20" y="295.85" width="9.11" height="5.45" fill="#d7e5f6"/>
<rect x="26.86" y="295.85" width="9.11" height="5.45" fill="#e3edf9"/>
<rect x="35.52" y="295.85" width="9.11" height="5.45" fill="#70a3df"/>
<rect x="44.18" y="295.85" width="9.11" height="5.45" fill="#2f7ad1"/>
<rect x="52.84" y="295.85" width="9.11" height="5.45" fill="#f6b2aa"/>
<rect x="61.50" y="295.85" width="9.11" height="5.45" fill="#f9cfca"/>
<rect x="70.16" y="295.85" width="9.11" height="5.45" fill="#cbdef3"/>
<rect x="78.82" y="295.85" width="8.66" height="5.45" fill="#ed6a5a"/>
<text x="23.53" y="303.70" font-size="3.6" text-anchor="end" fill="#555" stroke="#555" stroke-width="0.12" transform="rotate(-45 23.53 303.70)">J151</text>
<text x="32.19" y="303.70" font-size="3.6" text-anchor="end" fill="#555" stroke="#555" stroke-width="0.12" transform="rotate(-45 32.19 303.70)">J152</text>
<text x="40.85" y="303.70" font-size="3.6" text-anchor="end" fill="#555" stroke="#555" stroke-width="0.12" transform="rotate(-45 40.85 303.70)">J153</text>
<text x="49.51" y="303.70" font-size="3.6" text-anchor="end" fill="#555" stroke="#555" stroke-width="0.12" transform="rotate(-45 49.51 303.70)">J154</text>
<text x="58.17" y="303.70" font-size="3.6" text-anchor="end" fill="#555" stroke="#555" stroke-width="0.12" transform="rotate(-45 58.17 303.70)">J201</text>
<text x="66.83" y="303.70" font-size="3.6" text-anchor="end" fill="#555" stroke="#555" stroke-width="0.12" transform="rotate(-45 66.83 303.70)">J202</text>
<text x="75.49" y="303.70" font-size="3.6" text-anchor="end" fill="#555" stroke="#555" stroke-width="0.12" transform="rotate(-45 75.49 303.70)">J203</text>
<text x="84.15" y="303.70" font-size="3.6" text-anchor="end" fill="#555" stroke="#555" stroke-width="0.12" transform="rotate(-45 84.15 303.70)">J204</text>
<path d="M14.20,145.98H12.93V151.43H14.20" fill="none" stroke="#9a9a9a" stroke-width="0.32"/>
<path d="M12.93,148.70H12.35V156.88H14.20" fill="none" stroke="#9a9a9a" stroke-width="0.32"/>
<path d="M14.20,140.53H11.72V152.79H12.35" fill="none" stroke="#9a9a9a" stroke-width="0.32"/>
<path d="M14.20,167.78H12.86V173.23H14.20" fill="none" stroke="#9a9a9a" stroke-width="0.32"/>
<path d="M14.20,162.33H11.72V170.50H12.86" fill="none" stroke="#9a9a9a" stroke-width="0.32"/>
<path d="M11.72,146.66H10.02V166.41H11.72" fill="none" stroke="#9a9a9a" stroke-width="0.32"/>
<path d="M14.20,178.68H12.67V184.12H14.20" fill="none" stroke="#9a9a9a" stroke-width="0.32"/>
<path d="M12.67,181.40H11.73V189.58H14.20" fill="none" stroke="#9a9a9a" stroke-width="0.32"/>
<path d="M14.20,200.48H13.27V205.93H14.20" fill="none" stroke="#9a9a9a" stroke-width="0.32"/>
<path d="M13.27,203.20H12.82V211.38H14.20" fill="none" stroke="#9a9a9a" stroke-width="0.32"/>
<path d="M14.20,195.03H11.73V207.29H12.82" fill="none" stroke="#9a9a9a" stroke-width="0.32"/>
<path d="M11.73,185.49H10.02V201.16H11.73" fill="none" stroke="#9a9a9a" stroke-width="0.32"/>
<path d="M10.02,156.53H7.85V193.32H10.02" fill="none" stroke="#9a9a9a" stroke-width="0.32"/>
<path d="M14.20,216.83H13.34V222.28H14.20" fill="none" stroke="#9a9a9a" stroke-width="0.32"/>
<path d="M13.34,219.55H12.85V227.73H14.20" fill="none" stroke="#9a9a9a" stroke-width="0.32"/>
<path d="M14.20,233.18H12.85V238.62H14.20" fill="none" stroke="#9a9a9a" stroke-width="0.32"/>
<path d="M12.85,223.64H12.13V235.90H12.85" fill="none" stroke="#9a9a9a" stroke-width="0.32"/>
<path d="M14.20,249.53H13.15V254.98H14.20" fill="none" stroke="#9a9a9a" stroke-width="0.32"/>
<path d="M14.20,244.08H12.13V252.25H13.15" fill="none" stroke="#9a9a9a" stroke-width="0.32"/>
<path d="M12.13,229.77H10.58V248.16H12.13" fill="none" stroke="#9a9a9a" stroke-width="0.32"/>
<path d="M14.20,265.88H12.70V271.33H14.20" fill="none" stroke="#9a9a9a" stroke-width="0.32"/>
<path d="M14.20,260.43H11.94V268.60H12.70" fill="none" stroke="#9a9a9a" stroke-width="0.32"/>
<path d="M14.20,276.77H13.50V282.23H14.20" fill="none" stroke="#9a9a9a" stroke-width="0.32"/>
<path d="M13.50,279.50H12.89V287.68H14.20" fill="none" stroke="#9a9a9a" stroke-width="0.32"/>
<path d="M14.20,293.12H12.89V298.58H14.20" fill="none" stroke="#9a9a9a" stroke-width="0.32"/>
<path d="M12.89,283.59H11.94V295.85H12.89" fill="none" stroke="#9a9a9a" stroke-width="0.32"/>
<path d="M11.94,264.51H10.58V289.72H11.94" fill="none" stroke="#9a9a9a" stroke-width="0.32"/>
<path d="M10.58,238.97H7.85V277.12H10.58" fill="none" stroke="#9a9a9a" stroke-width="0.32"/>
<path d="M7.85,174.93H5.00V258.04H7.85" fill="none" stroke="#9a9a9a" stroke-width="0.32"/>
<text x="5.20" y="134.30" font-size="5.6" text-anchor="middle" fill="#111" stroke="#111" stroke-width="0.18" font-weight="bold">D</text>
<text x="91.90" y="134.80" font-size="4.7" text-anchor="start" fill="#222" stroke="#222" stroke-width="0.15">VIP</text>
<text x="89.00" y="141.93" font-size="3.95" text-anchor="start" fill="#2a2a2a" stroke="#2a2a2a" stroke-width="0.12">TG(18:1/18:2/26:1)</text>
<rect x="135.00" y="138.89" width="0.50" height="3.27" fill="#6fa2f7"/>
<text x="137.70" y="141.83" font-size="3.0" text-anchor="start" fill="#f28a8a">*</text>
<text x="89.00" y="147.38" font-size="3.95" text-anchor="start" fill="#2a2a2a" stroke="#2a2a2a" stroke-width="0.12">TG(18:1/18:2/22:1)</text>
<rect x="135.00" y="144.34" width="10.90" height="3.27" fill="#689ef7"/>
<text x="148.10" y="147.28" font-size="3.0" text-anchor="start" fill="#f28a8a">*</text>
<text x="89.00" y="152.83" font-size="3.95" text-anchor="start" fill="#2a2a2a" stroke="#2a2a2a" stroke-width="0.12">TG(18:1/18:1/23:1)</text>
<rect x="135.00" y="149.79" width="6.90" height="3.27" fill="#6fa2f7"/>
<text x="144.10" y="152.73" font-size="3.0" text-anchor="start" fill="#f28a8a">*</text>
<text x="89.00" y="158.28" font-size="3.95" text-anchor="start" fill="#2a2a2a" stroke="#2a2a2a" stroke-width="0.12">PE(20:4e/17:1)</text>
<rect x="135.00" y="155.24" width="4.90" height="3.27" fill="#6fa2f7"/>
<text x="142.10" y="158.18" font-size="3.0" text-anchor="start" fill="#f28a8a">*</text>
<text x="89.00" y="163.73" font-size="3.95" text-anchor="start" fill="#2a2a2a" stroke="#2a2a2a" stroke-width="0.12">PE(16:0/18:2)</text>
<rect x="135.00" y="160.69" width="2.70" height="3.27" fill="#6fa2f7"/>
<text x="139.90" y="163.63" font-size="3.0" text-anchor="start" fill="#f28a8a">*</text>
<text x="89.00" y="169.18" font-size="3.95" text-anchor="start" fill="#2a2a2a" stroke="#2a2a2a" stroke-width="0.12">PE(16:1/18:2)</text>
<rect x="135.00" y="166.14" width="8.70" height="3.27" fill="#689ef7"/>
<text x="145.90" y="169.08" font-size="3.0" text-anchor="start" fill="#f28a8a">*</text>
<text x="89.00" y="174.63" font-size="3.95" text-anchor="start" fill="#2a2a2a" stroke="#2a2a2a" stroke-width="0.12">PS(18:2/20:4)</text>
<rect x="135.00" y="171.59" width="11.50" height="3.27" fill="#629af7"/>
<text x="148.70" y="174.53" font-size="3.0" text-anchor="start" fill="#f28a8a">*</text>
<text x="89.00" y="180.08" font-size="3.95" text-anchor="start" fill="#2a2a2a" stroke="#2a2a2a" stroke-width="0.12">PE(16:2/18:2)</text>
<rect x="135.00" y="177.04" width="11.80" height="3.27" fill="#629af7"/>
<text x="149.00" y="179.98" font-size="3.0" text-anchor="start" fill="#f28a8a">*</text>
<text x="89.00" y="185.53" font-size="3.95" text-anchor="start" fill="#2a2a2a" stroke="#2a2a2a" stroke-width="0.12">PE(18:1/18:1)</text>
<rect x="135.00" y="182.49" width="5.50" height="3.27" fill="#6fa2f7"/>
<text x="142.70" y="185.43" font-size="3.0" text-anchor="start" fill="#f28a8a">*</text>
<text x="89.00" y="190.98" font-size="3.95" text-anchor="start" fill="#2a2a2a" stroke="#2a2a2a" stroke-width="0.12">PS(18:2/18:2)</text>
<rect x="135.00" y="187.94" width="8.20" height="3.27" fill="#689ef7"/>
<text x="145.40" y="190.88" font-size="3.0" text-anchor="start" fill="#f28a8a">*</text>
<text x="89.00" y="196.43" font-size="3.95" text-anchor="start" fill="#2a2a2a" stroke="#2a2a2a" stroke-width="0.12">PE(16:0/18:1)</text>
<rect x="135.00" y="193.39" width="4.50" height="3.27" fill="#6fa2f7"/>
<text x="141.70" y="196.33" font-size="3.0" text-anchor="start" fill="#f28a8a">*</text>
<text x="89.00" y="201.88" font-size="3.95" text-anchor="start" fill="#2a2a2a" stroke="#2a2a2a" stroke-width="0.12">TG(18:1/11:2/22:6)</text>
<rect x="135.00" y="198.84" width="6.70" height="3.27" fill="#689ef7"/>
<text x="143.90" y="201.78" font-size="3.0" text-anchor="start" fill="#f28a8a">*</text>
<text x="89.00" y="207.33" font-size="3.95" text-anchor="start" fill="#2a2a2a" stroke="#2a2a2a" stroke-width="0.12">TG(18:1/14:1/18:2)</text>
<rect x="135.00" y="204.29" width="17.80" height="3.27" fill="#3b84f6"/>
<text x="155.00" y="207.23" font-size="3.0" text-anchor="start" fill="#f28a8a">*</text>
<text x="89.00" y="212.78" font-size="3.95" text-anchor="start" fill="#2a2a2a" stroke="#2a2a2a" stroke-width="0.12">TG(14:0/16:1/18:2)</text>
<rect x="135.00" y="209.74" width="4.00" height="3.27" fill="#6fa2f7"/>
<text x="141.20" y="212.68" font-size="3.0" text-anchor="start" fill="#f28a8a">*</text>
<text x="89.00" y="218.23" font-size="3.95" text-anchor="start" fill="#2a2a2a" stroke="#2a2a2a" stroke-width="0.12">TG(20:1/18:1/18:2)</text>
<rect x="135.00" y="215.19" width="19.00" height="3.27" fill="#5593f6"/>
<text x="156.20" y="218.13" font-size="3.0" text-anchor="start" fill="#f28a8a">*</text>
<text x="89.00" y="223.68" font-size="3.95" text-anchor="start" fill="#2a2a2a" stroke="#2a2a2a" stroke-width="0.12">TG(26:1/18:1/18:2)</text>
<rect x="135.00" y="220.64" width="3.00" height="3.27" fill="#6fa2f7"/>
<text x="140.20" y="223.58" font-size="3.0" text-anchor="start" fill="#f28a8a">*</text>
<text x="89.00" y="229.13" font-size="3.95" text-anchor="start" fill="#2a2a2a" stroke="#2a2a2a" stroke-width="0.12">PC(20:3/18:2)</text>
<rect x="135.00" y="226.09" width="0.50" height="3.27" fill="#6fa2f7"/>
<text x="137.70" y="229.03" font-size="3.0" text-anchor="start" fill="#f28a8a">*</text>
<text x="89.00" y="234.58" font-size="3.95" text-anchor="start" fill="#2a2a2a" stroke="#2a2a2a" stroke-width="0.12">DG(20:1/6:0)</text>
<rect x="135.00" y="231.54" width="11.80" height="3.27" fill="#629af7"/>
<text x="149.00" y="234.48" font-size="3.0" text-anchor="start" fill="#f28a8a">*</text>
<text x="89.00" y="240.03" font-size="3.95" text-anchor="start" fill="#2a2a2a" stroke="#2a2a2a" stroke-width="0.12">TG(14:2e/6:0/18:2)</text>
<rect x="135.00" y="236.99" width="10.40" height="3.27" fill="#689ef7"/>
<text x="147.60" y="239.93" font-size="3.0" text-anchor="start" fill="#f28a8a">*</text>
<text x="89.00" y="245.48" font-size="3.95" text-anchor="start" fill="#2a2a2a" stroke="#2a2a2a" stroke-width="0.12">Cer(d16:0/18:0+O)</text>
<rect x="135.00" y="242.44" width="12.70" height="3.27" fill="#2879f5"/>
<text x="149.90" y="245.38" font-size="3.0" text-anchor="start" fill="#f28a8a">*</text>
<text x="89.00" y="250.93" font-size="3.95" text-anchor="start" fill="#2a2a2a" stroke="#2a2a2a" stroke-width="0.12">Hex1Cer(d19:2/18:2)</text>
<rect x="135.00" y="247.89" width="20.90" height="3.27" fill="#4e8ff6"/>
<text x="158.10" y="250.83" font-size="3.0" text-anchor="start" fill="#f28a8a">*</text>
<text x="89.00" y="256.38" font-size="3.95" text-anchor="start" fill="#2a2a2a" stroke="#2a2a2a" stroke-width="0.12">Hex1Cer(d19:2/18:1+O)</text>
<rect x="135.00" y="253.34" width="18.70" height="3.27" fill="#5593f6"/>
<text x="155.90" y="256.28" font-size="3.0" text-anchor="start" fill="#f28a8a">*</text>
<text x="89.00" y="261.82" font-size="3.95" text-anchor="start" fill="#2a2a2a" stroke="#2a2a2a" stroke-width="0.12">Hex1Cer(d16:0/21:3)</text>
<rect x="135.00" y="258.79" width="16.40" height="3.27" fill="#5c97f7"/>
<text x="153.60" y="261.73" font-size="3.0" text-anchor="start" fill="#f28a8a">*</text>
<text x="89.00" y="267.27" font-size="3.95" text-anchor="start" fill="#2a2a2a" stroke="#2a2a2a" stroke-width="0.12">Cer(d19:1/18:2+O)</text>
<rect x="135.00" y="264.24" width="7.80" height="3.27" fill="#6fa2f7"/>
<text x="145.00" y="267.18" font-size="3.0" text-anchor="start" fill="#f28a8a">*</text>
<text x="89.00" y="272.73" font-size="3.95" text-anchor="start" fill="#2a2a2a" stroke="#2a2a2a" stroke-width="0.12">Cer(d17:1/20:2)</text>
<rect x="135.00" y="269.69" width="7.80" height="3.27" fill="#6fa2f7"/>
<text x="145.00" y="272.63" font-size="3.0" text-anchor="start" fill="#f28a8a">*</text>
<text x="89.00" y="278.17" font-size="3.95" text-anchor="start" fill="#2a2a2a" stroke="#2a2a2a" stroke-width="0.12">TG(16:0/11:3/22:6)</text>
<rect x="135.00" y="275.14" width="7.80" height="3.27" fill="#6fa2f7"/>
<text x="145.00" y="278.07" font-size="3.0" text-anchor="start" fill="#f28a8a">*</text>
<text x="89.00" y="283.62" font-size="3.95" text-anchor="start" fill="#2a2a2a" stroke="#2a2a2a" stroke-width="0.12">DG(18:0/18:3)</text>
<rect x="135.00" y="280.59" width="3.00" height="3.27" fill="#6fa2f7"/>
<text x="140.20" y="283.53" font-size="3.0" text-anchor="start" fill="#f28a8a">*</text>
<text x="89.00" y="289.07" font-size="3.95" text-anchor="start" fill="#2a2a2a" stroke="#2a2a2a" stroke-width="0.12">TG(12:0e/6:0/18:3)</text>
<rect x="135.00" y="286.04" width="1.80" height="3.27" fill="#6fa2f7"/>
<text x="139.00" y="288.98" font-size="3.0" text-anchor="start" fill="#f28a8a">*</text>
<text x="89.00" y="294.52" font-size="3.95" text-anchor="start" fill="#2a2a2a" stroke="#2a2a2a" stroke-width="0.12">TG(18:1/18:1/18:3)</text>
<rect x="135.00" y="291.49" width="9.00" height="3.27" fill="#689ef7"/>
<text x="146.20" y="294.43" font-size="3.0" text-anchor="start" fill="#f28a8a">*</text>
<text x="89.00" y="299.98" font-size="3.95" text-anchor="start" fill="#2a2a2a" stroke="#2a2a2a" stroke-width="0.12">Cer(d20:2/16:0)</text>
<rect x="135.00" y="296.94" width="2.70" height="3.27" fill="#6fa2f7"/>
<text x="139.90" y="299.88" font-size="3.0" text-anchor="start" fill="#f28a8a">*</text>
<line x1="134.80" y1="301.20" x2="160.20" y2="301.20" stroke="#b8b8b8" stroke-width="0.4"/>
<text x="134.80" y="305.20" font-size="3.8" text-anchor="middle" fill="#2b2b2b" stroke="#2b2b2b" stroke-width="0.18">2</text>
<text x="139.88" y="305.20" font-size="3.8" text-anchor="middle" fill="#2b2b2b" stroke="#2b2b2b" stroke-width="0.18">2.5</text>
<text x="144.96" y="305.20" font-size="3.8" text-anchor="middle" fill="#2b2b2b" stroke="#2b2b2b" stroke-width="0.18">3</text>
<text x="150.04" y="305.20" font-size="3.8" text-anchor="middle" fill="#2b2b2b" stroke="#2b2b2b" stroke-width="0.18">3.5</text>
<text x="155.12" y="305.20" font-size="3.8" text-anchor="middle" fill="#2b2b2b" stroke="#2b2b2b" stroke-width="0.18">4</text>
<text x="160.20" y="305.20" font-size="3.8" text-anchor="middle" fill="#2b2b2b" stroke="#2b2b2b" stroke-width="0.18">4.5</text>
<text x="147.50" y="309.20" font-size="4.0" text-anchor="middle" fill="#2b2b2b" stroke="#2b2b2b" stroke-width="0.18">VIP</text>
<linearGradient id="cD" x1="0" y1="0" x2="0" y2="1"><stop offset="0" stop-color="#e83e2a"/><stop offset="0.5" stop-color="#ffffff"/><stop offset="1" stop-color="#1a6ccc"/></linearGradient>
<rect x="157.50" y="138.60" width="3.60" height="18.60" fill="url(#cD)"/>
<text x="162.50" y="139.60" font-size="3.2" text-anchor="middle" fill="#444" stroke="#444" stroke-width="0.06" transform="rotate(90 162.50 139.60)">2</text>
<text x="162.50" y="143.75" font-size="3.2" text-anchor="middle" fill="#444" stroke="#444" stroke-width="0.06" transform="rotate(90 162.50 143.75)">1</text>
<text x="162.50" y="147.90" font-size="3.2" text-anchor="middle" fill="#444" stroke="#444" stroke-width="0.06" transform="rotate(90 162.50 147.90)">0</text>
<text x="162.50" y="152.05" font-size="3.2" text-anchor="middle" fill="#444" stroke="#444" stroke-width="0.06" transform="rotate(90 162.50 152.05)">-1</text>
<text x="162.50" y="156.20" font-size="3.2" text-anchor="middle" fill="#444" stroke="#444" stroke-width="0.06" transform="rotate(90 162.50 156.20)">-2</text>
<linearGradient id="vD" x1="0" y1="0" x2="0" y2="1"><stop offset="0" stop-color="#146ef5"/><stop offset="1" stop-color="#96b8f8"/></linearGradient>
<rect x="157.50" y="166.20" width="3.40" height="18.60" fill="url(#vD)"/>
<text x="162.50" y="167.20" font-size="3.2" text-anchor="middle" fill="#444" stroke="#444" stroke-width="0.06" transform="rotate(90 162.50 167.20)">5</text>
<text x="162.50" y="171.35" font-size="3.2" text-anchor="middle" fill="#444" stroke="#444" stroke-width="0.06" transform="rotate(90 162.50 171.35)">4</text>
<text x="162.50" y="175.50" font-size="3.2" text-anchor="middle" fill="#444" stroke="#444" stroke-width="0.06" transform="rotate(90 162.50 175.50)">3</text>
<text x="162.50" y="179.65" font-size="3.2" text-anchor="middle" fill="#444" stroke="#444" stroke-width="0.06" transform="rotate(90 162.50 179.65)">2</text>
<text x="162.50" y="183.80" font-size="3.2" text-anchor="middle" fill="#444" stroke="#444" stroke-width="0.06" transform="rotate(90 162.50 183.80)">1</text>
<rect x="214.00" y="142.80" width="8.54" height="5.58" fill="#86b1e4"/>
<rect x="222.09" y="142.80" width="8.54" height="5.58" fill="#5a95da"/>
<rect x="230.18" y="142.80" width="8.54" height="5.58" fill="#ffffff"/>
<rect x="238.27" y="142.80" width="8.54" height="5.58" fill="#659cdd"/>
<rect x="246.36" y="142.80" width="8.54" height="5.58" fill="#fbe1de"/>
<rect x="254.45" y="142.80" width="8.54" height="5.58" fill="#f07f72"/>
<rect x="262.54" y="142.80" width="8.54" height="5.58" fill="#fbe1de"/>
<rect x="270.63" y="142.80" width="8.09" height="5.58" fill="#fbe1de"/>
<rect x="214.00" y="147.93" width="8.54" height="5.58" fill="#86b1e4"/>
<rect x="222.09" y="147.93" width="8.54" height="5.58" fill="#5a95da"/>
<rect x="230.18" y="147.93" width="8.54" height="5.58" fill="#fce9e7"/>
<rect x="238.27" y="147.93" width="8.54" height="5.58" fill="#659cdd"/>
<rect x="246.36" y="147.93" width="8.54" height="5.58" fill="#fbe1de"/>
<rect x="254.45" y="147.93" width="8.54" height="5.58" fill="#f29489"/>
<rect x="262.54" y="147.93" width="8.54" height="5.58" fill="#fbe1de"/>
<rect x="270.63" y="147.93" width="8.09" height="5.58" fill="#fad8d4"/>
<rect x="214.00" y="153.06" width="8.54" height="5.58" fill="#3a80d3"/>
<rect x="222.09" y="153.06" width="8.54" height="5.58" fill="#ffffff"/>
<rect x="230.18" y="153.06" width="8.54" height="5.58" fill="#91b8e7"/>
<rect x="238.27" y="153.06" width="8.54" height="5.58" fill="#70a3df"/>
<rect x="246.36" y="153.06" width="8.54" height="5.58" fill="#d7e5f6"/>
<rect x="254.45" y="153.06" width="8.54" height="5.58" fill="#f07f72"/>
<rect x="262.54" y="153.06" width="8.54" height="5.58" fill="#f9cfca"/>
<rect x="270.63" y="153.06" width="8.09" height="5.58" fill="#f9cfca"/>
<rect x="214.00" y="158.19" width="8.54" height="5.58" fill="#7baae2"/>
<rect x="222.09" y="158.19" width="8.54" height="5.58" fill="#d7e5f6"/>
<rect x="230.18" y="158.19" width="8.54" height="5.58" fill="#cbdef3"/>
<rect x="238.27" y="158.19" width="8.54" height="5.58" fill="#3a80d3"/>
<rect x="246.36" y="158.19" width="8.54" height="5.58" fill="#ffffff"/>
<rect x="254.45" y="158.19" width="8.54" height="5.58" fill="#f1897d"/>
<rect x="262.54" y="158.19" width="8.54" height="5.58" fill="#f7bcb5"/>
<rect x="270.63" y="158.19" width="8.09" height="5.58" fill="#fce9e7"/>
<rect x="214.00" y="163.32" width="8.54" height="5.58" fill="#7baae2"/>
<rect x="222.09" y="163.32" width="8.54" height="5.58" fill="#d7e5f6"/>
<rect x="230.18" y="163.32" width="8.54" height="5.58" fill="#b3ceee"/>
<rect x="238.27" y="163.32" width="8.54" height="5.58" fill="#3a80d3"/>
<rect x="246.36" y="163.32" width="8.54" height="5.58" fill="#fad8d4"/>
<rect x="254.45" y="163.32" width="8.54" height="5.58" fill="#f39e94"/>
<rect x="262.54" y="163.32" width="8.54" height="5.58" fill="#f5a89f"/>
<rect x="270.63" y="163.32" width="8.09" height="5.58" fill="#fce9e7"/>
<rect x="214.00" y="168.45" width="8.54" height="5.58" fill="#70a3df"/>
<rect x="222.09" y="168.45" width="8.54" height="5.58" fill="#d7e5f6"/>
<rect x="230.18" y="168.45" width="8.54" height="5.58" fill="#a8c7ec"/>
<rect x="238.27" y="168.45" width="8.54" height="5.58" fill="#3a80d3"/>
<rect x="246.36" y="168.45" width="8.54" height="5.58" fill="#fbe1de"/>
<rect x="254.45" y="168.45" width="8.54" height="5.58" fill="#f5a89f"/>
<rect x="262.54" y="168.45" width="8.54" height="5.58" fill="#f6b2aa"/>
<rect x="270.63" y="168.45" width="8.09" height="5.58" fill="#fce9e7"/>
<rect x="214.00" y="173.58" width="8.54" height="5.58" fill="#7baae2"/>
<rect x="222.09" y="173.58" width="8.54" height="5.58" fill="#fef9f8"/>
<rect x="230.18" y="173.58" width="8.54" height="5.58" fill="#9cc0e9"/>
<rect x="238.27" y="173.58" width="8.54" height="5.58" fill="#4587d5"/>
<rect x="246.36" y="173.58" width="8.54" height="5.58" fill="#fbe1de"/>
<rect x="254.45" y="173.58" width="8.54" height="5.58" fill="#f5a89f"/>
<rect x="262.54" y="173.58" width="8.54" height="5.58" fill="#f8c5bf"/>
<rect x="270.63" y="173.58" width="8.09" height="5.58" fill="#ffffff"/>
<rect x="214.00" y="178.71" width="8.54" height="5.58" fill="#7baae2"/>
<rect x="222.09" y="178.71" width="8.54" height="5.58" fill="#ffffff"/>
<rect x="230.18" y="178.71" width="8.54" height="5.58" fill="#9cc0e9"/>
<rect x="238.27" y="178.71" width="8.54" height="5.58" fill="#4587d5"/>
<rect x="246.36" y="178.71" width="8.54" height="5.58" fill="#fce9e7"/>
<rect x="254.45" y="178.71" width="8.54" height="5.58" fill="#f39e94"/>
<rect x="262.54" y="178.71" width="8.54" height="5.58" fill="#f9cfca"/>
<rect x="270.63" y="178.71" width="8.09" height="5.58" fill="#fce9e7"/>
<rect x="214.00" y="183.84" width="8.54" height="5.58" fill="#7baae2"/>
<rect x="222.09" y="183.84" width="8.54" height="5.58" fill="#ffffff"/>
<rect x="230.18" y="183.84" width="8.54" height="5.58" fill="#9cc0e9"/>
<rect x="238.27" y="183.84" width="8.54" height="5.58" fill="#4587d5"/>
<rect x="246.36" y="183.84" width="8.54" height="5.58" fill="#fce9e7"/>
<rect x="254.45" y="183.84" width="8.54" height="5.58" fill="#f39e94"/>
<rect x="262.54" y="183.84" width="8.54" height="5.58" fill="#fad8d4"/>
<rect x="270.63" y="183.84" width="8.09" height="5.58" fill="#fce9e7"/>
<rect x="214.00" y="188.97" width="8.54" height="5.58" fill="#5a95da"/>
<rect x="222.09" y="188.97" width="8.54" height="5.58" fill="#e3edf9"/>
<rect x="230.18" y="188.97" width="8.54" height="5.58" fill="#b3ceee"/>
<rect x="238.27" y="188.97" width="8.54" height="5.58" fill="#4f8ed8"/>
<rect x="246.36" y="188.97" width="8.54" height="5.58" fill="#f29489"/>
<rect x="254.45" y="188.97" width="8.54" height="5.58" fill="#fef5f4"/>
<rect x="262.54" y="188.97" width="8.54" height="5.58" fill="#f9cfca"/>
<rect x="270.63" y="188.97" width="8.09" height="5.58" fill="#fce9e7"/>
<rect x="214.00" y="194.10" width="8.54" height="5.58" fill="#70a3df"/>
<rect x="222.09" y="194.10" width="8.54" height="5.58" fill="#91b8e7"/>
<rect x="230.18" y="194.10" width="8.54" height="5.58" fill="#86b1e4"/>
<rect x="238.27" y="194.10" width="8.54" height="5.58" fill="#7baae2"/>
<rect x="246.36" y="194.10" width="8.54" height="5.58" fill="#f8c5bf"/>
<rect x="254.45" y="194.10" width="8.54" height="5.58" fill="#f8c5bf"/>
<rect x="262.54" y="194.10" width="8.54" height="5.58" fill="#f8c5bf"/>
<rect x="270.63" y="194.10" width="8.09" height="5.58" fill="#fad8d4"/>
<rect x="214.00" y="199.23" width="8.54" height="5.58" fill="#7baae2"/>
<rect x="222.09" y="199.23" width="8.54" height="5.58" fill="#d7e5f6"/>
<rect x="230.18" y="199.23" width="8.54" height="5.58" fill="#86b1e4"/>
<rect x="238.27" y="199.23" width="8.54" height="5.58" fill="#4f8ed8"/>
<rect x="246.36" y="199.23" width="8.54" height="5.58" fill="#f8c5bf"/>
<rect x="254.45" y="199.23" width="8.54" height="5.58" fill="#f8c5bf"/>
<rect x="262.54" y="199.23" width="8.54" height="5.58" fill="#f7bcb5"/>
<rect x="270.63" y="199.23" width="8.09" height="5.58" fill="#fbe1de"/>
<rect x="214.00" y="204.36" width="8.54" height="5.58" fill="#7baae2"/>
<rect x="222.09" y="204.36" width="8.54" height="5.58" fill="#bfd6f1"/>
<rect x="230.18" y="204.36" width="8.54" height="5.58" fill="#86b1e4"/>
<rect x="238.27" y="204.36" width="8.54" height="5.58" fill="#4f8ed8"/>
<rect x="246.36" y="204.36" width="8.54" height="5.58" fill="#f8c5bf"/>
<rect x="254.45" y="204.36" width="8.54" height="5.58" fill="#f5a89f"/>
<rect x="262.54" y="204.36" width="8.54" height="5.58" fill="#f7bcb5"/>
<rect x="270.63" y="204.36" width="8.09" height="5.58" fill="#fbe1de"/>
<rect x="214.00" y="209.49" width="8.54" height="5.58" fill="#7baae2"/>
<rect x="222.09" y="209.49" width="8.54" height="5.58" fill="#9cc0e9"/>
<rect x="230.18" y="209.49" width="8.54" height="5.58" fill="#86b1e4"/>
<rect x="238.27" y="209.49" width="8.54" height="5.58" fill="#659cdd"/>
<rect x="246.36" y="209.49" width="8.54" height="5.58" fill="#fce9e7"/>
<rect x="254.45" y="209.49" width="8.54" height="5.58" fill="#f29489"/>
<rect x="262.54" y="209.49" width="8.54" height="5.58" fill="#f8c5bf"/>
<rect x="270.63" y="209.49" width="8.09" height="5.58" fill="#fbe1de"/>
<rect x="214.00" y="214.62" width="8.54" height="5.58" fill="#7baae2"/>
<rect x="222.09" y="214.62" width="8.54" height="5.58" fill="#86b1e4"/>
<rect x="230.18" y="214.62" width="8.54" height="5.58" fill="#7baae2"/>
<rect x="238.27" y="214.62" width="8.54" height="5.58" fill="#4f8ed8"/>
<rect x="246.36" y="214.62" width="8.54" height="5.58" fill="#f8c5bf"/>
<rect x="254.45" y="214.62" width="8.54" height="5.58" fill="#f8c5bf"/>
<rect x="262.54" y="214.62" width="8.54" height="5.58" fill="#f8c5bf"/>
<rect x="270.63" y="214.62" width="8.09" height="5.58" fill="#fad8d4"/>
<rect x="214.00" y="219.75" width="8.54" height="5.58" fill="#4f8ed8"/>
<rect x="222.09" y="219.75" width="8.54" height="5.58" fill="#86b1e4"/>
<rect x="230.18" y="219.75" width="8.54" height="5.58" fill="#659cdd"/>
<rect x="238.27" y="219.75" width="8.54" height="5.58" fill="#ffffff"/>
<rect x="246.36" y="219.75" width="8.54" height="5.58" fill="#f9cfca"/>
<rect x="254.45" y="219.75" width="8.54" height="5.58" fill="#f9cfca"/>
<rect x="262.54" y="219.75" width="8.54" height="5.58" fill="#f9cfca"/>
<rect x="270.63" y="219.75" width="8.09" height="5.58" fill="#fbe1de"/>
<rect x="214.00" y="224.88" width="8.54" height="5.58" fill="#fdf1f0"/>
<rect x="222.09" y="224.88" width="8.54" height="5.58" fill="#9cc0e9"/>
<rect x="230.18" y="224.88" width="8.54" height="5.58" fill="#5a95da"/>
<rect x="238.27" y="224.88" width="8.54" height="5.58" fill="#70a3df"/>
<rect x="246.36" y="224.88" width="8.54" height="5.58" fill="#fbe1de"/>
<rect x="254.45" y="224.88" width="8.54" height="5.58" fill="#fbe1de"/>
<rect x="262.54" y="224.88" width="8.54" height="5.58" fill="#f29489"/>
<rect x="270.63" y="224.88" width="8.09" height="5.58" fill="#f0f6fc"/>
<rect x="214.00" y="230.01" width="8.54" height="5.58" fill="#f0f6fc"/>
<rect x="222.09" y="230.01" width="8.54" height="5.58" fill="#3a80d3"/>
<rect x="230.18" y="230.01" width="8.54" height="5.58" fill="#9cc0e9"/>
<rect x="238.27" y="230.01" width="8.54" height="5.58" fill="#b3ceee"/>
<rect x="246.36" y="230.01" width="8.54" height="5.58" fill="#f5a89f"/>
<rect x="254.45" y="230.01" width="8.54" height="5.58" fill="#fce9e7"/>
<rect x="262.54" y="230.01" width="8.54" height="5.58" fill="#f39e94"/>
<rect x="270.63" y="230.01" width="8.09" height="5.58" fill="#e3edf9"/>
<rect x="214.00" y="235.14" width="8.54" height="5.58" fill="#f5a89f"/>
<rect x="222.09" y="235.14" width="8.54" height="5.58" fill="#a8c7ec"/>
<rect x="230.18" y="235.14" width="8.54" height="5.58" fill="#fad8d4"/>
<rect x="238.27" y="235.14" width="8.54" height="5.58" fill="#ed6a5a"/>
<rect x="246.36" y="235.14" width="8.54" height="5.58" fill="#7baae2"/>
<rect x="254.45" y="235.14" width="8.54" height="5.58" fill="#659cdd"/>
<rect x="262.54" y="235.14" width="8.54" height="5.58" fill="#bfd6f1"/>
<rect x="270.63" y="235.14" width="8.09" height="5.58" fill="#b3ceee"/>
<rect x="214.00" y="240.27" width="8.54" height="5.58" fill="#f5a89f"/>
<rect x="222.09" y="240.27" width="8.54" height="5.58" fill="#fdf1f0"/>
<rect x="230.18" y="240.27" width="8.54" height="5.58" fill="#fad8d4"/>
<rect x="238.27" y="240.27" width="8.54" height="5.58" fill="#f5a89f"/>
<rect x="246.36" y="240.27" width="8.54" height="5.58" fill="#6aa0de"/>
<rect x="254.45" y="240.27" width="8.54" height="5.58" fill="#aecbed"/>
<rect x="262.54" y="240.27" width="8.54" height="5.58" fill="#c5daf2"/>
<rect x="270.63" y="240.27" width="8.09" height="5.58" fill="#5f99db"/>
<rect x="214.00" y="245.40" width="8.54" height="5.58" fill="#f7bcb5"/>
<rect x="222.09" y="245.40" width="8.54" height="5.58" fill="#fce9e7"/>
<rect x="230.18" y="245.40" width="8.54" height="5.58" fill="#f8c5bf"/>
<rect x="238.27" y="245.40" width="8.54" height="5.58" fill="#f9cfca"/>
<rect x="246.36" y="245.40" width="8.54" height="5.58" fill="#4f8ed8"/>
<rect x="254.45" y="245.40" width="8.54" height="5.58" fill="#fdf1f0"/>
<rect x="262.54" y="245.40" width="8.54" height="5.58" fill="#d7e5f6"/>
<rect x="270.63" y="245.40" width="8.09" height="5.58" fill="#659cdd"/>
<rect x="214.00" y="250.53" width="8.54" height="5.58" fill="#f7bcb5"/>
<rect x="222.09" y="250.53" width="8.54" height="5.58" fill="#ffffff"/>
<rect x="230.18" y="250.53" width="8.54" height="5.58" fill="#f8c5bf"/>
<rect x="238.27" y="250.53" width="8.54" height="5.58" fill="#f9cfca"/>
<rect x="246.36" y="250.53" width="8.54" height="5.58" fill="#4f8ed8"/>
<rect x="254.45" y="250.53" width="8.54" height="5.58" fill="#fdf1f0"/>
<rect x="262.54" y="250.53" width="8.54" height="5.58" fill="#e3edf9"/>
<rect x="270.63" y="250.53" width="8.09" height="5.58" fill="#5a95da"/>
<rect x="214.00" y="255.66" width="8.54" height="5.58" fill="#f7bcb5"/>
<rect x="222.09" y="255.66" width="8.54" height="5.58" fill="#f6b2aa"/>
<rect x="230.18" y="255.66" width="8.54" height="5.58" fill="#f7bcb5"/>
<rect x="238.27" y="255.66" width="8.54" height="5.58" fill="#f9cfca"/>
<rect x="246.36" y="255.66" width="8.54" height="5.58" fill="#659cdd"/>
<rect x="254.45" y="255.66" width="8.54" height="5.58" fill="#659cdd"/>
<rect x="262.54" y="255.66" width="8.54" height="5.58" fill="#a8c7ec"/>
<rect x="270.63" y="255.66" width="8.09" height="5.58" fill="#b3ceee"/>
<rect x="214.00" y="260.79" width="8.54" height="5.58" fill="#f7bcb5"/>
<rect x="222.09" y="260.79" width="8.54" height="5.58" fill="#f8c5bf"/>
<rect x="230.18" y="260.79" width="8.54" height="5.58" fill="#f8c5bf"/>
<rect x="238.27" y="260.79" width="8.54" height="5.58" fill="#f9cfca"/>
<rect x="246.36" y="260.79" width="8.54" height="5.58" fill="#ffffff"/>
<rect x="254.45" y="260.79" width="8.54" height="5.58" fill="#2f7ad1"/>
<rect x="262.54" y="260.79" width="8.54" height="5.58" fill="#70a3df"/>
<rect x="270.63" y="260.79" width="8.09" height="5.58" fill="#fef9f8"/>
<rect x="214.00" y="265.92" width="8.54" height="5.58" fill="#f7bcb5"/>
<rect x="222.09" y="265.92" width="8.54" height="5.58" fill="#fad8d4"/>
<rect x="230.18" y="265.92" width="8.54" height="5.58" fill="#f8c5bf"/>
<rect x="238.27" y="265.92" width="8.54" height="5.58" fill="#f9cfca"/>
<rect x="246.36" y="265.92" width="8.54" height="5.58" fill="#ffffff"/>
<rect x="254.45" y="265.92" width="8.54" height="5.58" fill="#2f7ad1"/>
<rect x="262.54" y="265.92" width="8.54" height="5.58" fill="#70a3df"/>
<rect x="270.63" y="265.92" width="8.09" height="5.58" fill="#fef9f8"/>
<rect x="214.00" y="271.05" width="8.54" height="5.58" fill="#f7bcb5"/>
<rect x="222.09" y="271.05" width="8.54" height="5.58" fill="#eb5442"/>
<rect x="230.18" y="271.05" width="8.54" height="5.58" fill="#f8c5bf"/>
<rect x="238.27" y="271.05" width="8.54" height="5.58" fill="#b3ceee"/>
<rect x="246.36" y="271.05" width="8.54" height="5.58" fill="#91b8e7"/>
<rect x="254.45" y="271.05" width="8.54" height="5.58" fill="#cbdef3"/>
<rect x="262.54" y="271.05" width="8.54" height="5.58" fill="#70a3df"/>
<rect x="270.63" y="271.05" width="8.09" height="5.58" fill="#9cc0e9"/>
<rect x="214.00" y="276.18" width="8.54" height="5.58" fill="#f7bcb5"/>
<rect x="222.09" y="276.18" width="8.54" height="5.58" fill="#f5a89f"/>
<rect x="230.18" y="276.18" width="8.54" height="5.58" fill="#f07f72"/>
<rect x="238.27" y="276.18" width="8.54" height="5.58" fill="#fdf1f0"/>
<rect x="246.36" y="276.18" width="8.54" height="5.58" fill="#9cc0e9"/>
<rect x="254.45" y="276.18" width="8.54" height="5.58" fill="#cbdef3"/>
<rect x="262.54" y="276.18" width="8.54" height="5.58" fill="#4f8ed8"/>
<rect x="270.63" y="276.18" width="8.09" height="5.58" fill="#9cc0e9"/>
<rect x="214.00" y="281.31" width="8.54" height="5.58" fill="#fdf1f0"/>
<rect x="222.09" y="281.31" width="8.54" height="5.58" fill="#f5a89f"/>
<rect x="230.18" y="281.31" width="8.54" height="5.58" fill="#f07f72"/>
<rect x="238.27" y="281.31" width="8.54" height="5.58" fill="#ffffff"/>
<rect x="246.36" y="281.31" width="8.54" height="5.58" fill="#9cc0e9"/>
<rect x="254.45" y="281.31" width="8.54" height="5.58" fill="#cbdef3"/>
<rect x="262.54" y="281.31" width="8.54" height="5.58" fill="#4f8ed8"/>
<rect x="270.63" y="281.31" width="8.09" height="5.58" fill="#b3ceee"/>
<rect x="214.00" y="286.44" width="8.54" height="5.58" fill="#f9cfca"/>
<rect x="222.09" y="286.44" width="8.54" height="5.58" fill="#f9cfca"/>
<rect x="230.18" y="286.44" width="8.54" height="5.58" fill="#fad8d4"/>
<rect x="238.27" y="286.44" width="8.54" height="5.58" fill="#f9cfca"/>
<rect x="246.36" y="286.44" width="8.54" height="5.58" fill="#d7e5f6"/>
<rect x="254.45" y="286.44" width="8.54" height="5.58" fill="#fce9e7"/>
<rect x="262.54" y="286.44" width="8.54" height="5.58" fill="#4f8ed8"/>
<rect x="270.63" y="286.44" width="8.09" height="5.58" fill="#659cdd"/>
<rect x="214.00" y="291.57" width="8.54" height="5.13" fill="#e83e2a"/>
<rect x="222.09" y="291.57" width="8.54" height="5.13" fill="#f0f6fc"/>
<rect x="230.18" y="291.57" width="8.54" height="5.13" fill="#f0f6fc"/>
<rect x="238.27" y="291.57" width="8.54" height="5.13" fill="#fbe1de"/>
<rect x="246.36" y="291.57" width="8.54" height="5.13" fill="#9cc0e9"/>
<rect x="254.45" y="291.57" width="8.54" height="5.13" fill="#cbdef3"/>
<rect x="262.54" y="291.57" width="8.54" height="5.13" fill="#91b8e7"/>
<rect x="270.63" y="291.57" width="8.09" height="5.13" fill="#91b8e7"/>
<text x="219.04" y="299.10" font-size="3.6" text-anchor="end" fill="#555" stroke="#555" stroke-width="0.12" transform="rotate(-45 219.04 299.10)">J151</text>
<text x="227.13" y="299.10" font-size="3.6" text-anchor="end" fill="#555" stroke="#555" stroke-width="0.12" transform="rotate(-45 227.13 299.10)">J152</text>
<text x="235.22" y="299.10" font-size="3.6" text-anchor="end" fill="#555" stroke="#555" stroke-width="0.12" transform="rotate(-45 235.22 299.10)">J153</text>
<text x="243.31" y="299.10" font-size="3.6" text-anchor="end" fill="#555" stroke="#555" stroke-width="0.12" transform="rotate(-45 243.31 299.10)">J154</text>
<text x="251.41" y="299.10" font-size="3.6" text-anchor="end" fill="#555" stroke="#555" stroke-width="0.12" transform="rotate(-45 251.41 299.10)">J251</text>
<text x="259.50" y="299.10" font-size="3.6" text-anchor="end" fill="#555" stroke="#555" stroke-width="0.12" transform="rotate(-45 259.50 299.10)">J252</text>
<text x="267.58" y="299.10" font-size="3.6" text-anchor="end" fill="#555" stroke="#555" stroke-width="0.12" transform="rotate(-45 267.58 299.10)">J253</text>
<text x="275.68" y="299.10" font-size="3.6" text-anchor="end" fill="#555" stroke="#555" stroke-width="0.12" transform="rotate(-45 275.68 299.10)">J254</text>
<path d="M210.00,145.37H208.77V150.50H210.00" fill="none" stroke="#9a9a9a" stroke-width="0.32"/>
<path d="M210.00,155.62H208.77V160.75H210.00" fill="none" stroke="#9a9a9a" stroke-width="0.32"/>
<path d="M208.77,147.93H208.25V158.19H208.77" fill="none" stroke="#9a9a9a" stroke-width="0.32"/>
<path d="M210.00,165.89H208.73V171.02H210.00" fill="none" stroke="#9a9a9a" stroke-width="0.32"/>
<path d="M210.00,181.28H209.36V186.41H210.00" fill="none" stroke="#9a9a9a" stroke-width="0.32"/>
<path d="M210.00,176.15H208.73V183.84H209.36" fill="none" stroke="#9a9a9a" stroke-width="0.32"/>
<path d="M208.73,168.45H208.25V179.99H208.73" fill="none" stroke="#9a9a9a" stroke-width="0.32"/>
<path d="M208.25,153.06H207.19V174.22H208.25" fill="none" stroke="#9a9a9a" stroke-width="0.32"/>
<path d="M210.00,191.54H208.77V196.67H210.00" fill="none" stroke="#9a9a9a" stroke-width="0.32"/>
<path d="M210.00,206.93H209.08V212.06H210.00" fill="none" stroke="#9a9a9a" stroke-width="0.32"/>
<path d="M210.00,201.80H208.77V209.49H209.08" fill="none" stroke="#9a9a9a" stroke-width="0.32"/>
<path d="M208.77,194.10H208.00V205.64H208.77" fill="none" stroke="#9a9a9a" stroke-width="0.32"/>
<path d="M210.00,217.19H209.23V222.31H210.00" fill="none" stroke="#9a9a9a" stroke-width="0.32"/>
<path d="M209.23,219.75H208.76V227.44H210.00" fill="none" stroke="#9a9a9a" stroke-width="0.32"/>
<path d="M208.76,223.60H208.00V232.57H210.00" fill="none" stroke="#9a9a9a" stroke-width="0.32"/>
<path d="M208.00,199.87H207.19V228.09H208.00" fill="none" stroke="#9a9a9a" stroke-width="0.32"/>
<path d="M207.19,163.64H204.59V213.98H207.19" fill="none" stroke="#9a9a9a" stroke-width="0.32"/>
<path d="M210.00,237.71H209.02V242.84H210.00" fill="none" stroke="#9a9a9a" stroke-width="0.32"/>
<path d="M209.02,240.27H208.54V247.97H210.00" fill="none" stroke="#9a9a9a" stroke-width="0.32"/>
<path d="M210.00,253.10H208.54V258.23H210.00" fill="none" stroke="#9a9a9a" stroke-width="0.32"/>
<path d="M208.54,244.12H207.29V255.66H208.54" fill="none" stroke="#9a9a9a" stroke-width="0.32"/>
<path d="M210.00,268.49H209.26V273.62H210.00" fill="none" stroke="#9a9a9a" stroke-width="0.32"/>
<path d="M210.00,263.36H208.54V271.05H209.26" fill="none" stroke="#9a9a9a" stroke-width="0.32"/>
<path d="M210.00,278.75H209.24V283.88H210.00" fill="none" stroke="#9a9a9a" stroke-width="0.32"/>
<path d="M210.00,289.00H209.24V294.13H210.00" fill="none" stroke="#9a9a9a" stroke-width="0.32"/>
<path d="M209.24,281.31H208.54V291.57H209.24" fill="none" stroke="#9a9a9a" stroke-width="0.32"/>
<path d="M208.54,267.20H207.29V286.44H208.54" fill="none" stroke="#9a9a9a" stroke-width="0.32"/>
<path d="M207.29,249.89H204.59V276.82H207.29" fill="none" stroke="#9a9a9a" stroke-width="0.32"/>
<path d="M204.59,188.81H201.50V263.36H204.59" fill="none" stroke="#9a9a9a" stroke-width="0.32"/>
<text x="202.00" y="138.80" font-size="5.6" text-anchor="middle" fill="#111" stroke="#111" stroke-width="0.18" font-weight="bold">E</text>
<text x="283.60" y="140.30" font-size="4.7" text-anchor="start" fill="#222" stroke="#222" stroke-width="0.15">VIP</text>
<text x="280.00" y="146.77" font-size="3.95" text-anchor="start" fill="#2a2a2a" stroke="#2a2a2a" stroke-width="0.12">TG(18:2e/9:0/18:2)</text>
<rect x="325.40" y="143.83" width="10.40" height="3.08" fill="#6fa2f7"/>
<text x="338.00" y="146.67" font-size="3.0" text-anchor="start" fill="#f28a8a">*</text>
<text x="280.00" y="151.90" font-size="3.95" text-anchor="start" fill="#2a2a2a" stroke="#2a2a2a" stroke-width="0.12">DG(28:1/6:0)</text>
<rect x="325.40" y="148.96" width="9.40" height="3.08" fill="#6fa2f7"/>
<text x="337.00" y="151.80" font-size="3.0" text-anchor="start" fill="#f28a8a">*</text>
<text x="280.00" y="157.03" font-size="3.95" text-anchor="start" fill="#2a2a2a" stroke="#2a2a2a" stroke-width="0.12">TG(14:0/18:2/18:3)</text>
<rect x="325.40" y="154.09" width="5.90" height="3.08" fill="#76a6f7"/>
<text x="333.50" y="156.93" font-size="3.0" text-anchor="start" fill="#f28a8a">*</text>
<text x="280.00" y="162.16" font-size="3.95" text-anchor="start" fill="#2a2a2a" stroke="#2a2a2a" stroke-width="0.12">Cer(d20:2/18:3)</text>
<rect x="325.40" y="159.22" width="7.90" height="3.08" fill="#6fa2f7"/>
<text x="335.50" y="162.06" font-size="3.0" text-anchor="start" fill="#f28a8a">*</text>
<text x="280.00" y="167.29" font-size="3.95" text-anchor="start" fill="#2a2a2a" stroke="#2a2a2a" stroke-width="0.12">Cer(d19:1/18:2+O)</text>
<rect x="325.40" y="164.35" width="6.90" height="3.08" fill="#6fa2f7"/>
<text x="334.50" y="167.19" font-size="3.0" text-anchor="start" fill="#f28a8a">*</text>
<text x="280.00" y="172.42" font-size="3.95" text-anchor="start" fill="#2a2a2a" stroke="#2a2a2a" stroke-width="0.12">Cer(d17:1/20:2)</text>
<rect x="325.40" y="169.48" width="6.90" height="3.08" fill="#6fa2f7"/>
<text x="334.50" y="172.32" font-size="3.0" text-anchor="start" fill="#f28a8a">*</text>
<text x="280.00" y="177.55" font-size="3.95" text-anchor="start" fill="#2a2a2a" stroke="#2a2a2a" stroke-width="0.12">Cer(d20:1/16:0)</text>
<rect x="325.40" y="174.61" width="13.80" height="3.08" fill="#629af7"/>
<text x="341.40" y="177.45" font-size="3.0" text-anchor="start" fill="#f28a8a">*</text>
<text x="280.00" y="182.68" font-size="3.95" text-anchor="start" fill="#2a2a2a" stroke="#2a2a2a" stroke-width="0.12">Cer(d20:1/18:2)</text>
<rect x="325.40" y="179.74" width="10.80" height="3.08" fill="#689ef7"/>
<text x="338.40" y="182.58" font-size="3.0" text-anchor="start" fill="#f28a8a">*</text>
<text x="280.00" y="187.81" font-size="3.95" text-anchor="start" fill="#2a2a2a" stroke="#2a2a2a" stroke-width="0.12">Cer(d20:2/18:2)</text>
<rect x="325.40" y="184.87" width="10.40" height="3.08" fill="#689ef7"/>
<text x="338.00" y="187.71" font-size="3.0" text-anchor="start" fill="#f28a8a">*</text>
<text x="280.00" y="192.94" font-size="3.95" text-anchor="start" fill="#2a2a2a" stroke="#2a2a2a" stroke-width="0.12">OAHFA(20:0/18:1)</text>
<rect x="325.40" y="190.00" width="5.90" height="3.08" fill="#6fa2f7"/>
<text x="333.50" y="192.84" font-size="3.0" text-anchor="start" fill="#f28a8a">*</text>
<text x="280.00" y="198.07" font-size="3.95" text-anchor="start" fill="#2a2a2a" stroke="#2a2a2a" stroke-width="0.12">Cer(d16:0/18:0+O)</text>
<rect x="325.40" y="195.13" width="12.40" height="3.08" fill="#2e7df6"/>
<text x="340.00" y="197.97" font-size="3.0" text-anchor="start" fill="#f28a8a">*</text>
<text x="280.00" y="203.20" font-size="3.95" text-anchor="start" fill="#2a2a2a" stroke="#2a2a2a" stroke-width="0.12">Hex1Cer(d19:2/18:1+O)</text>
<rect x="325.40" y="200.26" width="15.80" height="3.08" fill="#5593f6"/>
<text x="343.40" y="203.10" font-size="3.0" text-anchor="start" fill="#f28a8a">*</text>
<text x="280.00" y="208.33" font-size="3.95" text-anchor="start" fill="#2a2a2a" stroke="#2a2a2a" stroke-width="0.12">Hex1Cer(d16:0/21:3)</text>
<rect x="325.40" y="205.39" width="10.80" height="3.08" fill="#5593f6"/>
<text x="338.40" y="208.23" font-size="3.0" text-anchor="start" fill="#f28a8a">*</text>
<text x="280.00" y="213.46" font-size="3.95" text-anchor="start" fill="#2a2a2a" stroke="#2a2a2a" stroke-width="0.12">Cer(d20:2/16:0)</text>
<rect x="325.40" y="210.52" width="19.70" height="3.08" fill="#2879f5"/>
<text x="347.30" y="213.36" font-size="3.0" text-anchor="start" fill="#f28a8a">*</text>
<text x="280.00" y="218.59" font-size="3.95" text-anchor="start" fill="#2a2a2a" stroke="#2a2a2a" stroke-width="0.12">Hex1Cer(d19:2/18:2)</text>
<rect x="325.40" y="215.65" width="17.70" height="3.08" fill="#2e7df6"/>
<text x="345.30" y="218.49" font-size="3.0" text-anchor="start" fill="#f28a8a">*</text>
<text x="280.00" y="223.72" font-size="3.95" text-anchor="start" fill="#2a2a2a" stroke="#2a2a2a" stroke-width="0.12">TG(18:3/17:1/22:6)</text>
<rect x="325.40" y="220.78" width="15.80" height="3.08" fill="#5593f6"/>
<text x="343.40" y="223.62" font-size="3.0" text-anchor="start" fill="#f28a8a">*</text>
<text x="280.00" y="228.84" font-size="3.95" text-anchor="start" fill="#2a2a2a" stroke="#2a2a2a" stroke-width="0.12">PS(18:0/16:0)</text>
<rect x="325.40" y="225.91" width="7.90" height="3.08" fill="#7ca9f7"/>
<text x="335.50" y="228.75" font-size="3.0" text-anchor="start" fill="#f28a8a">*</text>
<text x="280.00" y="233.97" font-size="3.95" text-anchor="start" fill="#2a2a2a" stroke="#2a2a2a" stroke-width="0.12">PMe(18:0/16:0)</text>
<rect x="325.40" y="231.04" width="5.50" height="3.08" fill="#6fa2f7"/>
<text x="333.10" y="233.88" font-size="3.0" text-anchor="start" fill="#f28a8a">*</text>
<text x="280.00" y="239.11" font-size="3.95" text-anchor="start" fill="#2a2a2a" stroke="#2a2a2a" stroke-width="0.12">PE(20:4e/18:2)</text>
<rect x="325.40" y="236.17" width="11.80" height="3.08" fill="#689ef7"/>
<text x="339.40" y="239.01" font-size="3.0" text-anchor="start" fill="#f28a8a">*</text>
<text x="280.00" y="244.24" font-size="3.95" text-anchor="start" fill="#2a2a2a" stroke="#2a2a2a" stroke-width="0.12">SPH(d19:0)</text>
<rect x="325.40" y="241.30" width="8.30" height="3.08" fill="#629af7"/>
<text x="335.90" y="244.14" font-size="3.0" text-anchor="start" fill="#f28a8a">*</text>
<text x="280.00" y="249.37" font-size="3.95" text-anchor="start" fill="#2a2a2a" stroke="#2a2a2a" stroke-width="0.12">TG(16:1/14:1/18:2)</text>
<rect x="325.40" y="246.43" width="12.10" height="3.08" fill="#6fa2f7"/>
<text x="339.70" y="249.27" font-size="3.0" text-anchor="start" fill="#f28a8a">*</text>
<text x="280.00" y="254.50" font-size="3.95" text-anchor="start" fill="#2a2a2a" stroke="#2a2a2a" stroke-width="0.12">Cer(d19:0/18:1)</text>
<rect x="325.40" y="251.56" width="11.40" height="3.08" fill="#6fa2f7"/>
<text x="339.00" y="254.40" font-size="3.0" text-anchor="start" fill="#f28a8a">*</text>
<text x="280.00" y="259.62" font-size="3.95" text-anchor="start" fill="#2a2a2a" stroke="#2a2a2a" stroke-width="0.12">TG(18:1/18:1/23:1)</text>
<rect x="325.40" y="256.69" width="9.70" height="3.08" fill="#4288f6"/>
<text x="337.30" y="259.53" font-size="3.0" text-anchor="start" fill="#f28a8a">*</text>
<text x="280.00" y="264.75" font-size="3.95" text-anchor="start" fill="#2a2a2a" stroke="#2a2a2a" stroke-width="0.12">PE(16:2/18:2)</text>
<rect x="325.40" y="261.82" width="9.70" height="3.08" fill="#689ef7"/>
<text x="337.30" y="264.66" font-size="3.0" text-anchor="start" fill="#f28a8a">*</text>
<text x="280.00" y="269.88" font-size="3.95" text-anchor="start" fill="#2a2a2a" stroke="#2a2a2a" stroke-width="0.12">PS(18:2/20:4)</text>
<rect x="325.40" y="266.95" width="6.60" height="3.08" fill="#6fa2f7"/>
<text x="334.20" y="269.79" font-size="3.0" text-anchor="start" fill="#f28a8a">*</text>
<text x="280.00" y="275.01" font-size="3.95" text-anchor="start" fill="#2a2a2a" stroke="#2a2a2a" stroke-width="0.12">DG(19:3e/6:0)</text>
<rect x="325.40" y="272.08" width="10.40" height="3.08" fill="#689ef7"/>
<text x="338.00" y="274.92" font-size="3.0" text-anchor="start" fill="#f28a8a">*</text>
<text x="280.00" y="280.14" font-size="3.95" text-anchor="start" fill="#2a2a2a" stroke="#2a2a2a" stroke-width="0.12">DG(25:1/6:0)</text>
<rect x="325.40" y="277.21" width="7.40" height="3.08" fill="#6fa2f7"/>
<text x="335.00" y="280.05" font-size="3.0" text-anchor="start" fill="#f28a8a">*</text>
<text x="280.00" y="285.27" font-size="3.95" text-anchor="start" fill="#2a2a2a" stroke="#2a2a2a" stroke-width="0.12">TG(18:2e/6:0/9:0)</text>
<rect x="325.40" y="282.34" width="5.70" height="3.08" fill="#6fa2f7"/>
<text x="333.30" y="285.18" font-size="3.0" text-anchor="start" fill="#f28a8a">*</text>
<text x="280.00" y="290.40" font-size="3.95" text-anchor="start" fill="#2a2a2a" stroke="#2a2a2a" stroke-width="0.12">TG(8:0/16:1/18:3)</text>
<rect x="325.40" y="287.47" width="12.80" height="3.08" fill="#689ef7"/>
<text x="340.40" y="290.31" font-size="3.0" text-anchor="start" fill="#f28a8a">*</text>
<text x="280.00" y="295.53" font-size="3.95" text-anchor="start" fill="#2a2a2a" stroke="#2a2a2a" stroke-width="0.12">TG(18:1/11:2/22:6)</text>
<rect x="325.40" y="292.60" width="7.40" height="3.08" fill="#6fa2f7"/>
<text x="335.00" y="295.44" font-size="3.0" text-anchor="start" fill="#f28a8a">*</text>
<line x1="325.20" y1="297.60" x2="348.00" y2="297.60" stroke="#b8b8b8" stroke-width="0.4"/>
<text x="325.20" y="301.60" font-size="3.8" text-anchor="middle" fill="#2b2b2b" stroke="#2b2b2b" stroke-width="0.18">1</text>
<text x="330.90" y="301.60" font-size="3.8" text-anchor="middle" fill="#2b2b2b" stroke="#2b2b2b" stroke-width="0.18">2</text>
<text x="336.60" y="301.60" font-size="3.8" text-anchor="middle" fill="#2b2b2b" stroke="#2b2b2b" stroke-width="0.18">3</text>
<text x="342.30" y="301.60" font-size="3.8" text-anchor="middle" fill="#2b2b2b" stroke="#2b2b2b" stroke-width="0.18">4</text>
<text x="348.00" y="301.60" font-size="3.8" text-anchor="middle" fill="#2b2b2b" stroke="#2b2b2b" stroke-width="0.18">5</text>
<text x="336.60" y="305.60" font-size="4.0" text-anchor="middle" fill="#2b2b2b" stroke="#2b2b2b" stroke-width="0.18">VIP</text>
<linearGradient id="cE" x1="0" y1="0" x2="0" y2="1"><stop offset="0" stop-color="#e83e2a"/><stop offset="0.5" stop-color="#ffffff"/><stop offset="1" stop-color="#1a6ccc"/></linearGradient>
<rect x="347.00" y="143.40" width="3.60" height="17.20" fill="url(#cE)"/>
<text x="352.00" y="144.40" font-size="3.2" text-anchor="middle" fill="#444" stroke="#444" stroke-width="0.06" transform="rotate(90 352.00 144.40)">2</text>
<text x="352.00" y="148.20" font-size="3.2" text-anchor="middle" fill="#444" stroke="#444" stroke-width="0.06" transform="rotate(90 352.00 148.20)">1</text>
<text x="352.00" y="152.00" font-size="3.2" text-anchor="middle" fill="#444" stroke="#444" stroke-width="0.06" transform="rotate(90 352.00 152.00)">0</text>
<text x="352.00" y="155.80" font-size="3.2" text-anchor="middle" fill="#444" stroke="#444" stroke-width="0.06" transform="rotate(90 352.00 155.80)">-1</text>
<text x="352.00" y="159.60" font-size="3.2" text-anchor="middle" fill="#444" stroke="#444" stroke-width="0.06" transform="rotate(90 352.00 159.60)">-2</text>
<linearGradient id="vE" x1="0" y1="0" x2="0" y2="1"><stop offset="0" stop-color="#146ef5"/><stop offset="1" stop-color="#96b8f8"/></linearGradient>
<rect x="347.00" y="169.50" width="3.40" height="17.40" fill="url(#vE)"/>
<text x="352.00" y="170.50" font-size="3.2" text-anchor="middle" fill="#444" stroke="#444" stroke-width="0.06" transform="rotate(90 352.00 170.50)">6</text>
<text x="352.00" y="173.58" font-size="3.2" text-anchor="middle" fill="#444" stroke="#444" stroke-width="0.06" transform="rotate(90 352.00 173.58)">5</text>
<text x="352.00" y="176.66" font-size="3.2" text-anchor="middle" fill="#444" stroke="#444" stroke-width="0.06" transform="rotate(90 352.00 176.66)">4</text>
<text x="352.00" y="179.74" font-size="3.2" text-anchor="middle" fill="#444" stroke="#444" stroke-width="0.06" transform="rotate(90 352.00 179.74)">3</text>
<text x="352.00" y="182.82" font-size="3.2" text-anchor="middle" fill="#444" stroke="#444" stroke-width="0.06" transform="rotate(90 352.00 182.82)">2</text>
<text x="352.00" y="185.90" font-size="3.2" text-anchor="middle" fill="#444" stroke="#444" stroke-width="0.06" transform="rotate(90 352.00 185.90)">1</text>
<rect x="400.40" y="143.10" width="8.95" height="5.57" fill="#f9cfca"/>
<rect x="408.90" y="143.10" width="8.95" height="5.57" fill="#d7e5f6"/>
<rect x="417.40" y="143.10" width="8.95" height="5.57" fill="#fbe1de"/>
<rect x="425.90" y="143.10" width="8.95" height="5.57" fill="#eb5442"/>
<rect x="434.40" y="143.10" width="8.95" height="5.57" fill="#70a3df"/>
<rect x="442.90" y="143.10" width="8.95" height="5.57" fill="#bfd6f1"/>
<rect x="451.40" y="143.10" width="8.95" height="5.57" fill="#86b1e4"/>
<rect x="459.90" y="143.10" width="8.50" height="5.57" fill="#b3ceee"/>
<rect x="400.40" y="148.22" width="8.95" height="5.57" fill="#f9cfca"/>
<rect x="408.90" y="148.22" width="8.95" height="5.57" fill="#d7e5f6"/>
<rect x="417.40" y="148.22" width="8.95" height="5.57" fill="#fbe1de"/>
<rect x="425.90" y="148.22" width="8.95" height="5.57" fill="#eb5442"/>
<rect x="434.40" y="148.22" width="8.95" height="5.57" fill="#70a3df"/>
<rect x="442.90" y="148.22" width="8.95" height="5.57" fill="#d7e5f6"/>
<rect x="451.40" y="148.22" width="8.95" height="5.57" fill="#70a3df"/>
<rect x="459.90" y="148.22" width="8.50" height="5.57" fill="#b3ceee"/>
<rect x="400.40" y="153.34" width="8.95" height="5.57" fill="#ffffff"/>
<rect x="408.90" y="153.34" width="8.95" height="5.57" fill="#fad8d4"/>
<rect x="417.40" y="153.34" width="8.95" height="5.57" fill="#f39e94"/>
<rect x="425.90" y="153.34" width="8.95" height="5.57" fill="#f39e94"/>
<rect x="434.40" y="153.34" width="8.95" height="5.57" fill="#86b1e4"/>
<rect x="442.90" y="153.34" width="8.95" height="5.57" fill="#4587d5"/>
<rect x="451.40" y="153.34" width="8.95" height="5.57" fill="#ffffff"/>
<rect x="459.90" y="153.34" width="8.50" height="5.57" fill="#9cc0e9"/>
<rect x="400.40" y="158.46" width="8.95" height="5.57" fill="#f39e94"/>
<rect x="408.90" y="158.46" width="8.95" height="5.57" fill="#b3ceee"/>
<rect x="417.40" y="158.46" width="8.95" height="5.57" fill="#f39e94"/>
<rect x="425.90" y="158.46" width="8.95" height="5.57" fill="#f39e94"/>
<rect x="434.40" y="158.46" width="8.95" height="5.57" fill="#b3ceee"/>
<rect x="442.90" y="158.46" width="8.95" height="5.57" fill="#659cdd"/>
<rect x="451.40" y="158.46" width="8.95" height="5.57" fill="#86b1e4"/>
<rect x="459.90" y="158.46" width="8.50" height="5.57" fill="#bfd6f1"/>
<rect x="400.40" y="163.58" width="8.95" height="5.57" fill="#f39e94"/>
<rect x="408.90" y="163.58" width="8.95" height="5.57" fill="#fdf1f0"/>
<rect x="417.40" y="163.58" width="8.95" height="5.57" fill="#f39e94"/>
<rect x="425.90" y="163.58" width="8.95" height="5.57" fill="#fce9e7"/>
<rect x="434.40" y="163.58" width="8.95" height="5.57" fill="#b3ceee"/>
<rect x="442.90" y="163.58" width="8.95" height="5.57" fill="#659cdd"/>
<rect x="451.40" y="163.58" width="8.95" height="5.57" fill="#86b1e4"/>
<rect x="459.90" y="163.58" width="8.50" height="5.57" fill="#bfd6f1"/>
<rect x="400.40" y="168.70" width="8.95" height="5.57" fill="#ffffff"/>
<rect x="408.90" y="168.70" width="8.95" height="5.57" fill="#eb5442"/>
<rect x="417.40" y="168.70" width="8.95" height="5.57" fill="#ffffff"/>
<rect x="425.90" y="168.70" width="8.95" height="5.57" fill="#f8c5bf"/>
<rect x="434.40" y="168.70" width="8.95" height="5.57" fill="#b3ceee"/>
<rect x="442.90" y="168.70" width="8.95" height="5.57" fill="#91b8e7"/>
<rect x="451.40" y="168.70" width="8.95" height="5.57" fill="#a8c7ec"/>
<rect x="459.90" y="168.70" width="8.50" height="5.57" fill="#659cdd"/>
<rect x="400.40" y="173.82" width="8.95" height="5.57" fill="#f5a89f"/>
<rect x="408.90" y="173.82" width="8.95" height="5.57" fill="#fce9e7"/>
<rect x="417.40" y="173.82" width="8.95" height="5.57" fill="#f07f72"/>
<rect x="425.90" y="173.82" width="8.95" height="5.57" fill="#cbdef3"/>
<rect x="434.40" y="173.82" width="8.95" height="5.57" fill="#5a95da"/>
<rect x="442.90" y="173.82" width="8.95" height="5.57" fill="#ffffff"/>
<rect x="451.40" y="173.82" width="8.95" height="5.57" fill="#b3ceee"/>
<rect x="459.90" y="173.82" width="8.50" height="5.57" fill="#86b1e4"/>
<rect x="400.40" y="178.94" width="8.95" height="5.57" fill="#fbe1de"/>
<rect x="408.90" y="178.94" width="8.95" height="5.57" fill="#fad8d4"/>
<rect x="417.40" y="178.94" width="8.95" height="5.57" fill="#f07f72"/>
<rect x="425.90" y="178.94" width="8.95" height="5.57" fill="#fef9f8"/>
<rect x="434.40" y="178.94" width="8.95" height="5.57" fill="#b3ceee"/>
<rect x="442.90" y="178.94" width="8.95" height="5.57" fill="#ffffff"/>
<rect x="451.40" y="178.94" width="8.95" height="5.57" fill="#9cc0e9"/>
<rect x="459.90" y="178.94" width="8.50" height="5.57" fill="#4587d5"/>
<rect x="400.40" y="184.06" width="8.95" height="5.57" fill="#fad8d4"/>
<rect x="408.90" y="184.06" width="8.95" height="5.57" fill="#f5a89f"/>
<rect x="417.40" y="184.06" width="8.95" height="5.57" fill="#f7bcb5"/>
<rect x="425.90" y="184.06" width="8.95" height="5.57" fill="#d7e5f6"/>
<rect x="434.40" y="184.06" width="8.95" height="5.57" fill="#b3ceee"/>
<rect x="442.90" y="184.06" width="8.95" height="5.57" fill="#fce9e7"/>
<rect x="451.40" y="184.06" width="8.95" height="5.57" fill="#7baae2"/>
<rect x="459.90" y="184.06" width="8.50" height="5.57" fill="#86b1e4"/>
<rect x="400.40" y="189.18" width="8.95" height="5.57" fill="#f9cfca"/>
<rect x="408.90" y="189.18" width="8.95" height="5.57" fill="#f6b7af"/>
<rect x="417.40" y="189.18" width="8.95" height="5.57" fill="#fce5e2"/>
<rect x="425.90" y="189.18" width="8.95" height="5.57" fill="#fce9e7"/>
<rect x="434.40" y="189.18" width="8.95" height="5.57" fill="#4587d5"/>
<rect x="442.90" y="189.18" width="8.95" height="5.57" fill="#fdedec"/>
<rect x="451.40" y="189.18" width="8.95" height="5.57" fill="#5f99db"/>
<rect x="459.90" y="189.18" width="8.50" height="5.57" fill="#aecbed"/>
<rect x="400.40" y="194.30" width="8.95" height="5.57" fill="#eb5442"/>
<rect x="408.90" y="194.30" width="8.95" height="5.57" fill="#f7bcb5"/>
<rect x="417.40" y="194.30" width="8.95" height="5.57" fill="#e3edf9"/>
<rect x="425.90" y="194.30" width="8.95" height="5.57" fill="#ffffff"/>
<rect x="434.40" y="194.30" width="8.95" height="5.57" fill="#86b1e4"/>
<rect x="442.90" y="194.30" width="8.95" height="5.57" fill="#d7e5f6"/>
<rect x="451.40" y="194.30" width="8.95" height="5.57" fill="#9cc0e9"/>
<rect x="459.90" y="194.30" width="8.50" height="5.57" fill="#659cdd"/>
<rect x="400.40" y="199.42" width="8.95" height="5.57" fill="#86b1e4"/>
<rect x="408.90" y="199.42" width="8.95" height="5.57" fill="#86b1e4"/>
<rect x="417.40" y="199.42" width="8.95" height="5.57" fill="#659cdd"/>
<rect x="425.90" y="199.42" width="8.95" height="5.57" fill="#f0f6fc"/>
<rect x="434.40" y="199.42" width="8.95" height="5.57" fill="#fce9e7"/>
<rect x="442.90" y="199.42" width="8.95" height="5.57" fill="#fbe1de"/>
<rect x="451.40" y="199.42" width="8.95" height="5.57" fill="#ed6a5a"/>
<rect x="459.90" y="199.42" width="8.50" height="5.57" fill="#ffffff"/>
<rect x="400.40" y="204.54" width="8.95" height="5.57" fill="#659cdd"/>
<rect x="408.90" y="204.54" width="8.95" height="5.57" fill="#91b8e7"/>
<rect x="417.40" y="204.54" width="8.95" height="5.57" fill="#659cdd"/>
<rect x="425.90" y="204.54" width="8.95" height="5.57" fill="#ffffff"/>
<rect x="434.40" y="204.54" width="8.95" height="5.57" fill="#f5a89f"/>
<rect x="442.90" y="204.54" width="8.95" height="5.57" fill="#fad8d4"/>
<rect x="451.40" y="204.54" width="8.95" height="5.57" fill="#f29489"/>
<rect x="459.90" y="204.54" width="8.50" height="5.57" fill="#fad8d4"/>
<rect x="400.40" y="209.66" width="8.95" height="5.57" fill="#659cdd"/>
<rect x="408.90" y="209.66" width="8.95" height="5.57" fill="#f0f6fc"/>
<rect x="417.40" y="209.66" width="8.95" height="5.57" fill="#4f8ed8"/>
<rect x="425.90" y="209.66" width="8.95" height="5.57" fill="#ffffff"/>
<rect x="434.40" y="209.66" width="8.95" height="5.57" fill="#f29489"/>
<rect x="442.90" y="209.66" width="8.95" height="5.57" fill="#fce9e7"/>
<rect x="451.40" y="209.66" width="8.95" height="5.57" fill="#f29489"/>
<rect x="459.90" y="209.66" width="8.50" height="5.57" fill="#d7e5f6"/>
<rect x="400.40" y="214.78" width="8.95" height="5.57" fill="#ffffff"/>
<rect x="408.90" y="214.78" width="8.95" height="5.57" fill="#659cdd"/>
<rect x="417.40" y="214.78" width="8.95" height="5.57" fill="#e3edf9"/>
<rect x="425.90" y="214.78" width="8.95" height="5.57" fill="#4f8ed8"/>
<rect x="434.40" y="214.78" width="8.95" height="5.57" fill="#ffffff"/>
<rect x="442.90" y="214.78" width="8.95" height="5.57" fill="#fbe1de"/>
<rect x="451.40" y="214.78" width="8.95" height="5.57" fill="#ed6a5a"/>
<rect x="459.90" y="214.78" width="8.50" height="5.57" fill="#fad8d4"/>
<rect x="400.40" y="219.90" width="8.95" height="5.57" fill="#ffffff"/>
<rect x="408.90" y="219.90" width="8.95" height="5.57" fill="#5a95da"/>
<rect x="417.40" y="219.90" width="8.95" height="5.57" fill="#659cdd"/>
<rect x="425.90" y="219.90" width="8.95" height="5.57" fill="#9cc0e9"/>
<rect x="434.40" y="219.90" width="8.95" height="5.57" fill="#fad8d4"/>
<rect x="442.90" y="219.90" width="8.95" height="5.57" fill="#f1897d"/>
<rect x="451.40" y="219.90" width="8.95" height="5.57" fill="#f5a89f"/>
<rect x="459.90" y="219.90" width="8.50" height="5.57" fill="#ffffff"/>
<rect x="400.40" y="225.02" width="8.95" height="5.57" fill="#cbdef3"/>
<rect x="408.90" y="225.02" width="8.95" height="5.57" fill="#4f8ed8"/>
<rect x="417.40" y="225.02" width="8.95" height="5.57" fill="#86b1e4"/>
<rect x="425.90" y="225.02" width="8.95" height="5.57" fill="#b3ceee"/>
<rect x="434.40" y="225.02" width="8.95" height="5.57" fill="#fbe1de"/>
<rect x="442.90" y="225.02" width="8.95" height="5.57" fill="#eb5442"/>
<rect x="451.40" y="225.02" width="8.95" height="5.57" fill="#f8c5bf"/>
<rect x="459.90" y="225.02" width="8.50" height="5.57" fill="#d7e5f6"/>
<rect x="400.40" y="230.14" width="8.95" height="5.57" fill="#91b8e7"/>
<rect x="408.90" y="230.14" width="8.95" height="5.57" fill="#86b1e4"/>
<rect x="417.40" y="230.14" width="8.95" height="5.57" fill="#659cdd"/>
<rect x="425.90" y="230.14" width="8.95" height="5.57" fill="#b3ceee"/>
<rect x="434.40" y="230.14" width="8.95" height="5.57" fill="#fbe1de"/>
<rect x="442.90" y="230.14" width="8.95" height="5.57" fill="#ed6a5a"/>
<rect x="451.40" y="230.14" width="8.95" height="5.57" fill="#f8c5bf"/>
<rect x="459.90" y="230.14" width="8.50" height="5.57" fill="#fbe1de"/>
<rect x="400.40" y="235.26" width="8.95" height="5.57" fill="#ffffff"/>
<rect x="408.90" y="235.26" width="8.95" height="5.57" fill="#a8c7ec"/>
<rect x="417.40" y="235.26" width="8.95" height="5.57" fill="#659cdd"/>
<rect x="425.90" y="235.26" width="8.95" height="5.57" fill="#9cc0e9"/>
<rect x="434.40" y="235.26" width="8.95" height="5.57" fill="#fce9e7"/>
<rect x="442.90" y="235.26" width="8.95" height="5.57" fill="#ee7466"/>
<rect x="451.40" y="235.26" width="8.95" height="5.57" fill="#fad8d4"/>
<rect x="459.90" y="235.26" width="8.50" height="5.57" fill="#fad8d4"/>
<rect x="400.40" y="240.38" width="8.95" height="5.57" fill="#ffffff"/>
<rect x="408.90" y="240.38" width="8.95" height="5.57" fill="#70a3df"/>
<rect x="417.40" y="240.38" width="8.95" height="5.57" fill="#7baae2"/>
<rect x="425.90" y="240.38" width="8.95" height="5.57" fill="#9cc0e9"/>
<rect x="434.40" y="240.38" width="8.95" height="5.57" fill="#dde9f7"/>
<rect x="442.90" y="240.38" width="8.95" height="5.57" fill="#ee6f60"/>
<rect x="451.40" y="240.38" width="8.95" height="5.57" fill="#fbe1de"/>
<rect x="459.90" y="240.38" width="8.50" height="5.57" fill="#fad8d4"/>
<rect x="400.40" y="245.50" width="8.95" height="5.57" fill="#e3edf9"/>
<rect x="408.90" y="245.50" width="8.95" height="5.57" fill="#659cdd"/>
<rect x="417.40" y="245.50" width="8.95" height="5.57" fill="#659cdd"/>
<rect x="425.90" y="245.50" width="8.95" height="5.57" fill="#9cc0e9"/>
<rect x="434.40" y="245.50" width="8.95" height="5.57" fill="#ffffff"/>
<rect x="442.90" y="245.50" width="8.95" height="5.57" fill="#ee7466"/>
<rect x="451.40" y="245.50" width="8.95" height="5.57" fill="#f9cfca"/>
<rect x="459.90" y="245.50" width="8.50" height="5.57" fill="#fbe1de"/>
<rect x="400.40" y="250.62" width="8.95" height="5.57" fill="#e3edf9"/>
<rect x="408.90" y="250.62" width="8.95" height="5.57" fill="#659cdd"/>
<rect x="417.40" y="250.62" width="8.95" height="5.57" fill="#659cdd"/>
<rect x="425.90" y="250.62" width="8.95" height="5.57" fill="#9cc0e9"/>
<rect x="434.40" y="250.62" width="8.95" height="5.57" fill="#fce9e7"/>
<rect x="442.90" y="250.62" width="8.95" height="5.57" fill="#ed6a5a"/>
<rect x="451.40" y="250.62" width="8.95" height="5.57" fill="#fce9e7"/>
<rect x="459.90" y="250.62" width="8.50" height="5.57" fill="#fce9e7"/>
<rect x="400.40" y="255.74" width="8.95" height="5.57" fill="#e3edf9"/>
<rect x="408.90" y="255.74" width="8.95" height="5.57" fill="#659cdd"/>
<rect x="417.40" y="255.74" width="8.95" height="5.57" fill="#659cdd"/>
<rect x="425.90" y="255.74" width="8.95" height="5.57" fill="#b3ceee"/>
<rect x="434.40" y="255.74" width="8.95" height="5.57" fill="#fce9e7"/>
<rect x="442.90" y="255.74" width="8.95" height="5.57" fill="#ed6a5a"/>
<rect x="451.40" y="255.74" width="8.95" height="5.57" fill="#fce9e7"/>
<rect x="459.90" y="255.74" width="8.50" height="5.57" fill="#fce9e7"/>
<rect x="400.40" y="260.86" width="8.95" height="5.57" fill="#70a3df"/>
<rect x="408.90" y="260.86" width="8.95" height="5.57" fill="#a8c7ec"/>
<rect x="417.40" y="260.86" width="8.95" height="5.57" fill="#bfd6f1"/>
<rect x="425.90" y="260.86" width="8.95" height="5.57" fill="#659cdd"/>
<rect x="434.40" y="260.86" width="8.95" height="5.57" fill="#fce9e7"/>
<rect x="442.90" y="260.86" width="8.95" height="5.57" fill="#f8c5bf"/>
<rect x="451.40" y="260.86" width="8.95" height="5.57" fill="#fad8d4"/>
<rect x="459.90" y="260.86" width="8.50" height="5.57" fill="#f29489"/>
<rect x="400.40" y="265.98" width="8.95" height="5.57" fill="#70a3df"/>
<rect x="408.90" y="265.98" width="8.95" height="5.57" fill="#ffffff"/>
<rect x="417.40" y="265.98" width="8.95" height="5.57" fill="#bfd6f1"/>
<rect x="425.90" y="265.98" width="8.95" height="5.57" fill="#659cdd"/>
<rect x="434.40" y="265.98" width="8.95" height="5.57" fill="#ffffff"/>
<rect x="442.90" y="265.98" width="8.95" height="5.57" fill="#f1897d"/>
<rect x="451.40" y="265.98" width="8.95" height="5.57" fill="#ffffff"/>
<rect x="459.90" y="265.98" width="8.50" height="5.57" fill="#f5a89f"/>
<rect x="400.40" y="271.10" width="8.95" height="5.57" fill="#a8c7ec"/>
<rect x="408.90" y="271.10" width="8.95" height="5.57" fill="#4f8ed8"/>
<rect x="417.40" y="271.10" width="8.95" height="5.57" fill="#86b1e4"/>
<rect x="425.90" y="271.10" width="8.95" height="5.57" fill="#d7e5f6"/>
<rect x="434.40" y="271.10" width="8.95" height="5.57" fill="#f7bcb5"/>
<rect x="442.90" y="271.10" width="8.95" height="5.57" fill="#f8c5bf"/>
<rect x="451.40" y="271.10" width="8.95" height="5.57" fill="#fbe1de"/>
<rect x="459.90" y="271.10" width="8.50" height="5.57" fill="#f7bcb5"/>
<rect x="400.40" y="276.22" width="8.95" height="5.57" fill="#cbdef3"/>
<rect x="408.90" y="276.22" width="8.95" height="5.57" fill="#4f8ed8"/>
<rect x="417.40" y="276.22" width="8.95" height="5.57" fill="#70a3df"/>
<rect x="425.90" y="276.22" width="8.95" height="5.57" fill="#f0f6fc"/>
<rect x="434.40" y="276.22" width="8.95" height="5.57" fill="#fad8d4"/>
<rect x="442.90" y="276.22" width="8.95" height="5.57" fill="#f7bcb5"/>
<rect x="451.40" y="276.22" width="8.95" height="5.57" fill="#f9cfca"/>
<rect x="459.90" y="276.22" width="8.50" height="5.57" fill="#f8c5bf"/>
<rect x="400.40" y="281.34" width="8.95" height="5.57" fill="#cbdef3"/>
<rect x="408.90" y="281.34" width="8.95" height="5.57" fill="#4f8ed8"/>
<rect x="417.40" y="281.34" width="8.95" height="5.57" fill="#70a3df"/>
<rect x="425.90" y="281.34" width="8.95" height="5.57" fill="#ffffff"/>
<rect x="434.40" y="281.34" width="8.95" height="5.57" fill="#fad8d4"/>
<rect x="442.90" y="281.34" width="8.95" height="5.57" fill="#f7bcb5"/>
<rect x="451.40" y="281.34" width="8.95" height="5.57" fill="#fbe1de"/>
<rect x="459.90" y="281.34" width="8.50" height="5.57" fill="#f8c5bf"/>
<rect x="400.40" y="286.46" width="8.95" height="5.57" fill="#70a3df"/>
<rect x="408.90" y="286.46" width="8.95" height="5.57" fill="#7baae2"/>
<rect x="417.40" y="286.46" width="8.95" height="5.57" fill="#b3ceee"/>
<rect x="425.90" y="286.46" width="8.95" height="5.57" fill="#f0f6fc"/>
<rect x="434.40" y="286.46" width="8.95" height="5.57" fill="#fce9e7"/>
<rect x="442.90" y="286.46" width="8.95" height="5.57" fill="#f8c5bf"/>
<rect x="451.40" y="286.46" width="8.95" height="5.57" fill="#fef9f8"/>
<rect x="459.90" y="286.46" width="8.50" height="5.57" fill="#f1897d"/>
<rect x="400.40" y="291.58" width="8.95" height="5.12" fill="#bfd6f1"/>
<rect x="408.90" y="291.58" width="8.95" height="5.12" fill="#3a80d3"/>
<rect x="417.40" y="291.58" width="8.95" height="5.12" fill="#9cc0e9"/>
<rect x="425.90" y="291.58" width="8.95" height="5.12" fill="#d7e5f6"/>
<rect x="434.40" y="291.58" width="8.95" height="5.12" fill="#e3edf9"/>
<rect x="442.90" y="291.58" width="8.95" height="5.12" fill="#f8c5bf"/>
<rect x="451.40" y="291.58" width="8.95" height="5.12" fill="#f8c5bf"/>
<rect x="459.90" y="291.58" width="8.50" height="5.12" fill="#f7bcb5"/>
<text x="405.65" y="299.10" font-size="3.6" text-anchor="end" fill="#555" stroke="#555" stroke-width="0.12" transform="rotate(-45 405.65 299.10)">J201</text>
<text x="414.15" y="299.10" font-size="3.6" text-anchor="end" fill="#555" stroke="#555" stroke-width="0.12" transform="rotate(-45 414.15 299.10)">J202</text>
<text x="422.65" y="299.10" font-size="3.6" text-anchor="end" fill="#555" stroke="#555" stroke-width="0.12" transform="rotate(-45 422.65 299.10)">J203</text>
<text x="431.15" y="299.10" font-size="3.6" text-anchor="end" fill="#555" stroke="#555" stroke-width="0.12" transform="rotate(-45 431.15 299.10)">J204</text>
<text x="439.65" y="299.10" font-size="3.6" text-anchor="end" fill="#555" stroke="#555" stroke-width="0.12" transform="rotate(-45 439.65 299.10)">J251</text>
<text x="448.15" y="299.10" font-size="3.6" text-anchor="end" fill="#555" stroke="#555" stroke-width="0.12" transform="rotate(-45 448.15 299.10)">J252</text>
<text x="456.65" y="299.10" font-size="3.6" text-anchor="end" fill="#555" stroke="#555" stroke-width="0.12" transform="rotate(-45 456.65 299.10)">J253</text>
<text x="465.15" y="299.10" font-size="3.6" text-anchor="end" fill="#555" stroke="#555" stroke-width="0.12" transform="rotate(-45 465.15 299.10)">J254</text>
<path d="M396.40,150.78H395.77V155.90H396.40" fill="none" stroke="#9a9a9a" stroke-width="0.32"/>
<path d="M396.40,145.66H395.18V153.34H395.77" fill="none" stroke="#9a9a9a" stroke-width="0.32"/>
<path d="M396.40,161.02H395.18V166.14H396.40" fill="none" stroke="#9a9a9a" stroke-width="0.32"/>
<path d="M395.18,149.50H394.75V163.58H395.18" fill="none" stroke="#9a9a9a" stroke-width="0.32"/>
<path d="M396.40,171.26H394.75V176.38H396.40" fill="none" stroke="#9a9a9a" stroke-width="0.32"/>
<path d="M394.75,156.54H393.48V173.82H394.75" fill="none" stroke="#9a9a9a" stroke-width="0.32"/>
<path d="M396.40,181.50H394.22V186.62H396.40" fill="none" stroke="#9a9a9a" stroke-width="0.32"/>
<path d="M396.40,191.74H394.22V196.86H396.40" fill="none" stroke="#9a9a9a" stroke-width="0.32"/>
<path d="M394.22,184.06H393.48V194.30H394.22" fill="none" stroke="#9a9a9a" stroke-width="0.32"/>
<path d="M393.48,165.18H391.11V189.18H393.48" fill="none" stroke="#9a9a9a" stroke-width="0.32"/>
<path d="M396.40,201.98H394.67V207.10H396.40" fill="none" stroke="#9a9a9a" stroke-width="0.32"/>
<path d="M396.40,217.34H395.79V222.46H396.40" fill="none" stroke="#9a9a9a" stroke-width="0.32"/>
<path d="M396.40,212.22H395.19V219.90H395.79" fill="none" stroke="#9a9a9a" stroke-width="0.32"/>
<path d="M396.40,227.58H395.19V232.70H396.40" fill="none" stroke="#9a9a9a" stroke-width="0.32"/>
<path d="M395.19,216.06H394.67V230.14H395.19" fill="none" stroke="#9a9a9a" stroke-width="0.32"/>
<path d="M394.67,204.54H393.49V223.10H394.67" fill="none" stroke="#9a9a9a" stroke-width="0.32"/>
<path d="M396.40,242.94H395.99V248.06H396.40" fill="none" stroke="#9a9a9a" stroke-width="0.32"/>
<path d="M396.40,237.82H395.78V245.50H395.99" fill="none" stroke="#9a9a9a" stroke-width="0.32"/>
<path d="M396.40,253.18H395.78V258.30H396.40" fill="none" stroke="#9a9a9a" stroke-width="0.32"/>
<path d="M395.78,241.66H395.22V255.74H395.78" fill="none" stroke="#9a9a9a" stroke-width="0.32"/>
<path d="M396.40,263.42H395.22V268.54H396.40" fill="none" stroke="#9a9a9a" stroke-width="0.32"/>
<path d="M395.22,248.70H394.36V265.98H395.22" fill="none" stroke="#9a9a9a" stroke-width="0.32"/>
<path d="M396.40,278.78H395.66V283.90H396.40" fill="none" stroke="#9a9a9a" stroke-width="0.32"/>
<path d="M396.40,273.66H395.05V281.34H395.66" fill="none" stroke="#9a9a9a" stroke-width="0.32"/>
<path d="M396.40,289.02H395.05V294.14H396.40" fill="none" stroke="#9a9a9a" stroke-width="0.32"/>
<path d="M395.05,277.50H394.36V291.58H395.05" fill="none" stroke="#9a9a9a" stroke-width="0.32"/>
<path d="M394.36,257.34H393.49V284.54H394.36" fill="none" stroke="#9a9a9a" stroke-width="0.32"/>
<path d="M393.49,213.82H391.11V270.94H393.49" fill="none" stroke="#9a9a9a" stroke-width="0.32"/>
<path d="M391.11,177.18H387.50V242.38H391.11" fill="none" stroke="#9a9a9a" stroke-width="0.32"/>
<text x="388.00" y="139.70" font-size="5.6" text-anchor="middle" fill="#111" stroke="#111" stroke-width="0.18" font-weight="bold">F</text>
<text x="469.20" y="140.50" font-size="4.7" text-anchor="start" fill="#222" stroke="#222" stroke-width="0.15">VIP</text>
<text x="469.80" y="147.06" font-size="3.95" text-anchor="start" fill="#2a2a2a" stroke="#2a2a2a" stroke-width="0.12">TG(8:0/18:0/18:1)</text>
<rect x="508.60" y="144.12" width="5.70" height="3.07" fill="#689ef7"/>
<text x="516.50" y="146.96" font-size="3.0" text-anchor="start" fill="#f28a8a">*</text>
<text x="469.80" y="152.18" font-size="3.95" text-anchor="start" fill="#2a2a2a" stroke="#2a2a2a" stroke-width="0.12">DG(12:0/18:2)</text>
<rect x="508.60" y="149.24" width="3.80" height="3.07" fill="#689ef7"/>
<text x="514.60" y="152.08" font-size="3.0" text-anchor="start" fill="#f28a8a">*</text>
<text x="469.80" y="157.30" font-size="3.95" text-anchor="start" fill="#2a2a2a" stroke="#2a2a2a" stroke-width="0.12">DG(16:1/18:3)</text>
<rect x="508.60" y="154.36" width="2.20" height="3.07" fill="#689ef7"/>
<text x="513.00" y="157.20" font-size="3.0" text-anchor="start" fill="#f28a8a">*</text>
<text x="469.80" y="162.42" font-size="3.95" text-anchor="start" fill="#2a2a2a" stroke="#2a2a2a" stroke-width="0.12">TG(20:1/18:1/18:2)</text>
<rect x="508.60" y="159.48" width="19.40" height="3.07" fill="#5c97f7"/>
<text x="530.20" y="162.32" font-size="3.0" text-anchor="start" fill="#f28a8a">*</text>
<text x="469.80" y="167.54" font-size="3.95" text-anchor="start" fill="#2a2a2a" stroke="#2a2a2a" stroke-width="0.12">TG(18:3e/9:0/9:0)</text>
<rect x="508.60" y="164.60" width="2.80" height="3.07" fill="#2175f5"/>
<text x="513.60" y="167.44" font-size="3.0" text-anchor="start" fill="#f28a8a">*</text>
<text x="469.80" y="172.66" font-size="3.95" text-anchor="start" fill="#2a2a2a" stroke="#2a2a2a" stroke-width="0.12">DG(16:0/16:1)</text>
<rect x="508.60" y="169.72" width="9.10" height="3.07" fill="#5c97f7"/>
<text x="519.90" y="172.56" font-size="3.0" text-anchor="start" fill="#f28a8a">*</text>
<text x="469.80" y="177.78" font-size="3.95" text-anchor="start" fill="#2a2a2a" stroke="#2a2a2a" stroke-width="0.12">Cer(d18:1/20:0)</text>
<rect x="508.60" y="174.84" width="3.20" height="3.07" fill="#7ca9f7"/>
<text x="514.00" y="177.68" font-size="3.0" text-anchor="start" fill="#f28a8a">*</text>
<text x="469.80" y="182.90" font-size="3.95" text-anchor="start" fill="#2a2a2a" stroke="#2a2a2a" stroke-width="0.12">TG(16:0/8:0/18:2)</text>
<rect x="508.60" y="179.96" width="5.10" height="3.07" fill="#629af7"/>
<text x="515.90" y="182.80" font-size="3.0" text-anchor="start" fill="#f28a8a">*</text>
<text x="469.80" y="188.02" font-size="3.95" text-anchor="start" fill="#2a2a2a" stroke="#2a2a2a" stroke-width="0.12">DGMG(18:2)</text>
<rect x="508.60" y="185.08" width="3.20" height="3.07" fill="#6fa2f7"/>
<text x="514.00" y="187.92" font-size="3.0" text-anchor="start" fill="#f28a8a">*</text>
<text x="469.80" y="193.14" font-size="3.95" text-anchor="start" fill="#2a2a2a" stroke="#2a2a2a" stroke-width="0.12">BisMeLPA(18:1)</text>
<rect x="508.60" y="190.20" width="10.40" height="3.07" fill="#689ef7"/>
<text x="521.20" y="193.04" font-size="3.0" text-anchor="start" fill="#f28a8a">*</text>
<text x="469.80" y="198.26" font-size="3.95" text-anchor="start" fill="#2a2a2a" stroke="#2a2a2a" stroke-width="0.12">DG(19:4/16:0)</text>
<rect x="508.60" y="195.32" width="3.20" height="3.07" fill="#629af7"/>
<text x="514.00" y="198.16" font-size="3.0" text-anchor="start" fill="#f28a8a">*</text>
<text x="469.80" y="203.38" font-size="3.95" text-anchor="start" fill="#2a2a2a" stroke="#2a2a2a" stroke-width="0.12">TG(18:1/20:4/22:1)</text>
<rect x="508.60" y="200.44" width="4.20" height="3.07" fill="#689ef7"/>
<text x="515.00" y="203.28" font-size="3.0" text-anchor="start" fill="#f28a8a">*</text>
<text x="469.80" y="208.50" font-size="3.95" text-anchor="start" fill="#2a2a2a" stroke="#2a2a2a" stroke-width="0.12">Cer(m19:1/25:3)</text>
<rect x="508.60" y="205.56" width="6.40" height="3.07" fill="#2879f5"/>
<text x="517.20" y="208.40" font-size="3.0" text-anchor="start" fill="#f28a8a">*</text>
<text x="469.80" y="213.62" font-size="3.95" text-anchor="start" fill="#2a2a2a" stroke="#2a2a2a" stroke-width="0.12">PMe(38:0/16:0)</text>
<rect x="508.60" y="210.68" width="5.70" height="3.07" fill="#6fa2f7"/>
<text x="516.50" y="213.52" font-size="3.0" text-anchor="start" fill="#f28a8a">*</text>
<text x="469.80" y="218.74" font-size="3.95" text-anchor="start" fill="#2a2a2a" stroke="#2a2a2a" stroke-width="0.12">AcHexCer(16:0)</text>
<rect x="508.60" y="215.80" width="5.70" height="3.07" fill="#6fa2f7"/>
<text x="516.50" y="218.64" font-size="3.0" text-anchor="start" fill="#f28a8a">*</text>
<text x="469.80" y="223.86" font-size="3.95" text-anchor="start" fill="#2a2a2a" stroke="#2a2a2a" stroke-width="0.12">Cer(d20:1/18:0)</text>
<rect x="508.60" y="220.92" width="15.60" height="3.07" fill="#5593f6"/>
<text x="526.40" y="223.76" font-size="3.0" text-anchor="start" fill="#f28a8a">*</text>
<text x="469.80" y="228.98" font-size="3.95" text-anchor="start" fill="#2a2a2a" stroke="#2a2a2a" stroke-width="0.12">Cer(d20:1/18:1)</text>
<rect x="508.60" y="226.04" width="5.70" height="3.07" fill="#6fa2f7"/>
<text x="516.50" y="228.88" font-size="3.0" text-anchor="start" fill="#f28a8a">*</text>
<text x="469.80" y="234.10" font-size="3.95" text-anchor="start" fill="#2a2a2a" stroke="#2a2a2a" stroke-width="0.12">Cer(d20:2/16:0)</text>
<rect x="508.60" y="231.16" width="19.40" height="3.07" fill="#2175f5"/>
<text x="530.20" y="234.00" font-size="3.0" text-anchor="start" fill="#f28a8a">*</text>
<text x="469.80" y="239.22" font-size="3.95" text-anchor="start" fill="#2a2a2a" stroke="#2a2a2a" stroke-width="0.12">OAHFA(24:0/18:1)</text>
<rect x="508.60" y="236.28" width="4.20" height="3.07" fill="#6fa2f7"/>
<text x="515.00" y="239.12" font-size="3.0" text-anchor="start" fill="#f28a8a">*</text>
<text x="469.80" y="244.34" font-size="3.95" text-anchor="start" fill="#2a2a2a" stroke="#2a2a2a" stroke-width="0.12">MGMG(14:0)</text>
<rect x="508.60" y="241.40" width="4.70" height="3.07" fill="#4e8ff6"/>
<text x="515.50" y="244.24" font-size="3.0" text-anchor="start" fill="#f28a8a">*</text>
<text x="469.80" y="249.46" font-size="3.95" text-anchor="start" fill="#2a2a2a" stroke="#2a2a2a" stroke-width="0.12">Cer(d20:2/18:3)</text>
<rect x="508.60" y="246.52" width="10.60" height="3.07" fill="#5593f6"/>
<text x="521.40" y="249.36" font-size="3.0" text-anchor="start" fill="#f28a8a">*</text>
<text x="469.80" y="254.58" font-size="3.95" text-anchor="start" fill="#2a2a2a" stroke="#2a2a2a" stroke-width="0.12">Cer(d20:1/18:2)</text>
<rect x="508.60" y="251.64" width="12.90" height="3.07" fill="#5593f6"/>
<text x="523.70" y="254.48" font-size="3.0" text-anchor="start" fill="#f28a8a">*</text>
<text x="469.80" y="259.70" font-size="3.95" text-anchor="start" fill="#2a2a2a" stroke="#2a2a2a" stroke-width="0.12">Cer(d20:2/18:2)</text>
<rect x="508.60" y="256.76" width="12.90" height="3.07" fill="#5593f6"/>
<text x="523.70" y="259.60" font-size="3.0" text-anchor="start" fill="#f28a8a">*</text>
<text x="469.80" y="264.82" font-size="3.95" text-anchor="start" fill="#2a2a2a" stroke="#2a2a2a" stroke-width="0.12">TG(16:0/12:0/20:5)</text>
<rect x="508.60" y="261.88" width="4.70" height="3.07" fill="#2879f5"/>
<text x="515.50" y="264.72" font-size="3.0" text-anchor="start" fill="#f28a8a">*</text>
<text x="469.80" y="269.94" font-size="3.95" text-anchor="start" fill="#2a2a2a" stroke="#2a2a2a" stroke-width="0.12">AcHexCer(d18:0)</text>
<rect x="508.60" y="267.00" width="2.80" height="3.07" fill="#629af7"/>
<text x="513.60" y="269.84" font-size="3.0" text-anchor="start" fill="#f28a8a">*</text>
<text x="469.80" y="275.06" font-size="3.95" text-anchor="start" fill="#2a2a2a" stroke="#2a2a2a" stroke-width="0.12">Cer(m19:0/26:5)</text>
<rect x="508.60" y="272.12" width="5.10" height="3.07" fill="#2e7df6"/>
<text x="515.90" y="274.96" font-size="3.0" text-anchor="start" fill="#f28a8a">*</text>
<text x="469.80" y="280.18" font-size="3.95" text-anchor="start" fill="#2a2a2a" stroke="#2a2a2a" stroke-width="0.12">Cer(m19:0/26:6)</text>
<rect x="508.60" y="277.24" width="6.30" height="3.07" fill="#5593f6"/>
<text x="517.10" y="280.08" font-size="3.0" text-anchor="start" fill="#f28a8a">*</text>
<text x="469.80" y="285.30" font-size="3.95" text-anchor="start" fill="#2a2a2a" stroke="#2a2a2a" stroke-width="0.12">Cer(m19:0/26:5)</text>
<rect x="508.60" y="282.36" width="5.80" height="3.07" fill="#5593f6"/>
<text x="516.60" y="285.20" font-size="3.0" text-anchor="start" fill="#f28a8a">*</text>
<text x="469.80" y="290.42" font-size="3.95" text-anchor="start" fill="#2a2a2a" stroke="#2a2a2a" stroke-width="0.12">Hex1Cer(d19:2/18:0)</text>
<rect x="508.60" y="287.48" width="5.10" height="3.07" fill="#5593f6"/>
<text x="515.90" y="290.32" font-size="3.0" text-anchor="start" fill="#f28a8a">*</text>
<text x="469.80" y="295.54" font-size="3.95" text-anchor="start" fill="#2a2a2a" stroke="#2a2a2a" stroke-width="0.12">PMe(16:0/14:1)</text>
<rect x="508.60" y="292.60" width="2.80" height="3.07" fill="#6fa2f7"/>
<text x="513.60" y="295.44" font-size="3.0" text-anchor="start" fill="#f28a8a">*</text>
<line x1="508.60" y1="296.80" x2="533.30" y2="296.80" stroke="#b8b8b8" stroke-width="0.4"/>
<text x="508.60" y="300.80" font-size="3.8" text-anchor="middle" fill="#2b2b2b" stroke="#2b2b2b" stroke-width="0.18">1</text>
<text x="514.77" y="300.80" font-size="3.8" text-anchor="middle" fill="#2b2b2b" stroke="#2b2b2b" stroke-width="0.18">2</text>
<text x="520.95" y="300.80" font-size="3.8" text-anchor="middle" fill="#2b2b2b" stroke="#2b2b2b" stroke-width="0.18">3</text>
<text x="527.12" y="300.80" font-size="3.8" text-anchor="middle" fill="#2b2b2b" stroke="#2b2b2b" stroke-width="0.18">4</text>
<text x="533.30" y="300.80" font-size="3.8" text-anchor="middle" fill="#2b2b2b" stroke="#2b2b2b" stroke-width="0.18">5</text>
<text x="520.95" y="304.80" font-size="4.0" text-anchor="middle" fill="#2b2b2b" stroke="#2b2b2b" stroke-width="0.18">VIP</text>
<linearGradient id="cF" x1="0" y1="0" x2="0" y2="1"><stop offset="0" stop-color="#e83e2a"/><stop offset="0.5" stop-color="#ffffff"/><stop offset="1" stop-color="#1a6ccc"/></linearGradient>
<rect x="534.70" y="144.30" width="3.60" height="19.10" fill="url(#cF)"/>
<text x="539.90" y="146.40" font-size="3.3" text-anchor="start" fill="#444" stroke="#444" stroke-width="0.06">2</text>
<text x="539.90" y="150.68" font-size="3.3" text-anchor="start" fill="#444" stroke="#444" stroke-width="0.06">1</text>
<text x="539.90" y="154.95" font-size="3.3" text-anchor="start" fill="#444" stroke="#444" stroke-width="0.06">0</text>
<text x="539.90" y="159.22" font-size="3.3" text-anchor="start" fill="#444" stroke="#444" stroke-width="0.06">-1</text>
<text x="539.90" y="163.50" font-size="3.3" text-anchor="start" fill="#444" stroke="#444" stroke-width="0.06">-2</text>
<linearGradient id="vF" x1="0" y1="0" x2="0" y2="1"><stop offset="0" stop-color="#146ef5"/><stop offset="1" stop-color="#96b8f8"/></linearGradient>
<rect x="534.70" y="172.40" width="3.40" height="17.20" fill="url(#vF)"/>
<text x="539.90" y="174.50" font-size="3.3" text-anchor="start" fill="#444" stroke="#444" stroke-width="0.06">3</text>
<text x="539.90" y="179.57" font-size="3.3" text-anchor="start" fill="#444" stroke="#444" stroke-width="0.06">2.5</text>
<text x="539.90" y="184.63" font-size="3.3" text-anchor="start" fill="#444" stroke="#444" stroke-width="0.06">2</text>
<text x="539.90" y="189.70" font-size="3.3" text-anchor="start" fill="#444" stroke="#444" stroke-width="0.06">1.5</text>
</svg>
</body></html>
